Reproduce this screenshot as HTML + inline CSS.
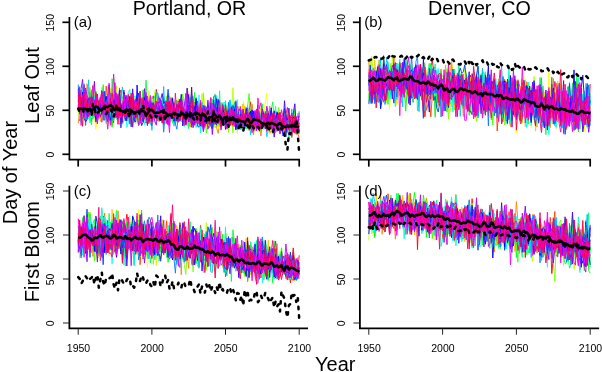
<!DOCTYPE html>
<html><head><meta charset="utf-8"><title>Phenology projections</title>
<style>
html,body{margin:0;padding:0;background:#fff}
svg{display:block}
text{font-family:"Liberation Sans",sans-serif;fill:#000}
.big{font-size:20px}
.ttl{font-size:19.65px}
.tk{font-size:10.5px}
.lab{font-size:15px}
polyline{fill:none;stroke-linejoin:round}
.ens{filter:url(#sf)}
.ens polyline{stroke-width:0.9}
polyline.mn{stroke:#000;stroke-width:2.6}
polyline.dt{stroke:#000;stroke-width:2.5;stroke-dasharray:2.4 6.2;stroke-linecap:round}
.ax path{fill:none;stroke:#000;stroke-width:1.7}
.ax.bt path{stroke:#222;stroke-width:1}
.ax.bt path.bx{stroke:#000;stroke-width:1.8}
</style></head><body>
<svg width="602" height="372" viewBox="0 0 602 372">
<defs><filter id="sf" x="-2%" y="-10%" width="104%" height="120%"><feGaussianBlur stdDeviation="0.65"/></filter></defs>
<rect width="602" height="372" fill="#fff"/>
<g class="ens">
<polyline points="78.2,99.1 79.7,120.8 81.1,111.7 82.6,106.0 84.1,98.2 85.6,95.2 87.0,112.0 88.5,111.5 90.0,104.4 91.5,111.5 92.9,111.1 94.4,98.3 95.9,92.4 97.4,106.5 98.8,110.5 100.3,103.6 101.8,122.3 103.2,109.4 104.7,116.6 106.2,86.1 107.7,102.4 109.1,108.0 110.6,110.8 112.1,125.1 113.6,102.7 115.0,93.9 116.5,114.6 118.0,103.1 119.5,102.8 120.9,120.3 122.4,100.9 123.9,95.2 125.3,107.8 126.8,110.4 128.3,102.7 129.8,120.7 131.2,109.5 132.7,93.1 134.2,119.0 135.7,101.4 137.1,113.6 138.6,124.9 140.1,111.8 141.6,117.7 143.0,108.4 144.5,119.2 146.0,101.9 147.4,116.6 148.9,108.5 150.4,115.9 151.9,110.3 153.3,101.3 154.8,110.3 156.3,115.0 157.8,120.8 159.2,102.2 160.7,103.4 162.2,115.0 163.7,99.6 165.1,119.9 166.6,119.9 168.1,118.8 169.5,110.4 171.0,111.0 172.5,118.6 174.0,103.0 175.4,107.1 176.9,112.6 178.4,105.2 179.9,116.2 181.3,115.2 182.8,110.5 184.3,113.8 185.8,108.0 187.2,123.0 188.7,102.8 190.2,120.2 191.6,116.4 193.1,124.1 194.6,102.2 196.1,104.9 197.5,106.8 199.0,109.0 200.5,125.7 202.0,121.1 203.4,114.3 204.9,122.2 206.4,107.4 207.9,106.7 209.3,117.2 210.8,113.2 212.3,122.9 213.7,122.8 215.2,122.8 216.7,113.7 218.2,115.2 219.6,113.4 221.1,109.5 222.6,126.1 224.1,121.7 225.5,117.5 227.0,126.3 228.5,121.9 230.0,111.1 231.4,110.6 232.9,110.9 234.4,119.2 235.8,120.9 237.3,111.4 238.8,122.0 240.3,117.5 241.7,110.1 243.2,122.4 244.7,123.8 246.2,120.8 247.6,116.4 249.1,111.6 250.6,120.1 252.1,117.2 253.5,129.6 255.0,126.0 256.5,120.7 257.9,109.2 259.4,128.8 260.9,128.3 262.4,127.0 263.8,123.6 265.3,127.8 266.8,121.3 268.3,110.9 269.7,124.0 271.2,114.3 272.7,121.6 274.2,121.1 275.6,125.2 277.1,128.6 278.6,118.1 280.0,129.7 281.5,115.3 283.0,120.7 284.5,133.9 285.9,119.7 287.4,114.5 288.9,128.9 290.4,118.8 291.8,133.4 293.3,124.2 294.8,133.1 296.3,123.0 297.7,133.8 299.2,137.4" stroke="#ff4000"/>
<polyline points="78.2,108.2 79.7,94.9 81.1,96.3 82.6,112.3 84.1,110.8 85.6,112.5 87.0,100.0 88.5,109.2 90.0,101.4 91.5,121.9 92.9,93.4 94.4,109.7 95.9,100.7 97.4,108.8 98.8,111.8 100.3,104.6 101.8,100.3 103.2,110.6 104.7,110.3 106.2,102.7 107.7,115.4 109.1,119.9 110.6,105.6 112.1,114.1 113.6,122.7 115.0,97.3 116.5,112.8 118.0,117.8 119.5,119.9 120.9,90.0 122.4,101.3 123.9,111.5 125.3,115.0 126.8,106.4 128.3,103.4 129.8,112.3 131.2,105.2 132.7,100.7 134.2,112.0 135.7,116.2 137.1,107.6 138.6,108.6 140.1,100.9 141.6,119.8 143.0,109.4 144.5,117.0 146.0,123.1 147.4,110.5 148.9,107.0 150.4,116.8 151.9,99.4 153.3,95.9 154.8,106.6 156.3,89.4 157.8,103.9 159.2,121.4 160.7,107.3 162.2,107.5 163.7,124.6 165.1,110.0 166.6,114.9 168.1,96.3 169.5,116.4 171.0,113.4 172.5,110.7 174.0,119.5 175.4,108.7 176.9,114.8 178.4,109.9 179.9,117.7 181.3,105.0 182.8,109.4 184.3,110.4 185.8,109.4 187.2,88.1 188.7,99.7 190.2,125.2 191.6,107.8 193.1,111.5 194.6,116.2 196.1,122.0 197.5,105.2 199.0,123.8 200.5,111.4 202.0,105.4 203.4,126.1 204.9,118.4 206.4,124.6 207.9,114.9 209.3,104.5 210.8,100.5 212.3,127.8 213.7,120.8 215.2,111.9 216.7,104.9 218.2,114.5 219.6,122.4 221.1,115.8 222.6,118.5 224.1,119.7 225.5,122.8 227.0,115.7 228.5,116.5 230.0,119.6 231.4,120.5 232.9,126.4 234.4,122.2 235.8,110.3 237.3,120.9 238.8,127.7 240.3,106.5 241.7,116.2 243.2,104.2 244.7,120.1 246.2,123.2 247.6,128.4 249.1,111.0 250.6,101.8 252.1,125.6 253.5,124.8 255.0,117.3 256.5,126.0 257.9,123.4 259.4,123.9 260.9,121.0 262.4,114.5 263.8,122.5 265.3,116.1 266.8,125.0 268.3,120.8 269.7,133.4 271.2,130.3 272.7,117.9 274.2,126.6 275.6,119.9 277.1,120.3 278.6,114.9 280.0,118.7 281.5,117.5 283.0,125.3 284.5,128.0 285.9,128.3 287.4,127.4 288.9,130.3 290.4,128.0 291.8,126.2 293.3,124.2 294.8,127.5 296.3,134.3 297.7,126.7 299.2,125.0" stroke="#ff0000"/>
<polyline points="78.2,123.3 79.7,111.5 81.1,110.5 82.6,96.1 84.1,87.1 85.6,118.0 87.0,83.9 88.5,93.1 90.0,100.4 91.5,105.1 92.9,84.8 94.4,108.1 95.9,112.3 97.4,107.6 98.8,118.6 100.3,104.4 101.8,109.9 103.2,105.9 104.7,105.6 106.2,116.6 107.7,96.4 109.1,116.3 110.6,100.7 112.1,120.4 113.6,105.8 115.0,115.1 116.5,109.1 118.0,114.0 119.5,124.5 120.9,116.8 122.4,109.0 123.9,103.8 125.3,119.8 126.8,105.2 128.3,115.9 129.8,111.6 131.2,108.7 132.7,115.8 134.2,102.5 135.7,101.5 137.1,103.8 138.6,117.1 140.1,110.2 141.6,112.4 143.0,120.7 144.5,103.2 146.0,110.6 147.4,114.8 148.9,98.7 150.4,104.8 151.9,104.1 153.3,101.1 154.8,105.6 156.3,120.6 157.8,115.0 159.2,103.5 160.7,117.7 162.2,112.4 163.7,98.5 165.1,100.1 166.6,101.6 168.1,105.3 169.5,114.6 171.0,105.4 172.5,109.0 174.0,114.8 175.4,101.9 176.9,109.7 178.4,119.0 179.9,103.2 181.3,116.0 182.8,109.3 184.3,124.4 185.8,114.9 187.2,120.9 188.7,116.4 190.2,127.3 191.6,87.1 193.1,116.4 194.6,113.5 196.1,106.2 197.5,116.6 199.0,111.6 200.5,124.4 202.0,114.6 203.4,118.9 204.9,112.3 206.4,115.2 207.9,125.1 209.3,128.0 210.8,123.1 212.3,111.2 213.7,113.9 215.2,113.3 216.7,128.2 218.2,133.4 219.6,121.6 221.1,120.1 222.6,121.8 224.1,115.6 225.5,119.4 227.0,125.4 228.5,123.8 230.0,117.9 231.4,118.6 232.9,119.8 234.4,101.7 235.8,121.1 237.3,118.9 238.8,125.3 240.3,122.0 241.7,116.2 243.2,113.3 244.7,121.4 246.2,117.7 247.6,107.5 249.1,130.7 250.6,116.6 252.1,104.0 253.5,115.3 255.0,122.0 256.5,130.6 257.9,128.4 259.4,112.2 260.9,136.0 262.4,124.1 263.8,116.3 265.3,121.8 266.8,117.5 268.3,123.8 269.7,106.0 271.2,128.3 272.7,130.0 274.2,121.9 275.6,111.2 277.1,117.7 278.6,116.9 280.0,126.9 281.5,129.9 283.0,115.0 284.5,114.0 285.9,114.4 287.4,127.2 288.9,130.4 290.4,130.6 291.8,126.7 293.3,121.9 294.8,122.6 296.3,132.3 297.7,125.1 299.2,122.9" stroke="#ff8000"/>
<polyline points="78.2,115.9 79.7,96.9 81.1,103.6 82.6,110.7 84.1,120.5 85.6,113.5 87.0,109.4 88.5,101.1 90.0,112.1 91.5,98.8 92.9,108.4 94.4,114.8 95.9,129.2 97.4,117.9 98.8,120.1 100.3,110.8 101.8,106.7 103.2,96.4 104.7,109.9 106.2,117.9 107.7,85.2 109.1,107.1 110.6,111.8 112.1,111.8 113.6,119.3 115.0,103.6 116.5,106.7 118.0,95.1 119.5,99.3 120.9,102.1 122.4,98.5 123.9,112.3 125.3,113.4 126.8,110.8 128.3,119.0 129.8,111.6 131.2,113.0 132.7,104.8 134.2,111.1 135.7,124.0 137.1,111.0 138.6,98.3 140.1,120.4 141.6,116.7 143.0,111.6 144.5,120.7 146.0,115.6 147.4,111.7 148.9,120.9 150.4,109.7 151.9,108.8 153.3,120.9 154.8,112.4 156.3,103.1 157.8,112.7 159.2,109.2 160.7,107.4 162.2,114.7 163.7,104.6 165.1,110.1 166.6,120.0 168.1,109.1 169.5,93.2 171.0,106.9 172.5,118.2 174.0,110.2 175.4,102.3 176.9,112.4 178.4,104.2 179.9,103.3 181.3,114.9 182.8,109.1 184.3,116.8 185.8,105.9 187.2,115.7 188.7,118.8 190.2,115.6 191.6,116.0 193.1,112.4 194.6,111.9 196.1,123.1 197.5,120.1 199.0,113.2 200.5,112.3 202.0,115.8 203.4,94.6 204.9,107.4 206.4,117.3 207.9,111.0 209.3,106.1 210.8,114.3 212.3,127.7 213.7,116.8 215.2,117.3 216.7,100.5 218.2,128.6 219.6,105.6 221.1,119.1 222.6,110.9 224.1,120.2 225.5,117.3 227.0,109.8 228.5,118.3 230.0,110.7 231.4,119.7 232.9,121.6 234.4,120.7 235.8,122.4 237.3,120.5 238.8,109.4 240.3,126.3 241.7,129.0 243.2,101.1 244.7,107.6 246.2,112.7 247.6,110.7 249.1,111.5 250.6,124.9 252.1,120.4 253.5,134.9 255.0,124.7 256.5,117.2 257.9,129.7 259.4,132.3 260.9,128.6 262.4,120.8 263.8,114.0 265.3,102.7 266.8,93.0 268.3,130.2 269.7,134.2 271.2,122.2 272.7,115.8 274.2,131.2 275.6,126.2 277.1,126.0 278.6,123.8 280.0,125.1 281.5,120.7 283.0,117.0 284.5,124.1 285.9,119.5 287.4,111.1 288.9,129.6 290.4,123.0 291.8,121.9 293.3,112.8 294.8,116.8 296.3,118.4 297.7,126.4 299.2,119.9" stroke="#ffff00"/>
<polyline points="78.2,92.8 79.7,106.1 81.1,120.2 82.6,96.7 84.1,102.3 85.6,101.2 87.0,96.3 88.5,114.6 90.0,92.1 91.5,105.7 92.9,96.1 94.4,85.4 95.9,112.8 97.4,109.8 98.8,106.4 100.3,121.8 101.8,113.9 103.2,113.7 104.7,93.9 106.2,113.9 107.7,94.2 109.1,109.3 110.6,121.0 112.1,88.1 113.6,116.2 115.0,103.6 116.5,85.8 118.0,113.3 119.5,108.6 120.9,99.8 122.4,109.2 123.9,118.2 125.3,117.3 126.8,112.7 128.3,101.0 129.8,112.2 131.2,104.2 132.7,95.0 134.2,98.7 135.7,97.3 137.1,99.4 138.6,121.7 140.1,99.7 141.6,100.9 143.0,112.1 144.5,118.7 146.0,122.1 147.4,119.1 148.9,104.3 150.4,119.7 151.9,117.4 153.3,116.2 154.8,106.2 156.3,114.4 157.8,113.5 159.2,96.4 160.7,114.9 162.2,105.2 163.7,119.9 165.1,110.2 166.6,112.2 168.1,111.8 169.5,116.5 171.0,120.3 172.5,115.7 174.0,116.9 175.4,104.9 176.9,106.2 178.4,122.0 179.9,108.9 181.3,117.6 182.8,98.6 184.3,117.8 185.8,124.3 187.2,106.2 188.7,111.2 190.2,123.0 191.6,127.3 193.1,117.4 194.6,123.0 196.1,118.0 197.5,110.6 199.0,103.6 200.5,112.6 202.0,104.7 203.4,106.7 204.9,119.2 206.4,126.7 207.9,109.8 209.3,112.0 210.8,97.8 212.3,105.6 213.7,111.1 215.2,103.8 216.7,123.8 218.2,116.3 219.6,119.6 221.1,104.1 222.6,113.8 224.1,122.6 225.5,107.7 227.0,123.8 228.5,112.7 230.0,121.7 231.4,117.3 232.9,113.9 234.4,117.9 235.8,124.8 237.3,108.9 238.8,116.8 240.3,120.2 241.7,114.7 243.2,123.2 244.7,106.0 246.2,118.9 247.6,118.0 249.1,118.3 250.6,125.8 252.1,127.3 253.5,119.8 255.0,119.0 256.5,111.7 257.9,112.6 259.4,127.5 260.9,107.8 262.4,116.3 263.8,115.2 265.3,120.3 266.8,128.8 268.3,114.6 269.7,126.7 271.2,119.2 272.7,130.9 274.2,118.2 275.6,127.5 277.1,116.3 278.6,111.7 280.0,116.1 281.5,128.1 283.0,128.9 284.5,128.7 285.9,120.4 287.4,122.8 288.9,124.2 290.4,123.4 291.8,121.7 293.3,121.4 294.8,103.5 296.3,126.4 297.7,124.9 299.2,134.2" stroke="#ffbf00"/>
<polyline points="78.2,108.6 79.7,98.3 81.1,101.3 82.6,111.7 84.1,100.1 85.6,97.7 87.0,115.8 88.5,100.2 90.0,87.5 91.5,107.7 92.9,101.0 94.4,117.3 95.9,102.9 97.4,112.1 98.8,100.0 100.3,108.1 101.8,116.4 103.2,96.9 104.7,109.7 106.2,115.3 107.7,107.2 109.1,115.1 110.6,104.1 112.1,108.6 113.6,111.0 115.0,101.6 116.5,117.4 118.0,98.8 119.5,122.4 120.9,92.8 122.4,106.6 123.9,110.6 125.3,113.9 126.8,103.3 128.3,110.2 129.8,110.4 131.2,99.1 132.7,112.4 134.2,111.1 135.7,105.2 137.1,99.3 138.6,109.9 140.1,101.3 141.6,109.3 143.0,102.9 144.5,96.1 146.0,116.8 147.4,111.5 148.9,110.8 150.4,104.7 151.9,96.8 153.3,110.9 154.8,108.9 156.3,100.6 157.8,119.8 159.2,116.7 160.7,114.7 162.2,111.6 163.7,109.6 165.1,115.6 166.6,96.1 168.1,117.0 169.5,113.8 171.0,102.5 172.5,105.5 174.0,112.7 175.4,109.3 176.9,105.5 178.4,113.0 179.9,107.3 181.3,119.5 182.8,112.7 184.3,124.4 185.8,114.0 187.2,121.4 188.7,103.0 190.2,117.3 191.6,111.5 193.1,120.5 194.6,116.0 196.1,116.6 197.5,113.8 199.0,107.5 200.5,125.7 202.0,109.8 203.4,92.8 204.9,120.8 206.4,115.4 207.9,125.6 209.3,116.2 210.8,124.1 212.3,111.1 213.7,119.7 215.2,127.9 216.7,124.8 218.2,126.6 219.6,119.1 221.1,110.4 222.6,115.5 224.1,124.8 225.5,120.3 227.0,112.8 228.5,132.3 230.0,113.8 231.4,115.4 232.9,132.7 234.4,109.6 235.8,128.4 237.3,120.7 238.8,110.2 240.3,128.7 241.7,130.0 243.2,126.2 244.7,126.1 246.2,118.3 247.6,123.5 249.1,123.5 250.6,123.5 252.1,122.1 253.5,125.8 255.0,118.9 256.5,121.6 257.9,127.0 259.4,108.1 260.9,128.5 262.4,116.7 263.8,126.2 265.3,119.2 266.8,118.8 268.3,116.5 269.7,112.5 271.2,127.3 272.7,118.8 274.2,120.5 275.6,127.6 277.1,130.2 278.6,106.9 280.0,112.2 281.5,124.3 283.0,118.9 284.5,111.3 285.9,123.9 287.4,126.9 288.9,125.2 290.4,119.2 291.8,125.1 293.3,123.0 294.8,120.3 296.3,133.3 297.7,129.3 299.2,117.5" stroke="#80ff00"/>
<polyline points="78.2,112.8 79.7,110.2 81.1,114.4 82.6,102.3 84.1,97.8 85.6,89.4 87.0,97.0 88.5,113.5 90.0,105.9 91.5,118.2 92.9,101.3 94.4,103.4 95.9,113.0 97.4,109.5 98.8,110.6 100.3,113.3 101.8,87.3 103.2,118.0 104.7,100.8 106.2,98.6 107.7,107.4 109.1,111.5 110.6,87.8 112.1,111.7 113.6,105.3 115.0,110.1 116.5,89.3 118.0,109.7 119.5,103.6 120.9,118.1 122.4,110.2 123.9,91.5 125.3,116.7 126.8,114.3 128.3,96.8 129.8,106.0 131.2,96.1 132.7,125.3 134.2,108.8 135.7,116.7 137.1,119.9 138.6,106.7 140.1,99.7 141.6,120.9 143.0,110.9 144.5,115.1 146.0,112.1 147.4,120.3 148.9,90.7 150.4,106.2 151.9,114.2 153.3,115.4 154.8,90.8 156.3,91.8 157.8,115.5 159.2,101.5 160.7,101.1 162.2,120.5 163.7,116.7 165.1,100.8 166.6,117.6 168.1,116.0 169.5,122.1 171.0,118.4 172.5,107.4 174.0,119.1 175.4,122.3 176.9,118.0 178.4,98.5 179.9,112.5 181.3,118.0 182.8,113.1 184.3,110.7 185.8,113.7 187.2,126.5 188.7,112.4 190.2,116.5 191.6,108.0 193.1,123.9 194.6,106.5 196.1,118.8 197.5,126.4 199.0,104.6 200.5,119.3 202.0,93.7 203.4,117.4 204.9,107.4 206.4,107.4 207.9,107.5 209.3,111.1 210.8,124.8 212.3,127.3 213.7,115.8 215.2,123.2 216.7,113.9 218.2,112.1 219.6,123.4 221.1,124.2 222.6,124.9 224.1,123.6 225.5,119.8 227.0,113.4 228.5,108.3 230.0,124.5 231.4,122.4 232.9,87.7 234.4,112.5 235.8,117.9 237.3,132.6 238.8,106.1 240.3,118.9 241.7,123.5 243.2,105.0 244.7,119.9 246.2,118.6 247.6,126.7 249.1,126.5 250.6,113.1 252.1,124.6 253.5,122.8 255.0,118.9 256.5,120.1 257.9,114.6 259.4,129.0 260.9,120.8 262.4,120.8 263.8,111.0 265.3,123.9 266.8,120.6 268.3,127.1 269.7,120.3 271.2,115.0 272.7,126.6 274.2,125.9 275.6,124.2 277.1,120.0 278.6,129.6 280.0,118.2 281.5,126.2 283.0,111.4 284.5,114.7 285.9,126.9 287.4,128.1 288.9,108.3 290.4,121.2 291.8,121.9 293.3,127.8 294.8,126.7 296.3,120.7 297.7,122.2 299.2,130.0" stroke="#bfff00"/>
<polyline points="78.2,91.8 79.7,98.5 81.1,114.8 82.6,118.7 84.1,100.2 85.6,119.2 87.0,99.8 88.5,105.4 90.0,112.8 91.5,110.7 92.9,98.0 94.4,107.5 95.9,101.8 97.4,109.1 98.8,111.6 100.3,104.0 101.8,103.2 103.2,101.1 104.7,108.7 106.2,116.9 107.7,116.2 109.1,111.6 110.6,121.7 112.1,78.7 113.6,100.4 115.0,116.9 116.5,110.4 118.0,93.7 119.5,105.9 120.9,116.5 122.4,124.2 123.9,120.8 125.3,98.9 126.8,107.1 128.3,118.8 129.8,103.7 131.2,112.8 132.7,114.9 134.2,114.0 135.7,113.8 137.1,95.5 138.6,117.2 140.1,113.7 141.6,99.0 143.0,97.6 144.5,117.9 146.0,80.1 147.4,101.7 148.9,121.5 150.4,95.6 151.9,121.7 153.3,104.4 154.8,119.8 156.3,124.0 157.8,104.9 159.2,108.9 160.7,102.4 162.2,111.2 163.7,113.7 165.1,112.8 166.6,118.4 168.1,108.2 169.5,109.7 171.0,115.2 172.5,117.4 174.0,115.7 175.4,121.1 176.9,116.1 178.4,120.5 179.9,103.2 181.3,104.5 182.8,117.5 184.3,114.6 185.8,108.0 187.2,111.0 188.7,115.0 190.2,96.8 191.6,115.4 193.1,112.7 194.6,92.5 196.1,121.2 197.5,107.8 199.0,112.3 200.5,124.1 202.0,120.1 203.4,109.5 204.9,125.3 206.4,117.8 207.9,102.9 209.3,118.4 210.8,115.0 212.3,121.2 213.7,121.1 215.2,121.2 216.7,119.8 218.2,107.7 219.6,117.5 221.1,102.4 222.6,114.0 224.1,116.3 225.5,100.8 227.0,119.4 228.5,123.4 230.0,117.9 231.4,125.2 232.9,115.4 234.4,108.9 235.8,114.8 237.3,122.0 238.8,120.8 240.3,116.4 241.7,111.3 243.2,122.5 244.7,122.8 246.2,112.5 247.6,119.3 249.1,118.5 250.6,117.6 252.1,125.3 253.5,122.3 255.0,113.8 256.5,122.7 257.9,123.0 259.4,120.0 260.9,119.5 262.4,103.9 263.8,126.6 265.3,121.8 266.8,108.4 268.3,122.9 269.7,120.6 271.2,110.9 272.7,101.9 274.2,117.6 275.6,118.1 277.1,116.9 278.6,121.7 280.0,124.7 281.5,118.6 283.0,124.8 284.5,119.5 285.9,111.6 287.4,126.7 288.9,137.7 290.4,126.2 291.8,120.5 293.3,127.0 294.8,110.1 296.3,130.3 297.7,127.8 299.2,111.0" stroke="#00ff40"/>
<polyline points="78.2,114.7 79.7,115.5 81.1,108.0 82.6,115.7 84.1,83.6 85.6,114.2 87.0,114.2 88.5,102.2 90.0,112.0 91.5,125.1 92.9,109.9 94.4,115.8 95.9,112.6 97.4,120.2 98.8,115.4 100.3,110.4 101.8,109.8 103.2,117.0 104.7,114.4 106.2,115.4 107.7,108.4 109.1,110.7 110.6,118.2 112.1,103.8 113.6,114.6 115.0,106.3 116.5,116.2 118.0,107.3 119.5,110.9 120.9,109.7 122.4,105.6 123.9,106.3 125.3,108.9 126.8,109.1 128.3,119.0 129.8,111.1 131.2,125.3 132.7,125.8 134.2,113.1 135.7,112.6 137.1,97.6 138.6,105.4 140.1,101.5 141.6,113.6 143.0,107.8 144.5,101.3 146.0,107.2 147.4,108.9 148.9,111.3 150.4,118.2 151.9,118.2 153.3,121.8 154.8,105.9 156.3,114.4 157.8,117.1 159.2,109.8 160.7,116.7 162.2,103.9 163.7,96.4 165.1,109.4 166.6,117.9 168.1,123.2 169.5,95.7 171.0,109.9 172.5,121.4 174.0,104.7 175.4,124.8 176.9,117.1 178.4,115.9 179.9,116.8 181.3,121.9 182.8,94.2 184.3,111.8 185.8,111.8 187.2,114.9 188.7,125.3 190.2,118.8 191.6,113.7 193.1,107.0 194.6,117.9 196.1,110.0 197.5,118.1 199.0,111.2 200.5,131.3 202.0,111.4 203.4,120.3 204.9,120.1 206.4,133.0 207.9,123.3 209.3,112.1 210.8,98.4 212.3,121.5 213.7,121.4 215.2,113.8 216.7,115.6 218.2,111.4 219.6,119.1 221.1,120.5 222.6,113.5 224.1,112.3 225.5,104.8 227.0,111.6 228.5,113.8 230.0,117.9 231.4,104.4 232.9,117.0 234.4,102.8 235.8,117.6 237.3,109.0 238.8,124.3 240.3,112.2 241.7,109.8 243.2,121.4 244.7,124.1 246.2,125.3 247.6,106.3 249.1,93.6 250.6,116.4 252.1,119.9 253.5,125.2 255.0,130.9 256.5,130.8 257.9,123.2 259.4,123.0 260.9,128.1 262.4,116.7 263.8,118.9 265.3,121.7 266.8,131.4 268.3,124.2 269.7,123.5 271.2,129.4 272.7,133.8 274.2,110.1 275.6,119.6 277.1,125.9 278.6,113.0 280.0,116.6 281.5,121.5 283.0,123.2 284.5,119.5 285.9,115.0 287.4,124.8 288.9,126.4 290.4,121.6 291.8,137.8 293.3,125.3 294.8,127.8 296.3,126.3 297.7,127.2 299.2,124.3" stroke="#40ff00"/>
<polyline points="78.2,109.5 79.7,110.3 81.1,90.1 82.6,103.9 84.1,89.9 85.6,114.2 87.0,108.6 88.5,111.9 90.0,92.3 91.5,111.0 92.9,109.8 94.4,112.0 95.9,91.4 97.4,102.5 98.8,114.3 100.3,112.8 101.8,102.0 103.2,84.6 104.7,112.6 106.2,100.4 107.7,119.2 109.1,112.7 110.6,92.9 112.1,127.3 113.6,110.9 115.0,100.2 116.5,110.6 118.0,115.0 119.5,115.7 120.9,123.8 122.4,118.8 123.9,109.3 125.3,113.8 126.8,110.1 128.3,101.3 129.8,96.9 131.2,121.5 132.7,112.5 134.2,112.9 135.7,112.8 137.1,116.7 138.6,125.5 140.1,105.3 141.6,103.7 143.0,89.7 144.5,104.8 146.0,96.6 147.4,106.3 148.9,114.3 150.4,107.5 151.9,119.7 153.3,110.0 154.8,113.0 156.3,119.3 157.8,101.6 159.2,102.7 160.7,108.7 162.2,105.7 163.7,98.4 165.1,114.0 166.6,122.0 168.1,119.5 169.5,107.4 171.0,111.6 172.5,123.3 174.0,102.3 175.4,112.1 176.9,100.1 178.4,104.4 179.9,117.1 181.3,113.6 182.8,119.2 184.3,120.0 185.8,116.7 187.2,110.6 188.7,103.3 190.2,120.8 191.6,109.3 193.1,115.0 194.6,116.9 196.1,106.1 197.5,118.0 199.0,104.3 200.5,118.1 202.0,121.7 203.4,109.9 204.9,125.2 206.4,123.7 207.9,117.8 209.3,116.8 210.8,118.6 212.3,128.7 213.7,125.1 215.2,113.3 216.7,113.2 218.2,123.5 219.6,115.7 221.1,116.3 222.6,110.0 224.1,122.5 225.5,106.8 227.0,120.3 228.5,104.6 230.0,111.6 231.4,124.6 232.9,120.9 234.4,117.1 235.8,111.5 237.3,127.1 238.8,122.5 240.3,115.1 241.7,116.4 243.2,125.8 244.7,125.1 246.2,117.2 247.6,126.0 249.1,119.1 250.6,114.1 252.1,117.3 253.5,134.9 255.0,112.7 256.5,113.1 257.9,111.3 259.4,115.6 260.9,130.4 262.4,111.9 263.8,119.9 265.3,115.8 266.8,123.6 268.3,124.2 269.7,124.3 271.2,111.8 272.7,121.5 274.2,124.6 275.6,119.4 277.1,120.6 278.6,124.0 280.0,123.1 281.5,117.5 283.0,119.5 284.5,124.7 285.9,123.4 287.4,124.4 288.9,120.3 290.4,120.6 291.8,121.9 293.3,129.4 294.8,120.1 296.3,119.9 297.7,130.7 299.2,123.7" stroke="#00ff00"/>
<polyline points="78.2,95.1 79.7,119.0 81.1,121.0 82.6,86.7 84.1,99.1 85.6,102.5 87.0,105.0 88.5,105.3 90.0,115.2 91.5,110.5 92.9,115.8 94.4,96.6 95.9,101.9 97.4,105.9 98.8,104.5 100.3,109.6 101.8,116.8 103.2,91.5 104.7,102.1 106.2,110.0 107.7,102.8 109.1,94.5 110.6,97.0 112.1,102.2 113.6,100.6 115.0,110.6 116.5,95.6 118.0,99.6 119.5,99.7 120.9,118.2 122.4,102.8 123.9,102.6 125.3,101.4 126.8,127.5 128.3,122.5 129.8,106.8 131.2,116.4 132.7,106.1 134.2,110.7 135.7,101.9 137.1,114.2 138.6,117.8 140.1,105.5 141.6,112.7 143.0,118.4 144.5,124.6 146.0,105.0 147.4,113.8 148.9,113.1 150.4,124.9 151.9,118.6 153.3,112.9 154.8,108.8 156.3,104.8 157.8,117.3 159.2,107.8 160.7,101.8 162.2,113.2 163.7,113.2 165.1,123.7 166.6,118.5 168.1,122.3 169.5,107.0 171.0,114.6 172.5,99.0 174.0,111.8 175.4,106.4 176.9,109.1 178.4,112.0 179.9,121.2 181.3,99.3 182.8,114.9 184.3,126.6 185.8,118.4 187.2,121.9 188.7,104.3 190.2,105.6 191.6,101.5 193.1,95.9 194.6,119.5 196.1,127.6 197.5,121.6 199.0,94.9 200.5,133.0 202.0,119.8 203.4,108.8 204.9,121.5 206.4,117.2 207.9,122.2 209.3,101.7 210.8,99.8 212.3,123.3 213.7,122.3 215.2,116.1 216.7,111.5 218.2,113.8 219.6,112.0 221.1,109.3 222.6,107.6 224.1,102.1 225.5,116.2 227.0,120.8 228.5,118.5 230.0,99.7 231.4,110.0 232.9,112.4 234.4,107.4 235.8,108.4 237.3,99.5 238.8,123.6 240.3,111.8 241.7,113.0 243.2,112.6 244.7,121.8 246.2,128.7 247.6,121.6 249.1,124.0 250.6,120.9 252.1,111.6 253.5,115.0 255.0,126.9 256.5,125.1 257.9,119.5 259.4,112.4 260.9,121.8 262.4,119.4 263.8,129.7 265.3,124.7 266.8,126.4 268.3,120.8 269.7,124.1 271.2,127.3 272.7,128.5 274.2,121.6 275.6,126.7 277.1,115.1 278.6,122.6 280.0,125.4 281.5,117.5 283.0,130.0 284.5,117.8 285.9,128.1 287.4,119.6 288.9,128.2 290.4,129.6 291.8,133.7 293.3,114.4 294.8,122.3 296.3,132.1 297.7,113.6 299.2,126.4" stroke="#00ffff"/>
<polyline points="78.2,98.1 79.7,110.4 81.1,122.5 82.6,107.0 84.1,108.1 85.6,121.0 87.0,112.4 88.5,118.8 90.0,112.1 91.5,96.5 92.9,113.4 94.4,95.6 95.9,106.5 97.4,114.2 98.8,111.9 100.3,101.5 101.8,102.4 103.2,119.5 104.7,112.1 106.2,98.2 107.7,114.4 109.1,105.3 110.6,122.9 112.1,115.8 113.6,94.4 115.0,111.2 116.5,119.5 118.0,119.2 119.5,112.2 120.9,120.5 122.4,110.4 123.9,104.3 125.3,95.0 126.8,112.6 128.3,92.5 129.8,89.4 131.2,111.7 132.7,105.3 134.2,96.0 135.7,96.4 137.1,103.5 138.6,111.4 140.1,103.0 141.6,109.0 143.0,109.5 144.5,108.8 146.0,94.5 147.4,119.6 148.9,112.2 150.4,119.1 151.9,103.8 153.3,101.7 154.8,96.2 156.3,114.6 157.8,111.8 159.2,105.4 160.7,110.9 162.2,110.0 163.7,111.0 165.1,110.4 166.6,113.8 168.1,109.2 169.5,123.0 171.0,116.2 172.5,122.3 174.0,114.3 175.4,118.6 176.9,109.1 178.4,102.8 179.9,115.0 181.3,119.4 182.8,111.5 184.3,101.8 185.8,107.8 187.2,110.9 188.7,115.3 190.2,117.9 191.6,111.8 193.1,110.9 194.6,114.0 196.1,115.9 197.5,122.0 199.0,121.1 200.5,118.3 202.0,123.3 203.4,113.5 204.9,122.0 206.4,118.4 207.9,113.7 209.3,110.0 210.8,114.9 212.3,106.6 213.7,120.8 215.2,122.0 216.7,95.4 218.2,122.9 219.6,118.8 221.1,115.5 222.6,109.0 224.1,112.5 225.5,122.8 227.0,128.5 228.5,116.7 230.0,102.8 231.4,109.8 232.9,104.5 234.4,117.5 235.8,120.8 237.3,117.1 238.8,121.5 240.3,127.4 241.7,125.0 243.2,120.8 244.7,129.2 246.2,127.5 247.6,111.4 249.1,124.5 250.6,115.0 252.1,112.9 253.5,121.3 255.0,115.3 256.5,122.7 257.9,126.3 259.4,122.6 260.9,121.7 262.4,121.5 263.8,122.0 265.3,124.7 266.8,115.0 268.3,124.0 269.7,125.2 271.2,116.6 272.7,128.2 274.2,120.8 275.6,106.3 277.1,123.5 278.6,114.0 280.0,125.5 281.5,126.8 283.0,125.4 284.5,127.3 285.9,126.5 287.4,127.1 288.9,119.6 290.4,122.6 291.8,126.5 293.3,129.0 294.8,120.5 296.3,126.9 297.7,116.6 299.2,131.3" stroke="#00ffbf"/>
<polyline points="78.2,111.0 79.7,105.8 81.1,92.0 82.6,110.9 84.1,103.9 85.6,110.4 87.0,104.3 88.5,107.2 90.0,122.8 91.5,108.0 92.9,119.0 94.4,115.0 95.9,120.7 97.4,101.1 98.8,111.4 100.3,111.9 101.8,97.0 103.2,102.3 104.7,110.8 106.2,123.8 107.7,103.0 109.1,110.8 110.6,112.0 112.1,102.4 113.6,113.9 115.0,110.2 116.5,101.1 118.0,104.2 119.5,113.9 120.9,95.9 122.4,98.9 123.9,92.0 125.3,110.3 126.8,108.0 128.3,100.2 129.8,106.1 131.2,109.0 132.7,111.2 134.2,112.6 135.7,115.1 137.1,115.2 138.6,104.8 140.1,113.1 141.6,120.6 143.0,110.8 144.5,96.2 146.0,99.0 147.4,125.0 148.9,117.4 150.4,104.8 151.9,111.3 153.3,111.5 154.8,113.1 156.3,111.9 157.8,119.2 159.2,102.0 160.7,119.6 162.2,113.8 163.7,99.3 165.1,103.4 166.6,113.3 168.1,113.4 169.5,117.4 171.0,116.8 172.5,112.7 174.0,102.1 175.4,116.7 176.9,109.1 178.4,110.4 179.9,110.8 181.3,116.2 182.8,108.2 184.3,113.2 185.8,113.9 187.2,117.9 188.7,128.7 190.2,108.9 191.6,108.8 193.1,118.5 194.6,116.6 196.1,113.2 197.5,121.7 199.0,109.9 200.5,110.0 202.0,109.0 203.4,108.6 204.9,127.9 206.4,112.2 207.9,119.3 209.3,107.7 210.8,108.3 212.3,99.1 213.7,117.8 215.2,93.9 216.7,117.9 218.2,123.7 219.6,90.7 221.1,126.3 222.6,102.8 224.1,110.2 225.5,107.9 227.0,110.3 228.5,115.5 230.0,126.1 231.4,122.3 232.9,114.7 234.4,120.4 235.8,116.5 237.3,123.3 238.8,123.9 240.3,117.5 241.7,114.3 243.2,120.1 244.7,125.4 246.2,129.1 247.6,105.3 249.1,126.7 250.6,125.5 252.1,124.9 253.5,114.6 255.0,125.1 256.5,117.6 257.9,119.6 259.4,127.6 260.9,121.0 262.4,128.3 263.8,123.3 265.3,117.3 266.8,124.0 268.3,113.7 269.7,125.2 271.2,116.6 272.7,121.1 274.2,134.3 275.6,132.3 277.1,120.6 278.6,124.8 280.0,124.3 281.5,123.1 283.0,125.5 284.5,126.9 285.9,117.2 287.4,120.7 288.9,123.1 290.4,125.5 291.8,130.2 293.3,124.4 294.8,130.9 296.3,129.1 297.7,125.5 299.2,125.8" stroke="#00ff80"/>
<polyline points="78.2,104.1 79.7,112.9 81.1,114.5 82.6,109.6 84.1,106.3 85.6,110.9 87.0,112.4 88.5,79.8 90.0,107.0 91.5,89.8 92.9,115.6 94.4,106.5 95.9,106.9 97.4,104.0 98.8,107.2 100.3,109.2 101.8,90.0 103.2,110.6 104.7,105.2 106.2,100.7 107.7,113.9 109.1,102.4 110.6,122.7 112.1,98.6 113.6,120.6 115.0,112.0 116.5,108.9 118.0,113.3 119.5,113.5 120.9,98.5 122.4,87.0 123.9,100.1 125.3,108.7 126.8,114.6 128.3,115.6 129.8,99.0 131.2,100.9 132.7,98.2 134.2,101.4 135.7,98.4 137.1,115.1 138.6,116.5 140.1,102.8 141.6,111.6 143.0,112.8 144.5,110.7 146.0,119.9 147.4,110.4 148.9,104.6 150.4,111.5 151.9,130.3 153.3,112.5 154.8,114.9 156.3,104.3 157.8,113.8 159.2,107.2 160.7,115.6 162.2,110.2 163.7,86.4 165.1,115.2 166.6,110.8 168.1,112.2 169.5,107.0 171.0,114.6 172.5,109.8 174.0,126.1 175.4,115.7 176.9,107.1 178.4,103.4 179.9,120.8 181.3,119.9 182.8,111.4 184.3,111.9 185.8,111.1 187.2,114.7 188.7,114.5 190.2,106.6 191.6,121.5 193.1,124.5 194.6,107.3 196.1,120.7 197.5,110.3 199.0,120.4 200.5,121.0 202.0,102.3 203.4,113.6 204.9,125.4 206.4,118.3 207.9,118.2 209.3,118.5 210.8,116.2 212.3,124.4 213.7,119.4 215.2,114.3 216.7,113.1 218.2,117.6 219.6,123.0 221.1,129.8 222.6,107.0 224.1,125.1 225.5,121.5 227.0,119.0 228.5,115.8 230.0,100.2 231.4,124.0 232.9,119.9 234.4,103.6 235.8,100.5 237.3,121.3 238.8,115.3 240.3,129.7 241.7,119.0 243.2,115.3 244.7,122.4 246.2,107.1 247.6,114.6 249.1,116.7 250.6,134.9 252.1,124.7 253.5,116.5 255.0,124.4 256.5,130.9 257.9,125.1 259.4,111.2 260.9,117.6 262.4,116.4 263.8,121.5 265.3,111.3 266.8,136.6 268.3,129.0 269.7,109.6 271.2,116.1 272.7,122.1 274.2,125.6 275.6,132.5 277.1,125.3 278.6,125.1 280.0,123.6 281.5,115.1 283.0,117.7 284.5,126.3 285.9,119.0 287.4,125.6 288.9,123.8 290.4,127.8 291.8,108.9 293.3,132.4 294.8,126.8 296.3,119.4 297.7,119.6 299.2,133.4" stroke="#00bfff"/>
<polyline points="78.2,84.5 79.7,101.4 81.1,109.4 82.6,103.9 84.1,99.9 85.6,125.5 87.0,109.2 88.5,108.9 90.0,102.9 91.5,97.6 92.9,101.5 94.4,111.9 95.9,102.1 97.4,114.4 98.8,101.6 100.3,110.4 101.8,110.5 103.2,108.0 104.7,120.4 106.2,111.6 107.7,117.7 109.1,100.4 110.6,97.2 112.1,119.5 113.6,106.8 115.0,107.3 116.5,113.6 118.0,116.1 119.5,87.9 120.9,112.5 122.4,116.9 123.9,111.8 125.3,107.3 126.8,95.2 128.3,107.3 129.8,118.8 131.2,113.7 132.7,93.2 134.2,122.4 135.7,111.1 137.1,99.9 138.6,108.5 140.1,112.5 141.6,117.1 143.0,109.9 144.5,97.6 146.0,109.1 147.4,102.3 148.9,109.9 150.4,100.1 151.9,110.7 153.3,103.9 154.8,107.8 156.3,92.6 157.8,93.1 159.2,101.4 160.7,99.9 162.2,111.1 163.7,132.2 165.1,115.5 166.6,111.7 168.1,119.0 169.5,112.0 171.0,107.7 172.5,97.7 174.0,111.5 175.4,124.1 176.9,129.2 178.4,115.2 179.9,102.4 181.3,104.6 182.8,113.6 184.3,118.9 185.8,119.3 187.2,115.8 188.7,114.1 190.2,110.0 191.6,95.3 193.1,98.2 194.6,114.1 196.1,111.4 197.5,106.9 199.0,107.8 200.5,120.0 202.0,126.1 203.4,109.7 204.9,113.3 206.4,111.6 207.9,113.8 209.3,110.3 210.8,106.3 212.3,121.7 213.7,96.3 215.2,95.6 216.7,111.3 218.2,118.8 219.6,115.8 221.1,126.1 222.6,117.9 224.1,123.0 225.5,119.0 227.0,120.4 228.5,102.3 230.0,123.7 231.4,116.6 232.9,121.5 234.4,106.8 235.8,111.1 237.3,127.9 238.8,125.1 240.3,117.7 241.7,121.1 243.2,116.7 244.7,119.7 246.2,126.2 247.6,122.3 249.1,117.2 250.6,121.4 252.1,120.1 253.5,118.5 255.0,122.2 256.5,111.5 257.9,121.0 259.4,118.5 260.9,124.8 262.4,119.3 263.8,116.2 265.3,116.9 266.8,117.8 268.3,117.4 269.7,119.2 271.2,124.4 272.7,118.1 274.2,116.6 275.6,117.5 277.1,121.2 278.6,122.1 280.0,133.3 281.5,125.9 283.0,125.5 284.5,117.7 285.9,116.5 287.4,123.0 288.9,130.2 290.4,122.0 291.8,118.8 293.3,120.5 294.8,128.9 296.3,130.7 297.7,130.1 299.2,130.9" stroke="#0080ff"/>
<polyline points="78.2,87.7 79.7,91.7 81.1,112.0 82.6,104.5 84.1,110.7 85.6,104.3 87.0,114.8 88.5,116.1 90.0,109.4 91.5,114.7 92.9,96.9 94.4,102.0 95.9,105.9 97.4,110.2 98.8,110.4 100.3,99.8 101.8,108.6 103.2,109.3 104.7,91.1 106.2,108.1 107.7,111.3 109.1,111.1 110.6,97.2 112.1,113.0 113.6,105.4 115.0,99.1 116.5,98.5 118.0,96.2 119.5,115.6 120.9,105.6 122.4,111.2 123.9,106.0 125.3,120.8 126.8,111.4 128.3,100.0 129.8,108.4 131.2,126.8 132.7,101.1 134.2,107.2 135.7,112.6 137.1,110.9 138.6,113.2 140.1,91.2 141.6,111.4 143.0,122.1 144.5,117.2 146.0,96.5 147.4,101.3 148.9,104.5 150.4,117.2 151.9,107.1 153.3,102.7 154.8,111.4 156.3,105.7 157.8,102.2 159.2,103.2 160.7,99.8 162.2,105.3 163.7,121.1 165.1,106.8 166.6,105.7 168.1,89.3 169.5,111.8 171.0,103.9 172.5,113.5 174.0,106.5 175.4,110.0 176.9,109.9 178.4,119.9 179.9,119.9 181.3,113.9 182.8,117.8 184.3,109.8 185.8,123.5 187.2,88.4 188.7,118.9 190.2,112.0 191.6,105.8 193.1,107.3 194.6,113.7 196.1,97.6 197.5,126.1 199.0,127.2 200.5,109.9 202.0,108.6 203.4,127.2 204.9,112.0 206.4,108.8 207.9,105.0 209.3,115.8 210.8,126.2 212.3,128.7 213.7,100.1 215.2,114.1 216.7,109.6 218.2,119.7 219.6,115.9 221.1,119.3 222.6,123.6 224.1,120.1 225.5,124.8 227.0,121.0 228.5,109.9 230.0,118.8 231.4,121.3 232.9,105.6 234.4,109.1 235.8,119.2 237.3,129.2 238.8,109.7 240.3,109.8 241.7,123.3 243.2,109.2 244.7,124.9 246.2,122.0 247.6,123.2 249.1,115.7 250.6,121.8 252.1,110.0 253.5,123.2 255.0,118.2 256.5,121.4 257.9,120.0 259.4,126.2 260.9,122.4 262.4,112.1 263.8,116.4 265.3,126.2 266.8,124.9 268.3,127.9 269.7,126.7 271.2,126.4 272.7,129.3 274.2,120.3 275.6,117.3 277.1,122.5 278.6,126.4 280.0,123.2 281.5,128.0 283.0,117.3 284.5,108.4 285.9,136.8 287.4,122.4 288.9,124.9 290.4,124.1 291.8,123.8 293.3,132.2 294.8,120.4 296.3,127.9 297.7,126.9 299.2,126.7" stroke="#0040ff"/>
<polyline points="78.2,89.2 79.7,113.9 81.1,88.7 82.6,79.4 84.1,108.7 85.6,88.1 87.0,95.7 88.5,117.0 90.0,112.4 91.5,98.3 92.9,105.3 94.4,81.3 95.9,104.1 97.4,94.0 98.8,110.2 100.3,115.9 101.8,113.3 103.2,108.7 104.7,115.0 106.2,108.9 107.7,110.3 109.1,111.0 110.6,109.1 112.1,111.6 113.6,99.4 115.0,107.9 116.5,93.8 118.0,118.9 119.5,95.2 120.9,112.5 122.4,122.5 123.9,90.0 125.3,118.4 126.8,101.7 128.3,102.4 129.8,98.7 131.2,112.8 132.7,127.1 134.2,104.1 135.7,110.9 137.1,104.0 138.6,104.8 140.1,98.4 141.6,105.7 143.0,113.1 144.5,88.6 146.0,114.9 147.4,125.6 148.9,105.4 150.4,106.8 151.9,102.5 153.3,106.1 154.8,111.6 156.3,104.4 157.8,114.7 159.2,105.9 160.7,115.6 162.2,105.7 163.7,114.0 165.1,111.6 166.6,114.8 168.1,102.5 169.5,111.7 171.0,116.3 172.5,111.9 174.0,102.8 175.4,111.0 176.9,120.4 178.4,118.6 179.9,120.5 181.3,102.1 182.8,112.4 184.3,106.6 185.8,94.3 187.2,116.6 188.7,105.1 190.2,115.5 191.6,112.1 193.1,127.7 194.6,115.9 196.1,118.0 197.5,120.3 199.0,114.0 200.5,122.6 202.0,117.7 203.4,131.7 204.9,117.8 206.4,120.8 207.9,100.1 209.3,115.4 210.8,112.2 212.3,134.5 213.7,120.0 215.2,124.4 216.7,107.1 218.2,110.1 219.6,117.1 221.1,116.9 222.6,117.6 224.1,118.9 225.5,113.6 227.0,110.9 228.5,119.9 230.0,123.2 231.4,106.6 232.9,121.8 234.4,123.5 235.8,101.7 237.3,119.0 238.8,120.8 240.3,127.3 241.7,125.7 243.2,109.9 244.7,122.2 246.2,111.9 247.6,126.4 249.1,114.6 250.6,111.2 252.1,123.3 253.5,130.2 255.0,111.3 256.5,120.4 257.9,121.7 259.4,115.1 260.9,126.9 262.4,111.5 263.8,116.1 265.3,118.1 266.8,117.9 268.3,125.8 269.7,123.6 271.2,119.5 272.7,125.5 274.2,113.4 275.6,117.3 277.1,113.5 278.6,130.6 280.0,112.8 281.5,126.3 283.0,127.7 284.5,125.8 285.9,114.5 287.4,121.3 288.9,121.9 290.4,117.7 291.8,117.6 293.3,117.3 294.8,118.9 296.3,123.4 297.7,122.2 299.2,131.7" stroke="#8000ff"/>
<polyline points="78.2,104.0 79.7,102.0 81.1,109.6 82.6,92.1 84.1,116.4 85.6,104.7 87.0,111.0 88.5,98.5 90.0,98.4 91.5,114.3 92.9,108.5 94.4,112.3 95.9,118.7 97.4,114.9 98.8,106.2 100.3,103.9 101.8,114.5 103.2,109.5 104.7,101.6 106.2,96.2 107.7,106.3 109.1,115.2 110.6,120.4 112.1,109.1 113.6,111.8 115.0,100.0 116.5,114.5 118.0,113.6 119.5,108.5 120.9,103.6 122.4,115.5 123.9,92.6 125.3,96.8 126.8,111.8 128.3,107.5 129.8,96.3 131.2,110.8 132.7,114.7 134.2,114.8 135.7,117.6 137.1,85.0 138.6,112.5 140.1,110.3 141.6,109.3 143.0,112.7 144.5,97.8 146.0,112.7 147.4,117.4 148.9,121.0 150.4,116.5 151.9,110.5 153.3,110.7 154.8,109.8 156.3,115.2 157.8,108.7 159.2,108.7 160.7,120.7 162.2,109.5 163.7,109.4 165.1,115.0 166.6,103.7 168.1,113.0 169.5,118.4 171.0,105.4 172.5,98.3 174.0,121.3 175.4,114.5 176.9,104.4 178.4,109.0 179.9,105.6 181.3,94.3 182.8,126.0 184.3,108.9 185.8,125.2 187.2,109.7 188.7,122.0 190.2,111.2 191.6,125.8 193.1,114.7 194.6,125.0 196.1,99.0 197.5,119.1 199.0,116.2 200.5,123.4 202.0,114.9 203.4,105.6 204.9,114.6 206.4,123.7 207.9,119.9 209.3,118.0 210.8,102.9 212.3,118.1 213.7,114.0 215.2,109.2 216.7,98.6 218.2,112.8 219.6,121.1 221.1,123.9 222.6,104.8 224.1,115.3 225.5,129.4 227.0,121.7 228.5,121.6 230.0,121.0 231.4,114.3 232.9,114.2 234.4,109.2 235.8,129.9 237.3,117.6 238.8,121.1 240.3,125.8 241.7,113.9 243.2,125.5 244.7,127.7 246.2,108.5 247.6,117.9 249.1,114.9 250.6,111.4 252.1,127.9 253.5,111.3 255.0,121.0 256.5,117.9 257.9,116.1 259.4,117.5 260.9,124.2 262.4,122.6 263.8,121.5 265.3,115.2 266.8,123.2 268.3,112.9 269.7,127.7 271.2,107.8 272.7,120.2 274.2,111.2 275.6,125.0 277.1,111.8 278.6,119.3 280.0,121.5 281.5,121.4 283.0,135.9 284.5,131.5 285.9,132.2 287.4,124.7 288.9,126.4 290.4,119.9 291.8,123.3 293.3,117.4 294.8,129.0 296.3,123.8 297.7,128.5 299.2,131.4" stroke="#0000ff"/>
<polyline points="78.2,105.7 79.7,109.1 81.1,107.0 82.6,95.2 84.1,118.4 85.6,121.6 87.0,119.9 88.5,111.3 90.0,108.3 91.5,104.0 92.9,106.3 94.4,108.2 95.9,122.1 97.4,114.2 98.8,105.4 100.3,105.4 101.8,113.0 103.2,112.7 104.7,105.0 106.2,115.9 107.7,121.6 109.1,112.4 110.6,111.9 112.1,101.9 113.6,101.4 115.0,111.6 116.5,113.7 118.0,113.4 119.5,90.1 120.9,127.8 122.4,104.7 123.9,111.9 125.3,109.8 126.8,121.1 128.3,108.8 129.8,116.2 131.2,105.6 132.7,88.8 134.2,119.6 135.7,122.1 137.1,100.5 138.6,93.0 140.1,111.4 141.6,125.7 143.0,122.4 144.5,103.0 146.0,95.7 147.4,112.9 148.9,121.3 150.4,101.7 151.9,121.6 153.3,117.2 154.8,116.9 156.3,117.1 157.8,108.1 159.2,119.5 160.7,99.5 162.2,93.5 163.7,103.6 165.1,101.4 166.6,116.1 168.1,125.1 169.5,112.3 171.0,112.1 172.5,111.7 174.0,116.8 175.4,110.4 176.9,121.2 178.4,107.5 179.9,99.1 181.3,113.7 182.8,114.6 184.3,109.5 185.8,110.4 187.2,110.4 188.7,94.4 190.2,117.3 191.6,87.1 193.1,123.4 194.6,106.3 196.1,121.4 197.5,106.4 199.0,117.0 200.5,126.1 202.0,123.0 203.4,122.7 204.9,105.7 206.4,120.7 207.9,118.2 209.3,123.3 210.8,117.7 212.3,117.8 213.7,113.3 215.2,122.1 216.7,125.2 218.2,99.3 219.6,111.4 221.1,112.6 222.6,124.4 224.1,121.7 225.5,116.5 227.0,122.5 228.5,127.2 230.0,118.0 231.4,121.6 232.9,117.5 234.4,113.3 235.8,122.7 237.3,126.4 238.8,124.5 240.3,114.5 241.7,120.0 243.2,114.9 244.7,122.8 246.2,115.5 247.6,123.7 249.1,124.7 250.6,121.6 252.1,109.8 253.5,123.1 255.0,121.7 256.5,115.1 257.9,125.7 259.4,131.2 260.9,119.7 262.4,108.9 263.8,115.3 265.3,128.9 266.8,120.1 268.3,115.4 269.7,117.1 271.2,110.6 272.7,117.8 274.2,137.1 275.6,120.2 277.1,127.9 278.6,128.8 280.0,132.5 281.5,130.7 283.0,126.7 284.5,100.7 285.9,117.4 287.4,121.0 288.9,108.2 290.4,127.6 291.8,129.6 293.3,113.0 294.8,103.9 296.3,128.0 297.7,121.6 299.2,115.7" stroke="#4000ff"/>
<polyline points="78.2,94.9 79.7,108.8 81.1,108.2 82.6,107.4 84.1,109.2 85.6,89.4 87.0,106.0 88.5,116.8 90.0,106.0 91.5,102.6 92.9,116.2 94.4,107.1 95.9,111.5 97.4,117.9 98.8,115.3 100.3,101.4 101.8,91.0 103.2,120.4 104.7,102.4 106.2,111.4 107.7,129.2 109.1,116.7 110.6,125.4 112.1,113.7 113.6,74.0 115.0,90.5 116.5,107.1 118.0,115.4 119.5,117.6 120.9,114.7 122.4,107.6 123.9,98.2 125.3,109.5 126.8,98.2 128.3,111.0 129.8,124.1 131.2,107.4 132.7,93.9 134.2,105.2 135.7,100.6 137.1,108.9 138.6,112.6 140.1,110.7 141.6,107.9 143.0,106.0 144.5,102.4 146.0,114.1 147.4,118.5 148.9,109.2 150.4,113.1 151.9,112.9 153.3,118.1 154.8,104.4 156.3,103.7 157.8,103.7 159.2,105.7 160.7,107.9 162.2,115.7 163.7,115.5 165.1,110.5 166.6,123.6 168.1,103.8 169.5,126.0 171.0,97.6 172.5,108.2 174.0,117.8 175.4,114.1 176.9,117.3 178.4,100.9 179.9,104.7 181.3,113.5 182.8,117.6 184.3,109.5 185.8,112.4 187.2,115.1 188.7,118.2 190.2,121.3 191.6,123.6 193.1,119.8 194.6,125.4 196.1,116.6 197.5,100.9 199.0,115.6 200.5,110.2 202.0,119.7 203.4,105.3 204.9,115.3 206.4,110.0 207.9,107.7 209.3,113.2 210.8,97.5 212.3,122.5 213.7,119.2 215.2,113.4 216.7,118.1 218.2,114.0 219.6,100.6 221.1,119.7 222.6,113.0 224.1,121.2 225.5,123.0 227.0,129.1 228.5,115.0 230.0,108.0 231.4,118.8 232.9,109.9 234.4,126.5 235.8,120.5 237.3,120.5 238.8,114.2 240.3,119.6 241.7,116.0 243.2,109.1 244.7,126.2 246.2,121.2 247.6,108.0 249.1,124.3 250.6,118.4 252.1,130.0 253.5,126.5 255.0,122.9 256.5,130.7 257.9,97.9 259.4,108.5 260.9,102.8 262.4,113.1 263.8,116.1 265.3,124.1 266.8,124.0 268.3,122.3 269.7,116.7 271.2,119.2 272.7,131.4 274.2,113.0 275.6,120.4 277.1,131.4 278.6,126.6 280.0,134.1 281.5,126.8 283.0,125.2 284.5,135.4 285.9,128.5 287.4,122.4 288.9,127.1 290.4,115.8 291.8,120.0 293.3,118.3 294.8,131.3 296.3,130.2 297.7,124.3 299.2,123.3" stroke="#ff00bf"/>
<polyline points="78.2,108.1 79.7,98.4 81.1,125.5 82.6,105.7 84.1,116.9 85.6,99.1 87.0,95.9 88.5,97.3 90.0,100.6 91.5,97.2 92.9,86.1 94.4,112.3 95.9,93.1 97.4,111.0 98.8,118.3 100.3,97.5 101.8,101.1 103.2,105.4 104.7,113.3 106.2,102.7 107.7,110.4 109.1,84.9 110.6,105.3 112.1,104.8 113.6,112.5 115.0,103.0 116.5,92.8 118.0,114.0 119.5,111.6 120.9,118.0 122.4,109.8 123.9,93.9 125.3,117.6 126.8,112.2 128.3,112.0 129.8,111.7 131.2,115.2 132.7,112.5 134.2,117.8 135.7,108.3 137.1,101.4 138.6,103.4 140.1,123.2 141.6,98.6 143.0,104.3 144.5,100.6 146.0,117.1 147.4,96.0 148.9,105.2 150.4,95.6 151.9,118.0 153.3,109.2 154.8,107.9 156.3,114.4 157.8,109.0 159.2,115.7 160.7,100.9 162.2,123.2 163.7,109.9 165.1,116.2 166.6,113.4 168.1,119.0 169.5,132.7 171.0,99.9 172.5,107.0 174.0,109.8 175.4,113.9 176.9,111.0 178.4,115.9 179.9,112.9 181.3,101.9 182.8,118.2 184.3,119.9 185.8,93.2 187.2,117.7 188.7,112.7 190.2,112.8 191.6,109.7 193.1,109.5 194.6,114.0 196.1,121.3 197.5,121.3 199.0,114.8 200.5,100.3 202.0,126.7 203.4,116.7 204.9,112.2 206.4,119.8 207.9,114.5 209.3,117.3 210.8,110.2 212.3,103.3 213.7,119.0 215.2,109.8 216.7,113.7 218.2,116.2 219.6,117.6 221.1,130.1 222.6,117.2 224.1,124.2 225.5,115.2 227.0,115.1 228.5,114.2 230.0,121.4 231.4,121.6 232.9,115.7 234.4,125.1 235.8,107.4 237.3,106.2 238.8,111.1 240.3,107.6 241.7,114.1 243.2,125.9 244.7,113.4 246.2,115.5 247.6,119.6 249.1,128.4 250.6,124.2 252.1,132.9 253.5,121.6 255.0,123.1 256.5,127.3 257.9,128.1 259.4,112.3 260.9,129.7 262.4,117.1 263.8,121.8 265.3,113.8 266.8,130.6 268.3,122.3 269.7,114.3 271.2,124.2 272.7,130.1 274.2,132.7 275.6,126.8 277.1,116.9 278.6,113.4 280.0,123.9 281.5,109.7 283.0,117.7 284.5,116.9 285.9,128.7 287.4,120.1 288.9,129.7 290.4,124.0 291.8,120.2 293.3,118.4 294.8,126.5 296.3,118.4 297.7,116.0 299.2,119.9" stroke="#ff00ff"/>
<polyline points="78.2,105.0 79.7,107.9 81.1,106.0 82.6,112.4 84.1,84.6 85.6,113.1 87.0,116.4 88.5,101.5 90.0,112.4 91.5,106.5 92.9,110.5 94.4,99.9 95.9,111.8 97.4,124.0 98.8,109.7 100.3,102.8 101.8,91.1 103.2,106.6 104.7,101.2 106.2,114.1 107.7,95.2 109.1,83.2 110.6,106.0 112.1,111.6 113.6,108.7 115.0,82.8 116.5,117.7 118.0,97.3 119.5,116.1 120.9,115.0 122.4,106.9 123.9,103.5 125.3,100.6 126.8,96.4 128.3,117.4 129.8,109.2 131.2,97.6 132.7,107.6 134.2,99.8 135.7,110.0 137.1,112.5 138.6,125.4 140.1,123.1 141.6,103.6 143.0,118.6 144.5,108.3 146.0,92.4 147.4,112.2 148.9,102.3 150.4,115.9 151.9,106.4 153.3,112.7 154.8,121.7 156.3,125.1 157.8,113.5 159.2,97.9 160.7,102.2 162.2,108.4 163.7,105.7 165.1,104.9 166.6,114.6 168.1,101.6 169.5,102.7 171.0,116.7 172.5,115.7 174.0,107.8 175.4,114.5 176.9,107.2 178.4,121.7 179.9,116.2 181.3,97.7 182.8,104.6 184.3,121.3 185.8,124.9 187.2,115.5 188.7,121.5 190.2,103.8 191.6,127.2 193.1,105.0 194.6,121.8 196.1,123.3 197.5,115.4 199.0,123.7 200.5,119.7 202.0,119.6 203.4,131.0 204.9,123.7 206.4,113.9 207.9,129.2 209.3,125.1 210.8,122.6 212.3,109.9 213.7,110.1 215.2,105.6 216.7,123.4 218.2,111.4 219.6,116.3 221.1,125.7 222.6,114.3 224.1,112.1 225.5,122.5 227.0,124.9 228.5,124.0 230.0,115.3 231.4,115.9 232.9,121.1 234.4,121.7 235.8,123.0 237.3,114.1 238.8,118.6 240.3,125.7 241.7,119.4 243.2,117.0 244.7,123.8 246.2,123.3 247.6,124.1 249.1,116.4 250.6,123.4 252.1,121.6 253.5,121.0 255.0,110.3 256.5,129.5 257.9,104.9 259.4,128.2 260.9,123.5 262.4,126.5 263.8,120.7 265.3,118.9 266.8,106.1 268.3,114.6 269.7,126.6 271.2,122.0 272.7,122.9 274.2,127.0 275.6,119.8 277.1,122.3 278.6,126.4 280.0,123.5 281.5,119.7 283.0,125.3 284.5,116.7 285.9,119.2 287.4,130.6 288.9,134.6 290.4,125.4 291.8,128.7 293.3,130.4 294.8,129.2 296.3,116.5 297.7,127.4 299.2,112.7" stroke="#bf00ff"/>
<polyline points="78.2,111.4 79.7,86.7 81.1,112.6 82.6,95.6 84.1,93.1 85.6,109.5 87.0,102.9 88.5,104.9 90.0,108.9 91.5,95.4 92.9,109.2 94.4,114.8 95.9,93.6 97.4,99.0 98.8,103.7 100.3,97.1 101.8,107.2 103.2,91.7 104.7,109.8 106.2,114.1 107.7,112.1 109.1,108.0 110.6,107.8 112.1,113.1 113.6,112.9 115.0,118.1 116.5,113.1 118.0,94.3 119.5,110.8 120.9,116.1 122.4,114.1 123.9,114.9 125.3,110.6 126.8,115.6 128.3,94.3 129.8,115.7 131.2,112.0 132.7,97.1 134.2,110.8 135.7,99.2 137.1,112.1 138.6,103.8 140.1,91.5 141.6,107.2 143.0,106.6 144.5,118.5 146.0,111.8 147.4,116.0 148.9,110.7 150.4,119.6 151.9,125.7 153.3,107.1 154.8,111.4 156.3,101.0 157.8,110.8 159.2,111.8 160.7,118.3 162.2,121.7 163.7,106.3 165.1,120.6 166.6,101.2 168.1,101.0 169.5,108.9 171.0,103.1 172.5,114.3 174.0,117.3 175.4,93.2 176.9,115.7 178.4,103.3 179.9,119.4 181.3,111.1 182.8,107.3 184.3,125.2 185.8,124.3 187.2,119.1 188.7,117.4 190.2,114.8 191.6,120.1 193.1,120.1 194.6,122.0 196.1,122.1 197.5,112.9 199.0,119.2 200.5,122.8 202.0,123.4 203.4,121.3 204.9,126.2 206.4,115.2 207.9,113.7 209.3,124.9 210.8,120.4 212.3,119.5 213.7,111.2 215.2,122.0 216.7,119.8 218.2,123.8 219.6,107.0 221.1,122.0 222.6,104.8 224.1,109.7 225.5,110.0 227.0,116.8 228.5,127.4 230.0,124.5 231.4,113.5 232.9,119.3 234.4,111.1 235.8,119.7 237.3,115.7 238.8,119.1 240.3,116.1 241.7,117.5 243.2,112.2 244.7,123.3 246.2,121.9 247.6,124.4 249.1,121.1 250.6,117.8 252.1,120.8 253.5,131.3 255.0,125.2 256.5,108.9 257.9,123.7 259.4,125.3 260.9,124.2 262.4,114.7 263.8,118.4 265.3,112.6 266.8,130.7 268.3,128.1 269.7,129.2 271.2,116.4 272.7,118.7 274.2,126.5 275.6,126.4 277.1,122.3 278.6,115.1 280.0,112.1 281.5,127.5 283.0,118.6 284.5,125.8 285.9,114.1 287.4,107.4 288.9,121.7 290.4,121.4 291.8,136.6 293.3,122.1 294.8,133.2 296.3,128.7 297.7,120.6 299.2,133.0" stroke="#ff0080"/>
<polyline points="78.2,101.9 79.7,93.2 81.1,110.7 82.6,126.3 84.1,100.5 85.6,98.4 87.0,108.7 88.5,111.8 90.0,97.4 91.5,97.3 92.9,108.9 94.4,110.1 95.9,106.9 97.4,98.6 98.8,107.5 100.3,117.3 101.8,113.4 103.2,107.5 104.7,105.3 106.2,113.2 107.7,101.9 109.1,113.7 110.6,99.8 112.1,93.0 113.6,101.4 115.0,108.6 116.5,104.0 118.0,124.4 119.5,95.8 120.9,115.9 122.4,116.9 123.9,113.1 125.3,117.1 126.8,107.3 128.3,112.9 129.8,111.5 131.2,93.2 132.7,107.9 134.2,113.0 135.7,112.9 137.1,117.4 138.6,102.9 140.1,119.5 141.6,115.0 143.0,97.5 144.5,114.5 146.0,111.5 147.4,101.0 148.9,123.7 150.4,111.2 151.9,104.5 153.3,111.9 154.8,108.2 156.3,119.3 157.8,113.2 159.2,115.7 160.7,113.7 162.2,122.6 163.7,118.1 165.1,110.2 166.6,118.4 168.1,109.9 169.5,101.3 171.0,112.5 172.5,114.1 174.0,109.7 175.4,120.6 176.9,118.3 178.4,122.0 179.9,120.6 181.3,100.8 182.8,120.3 184.3,115.6 185.8,117.8 187.2,118.5 188.7,117.7 190.2,117.4 191.6,95.6 193.1,111.1 194.6,113.2 196.1,117.4 197.5,118.4 199.0,117.9 200.5,103.0 202.0,124.2 203.4,118.0 204.9,111.8 206.4,113.2 207.9,123.3 209.3,124.0 210.8,118.2 212.3,108.8 213.7,112.4 215.2,118.6 216.7,120.4 218.2,119.8 219.6,119.6 221.1,126.6 222.6,119.6 224.1,119.5 225.5,104.7 227.0,117.8 228.5,119.3 230.0,125.6 231.4,120.2 232.9,125.3 234.4,118.6 235.8,122.2 237.3,124.6 238.8,127.5 240.3,117.8 241.7,118.6 243.2,118.3 244.7,116.3 246.2,111.3 247.6,112.7 249.1,126.7 250.6,116.5 252.1,123.9 253.5,124.4 255.0,125.5 256.5,118.4 257.9,119.5 259.4,114.9 260.9,127.0 262.4,121.5 263.8,127.5 265.3,119.6 266.8,113.4 268.3,127.8 269.7,116.0 271.2,128.3 272.7,113.6 274.2,122.5 275.6,120.4 277.1,129.2 278.6,113.5 280.0,125.1 281.5,126.7 283.0,118.3 284.5,128.4 285.9,126.4 287.4,127.0 288.9,128.8 290.4,118.5 291.8,113.1 293.3,129.9 294.8,115.8 296.3,119.2 297.7,127.9 299.2,122.5" stroke="#ff0040"/>
</g>
<polyline points="78.2,108.5 79.7,108.6 81.1,108.5 82.6,108.6 84.1,108.1 85.6,109.1 87.0,109.8 88.5,109.2 90.0,109.6 91.5,110.5 92.9,109.7 94.4,108.1 95.9,106.4 97.4,106.9 98.8,108.7 100.3,110.1 101.8,110.4 103.2,108.0 104.7,105.9 106.2,106.7 107.7,107.1 109.1,105.9 110.6,105.4 112.1,106.4 113.6,109.3 115.0,110.0 116.5,108.1 118.0,108.9 119.5,110.2 120.9,110.6 122.4,111.2 123.9,111.9 125.3,110.2 126.8,109.5 128.3,110.7 129.8,109.5 131.2,110.1 132.7,111.9 134.2,112.3 135.7,112.4 137.1,111.8 138.6,111.5 140.1,110.5 141.6,110.4 143.0,111.1 144.5,111.9 146.0,114.4 147.4,113.9 148.9,111.2 150.4,109.9 151.9,109.8 153.3,111.4 154.8,113.1 156.3,112.7 157.8,112.8 159.2,112.5 160.7,111.4 162.2,111.1 163.7,112.9 165.1,112.5 166.6,113.8 168.1,115.8 169.5,114.5 171.0,114.3 172.5,114.2 174.0,113.1 175.4,113.7 176.9,114.3 178.4,114.8 179.9,115.7 181.3,114.2 182.8,113.3 184.3,115.1 185.8,118.5 187.2,115.6 188.7,114.4 190.2,116.6 191.6,115.9 193.1,114.3 194.6,113.5 196.1,113.8 197.5,113.3 199.0,114.2 200.5,115.9 202.0,115.2 203.4,114.0 204.9,115.3 206.4,118.4 207.9,119.5 209.3,117.2 210.8,117.3 212.3,116.9 213.7,113.7 215.2,114.8 216.7,117.3 218.2,116.7 219.6,115.3 221.1,118.6 222.6,121.2 224.1,117.6 225.5,117.2 227.0,120.7 228.5,120.2 230.0,120.0 231.4,119.7 232.9,117.4 234.4,118.9 235.8,121.4 237.3,120.6 238.8,119.8 240.3,120.9 241.7,121.3 243.2,121.6 244.7,122.2 246.2,120.9 247.6,118.8 249.1,120.8 250.6,123.5 252.1,122.0 253.5,119.4 255.0,119.8 256.5,120.1 257.9,120.0 259.4,121.3 260.9,122.6 262.4,123.6 263.8,123.6 265.3,124.8 266.8,123.3 268.3,122.8 269.7,124.3 271.2,122.8 272.7,123.4 274.2,124.0 275.6,124.9 277.1,125.4 278.6,124.0 280.0,123.0 281.5,125.3 283.0,126.3 284.5,126.9 285.9,127.1 287.4,125.3 288.9,126.8 290.4,125.6 291.8,125.7 293.3,126.1 294.8,126.5 296.3,126.8 297.7,126.7 299.2,127.2" class="mn"/>
<polyline points="78.2,108.6 79.7,112.2 81.1,110.4 82.6,109.0 84.1,113.0 85.6,111.8 87.0,109.2 88.5,113.1 90.0,108.9 91.5,115.9 92.9,103.9 94.4,106.9 95.9,115.1 97.4,113.1 98.8,111.7 100.3,108.9 101.8,108.4 103.2,107.4 104.7,107.2 106.2,114.5 107.7,110.5 109.1,111.6 110.6,109.3 112.1,111.7 113.6,117.0 115.0,112.9 116.5,103.6 118.0,111.5 119.5,107.8 120.9,111.9 122.4,112.6 123.9,111.7 125.3,112.6 126.8,109.2 128.3,113.4 129.8,118.0 131.2,109.4 132.7,110.5 134.2,113.6 135.7,112.8 137.1,110.0 138.6,111.3 140.1,115.7 141.6,108.3 143.0,104.6 144.5,112.7 146.0,116.0 147.4,109.5 148.9,108.6 150.4,115.9 151.9,118.0 153.3,117.6 154.8,115.0 156.3,117.0 157.8,115.2 159.2,115.3 160.7,119.3 162.2,113.2 163.7,110.0 165.1,121.0 166.6,115.5 168.1,116.4 169.5,117.5 171.0,115.0 172.5,118.7 174.0,113.0 175.4,116.8 176.9,119.1 178.4,114.7 179.9,115.9 181.3,111.8 182.8,116.0 184.3,117.8 185.8,110.7 187.2,116.2 188.7,115.9 190.2,112.6 191.6,119.1 193.1,117.8 194.6,120.1 196.1,111.6 197.5,120.7 199.0,121.6 200.5,121.8 202.0,112.6 203.4,115.1 204.9,120.9 206.4,121.1 207.9,111.5 209.3,121.0 210.8,119.0 212.3,121.6 213.7,111.5 215.2,121.8 216.7,124.2 218.2,119.3 219.6,119.1 221.1,121.1 222.6,122.7 224.1,126.4 225.5,123.7 227.0,115.2 228.5,126.7 230.0,117.7 231.4,114.8 232.9,118.3 234.4,121.7 235.8,119.2 237.3,119.6 238.8,128.3 240.3,122.6 241.7,128.0 243.2,131.8 244.7,122.4 246.2,128.4 247.6,125.2 249.1,130.5 250.6,123.3 252.1,124.8 253.5,127.9 255.0,129.9 256.5,129.4 257.9,126.7 259.4,129.4 260.9,130.7 262.4,125.7 263.8,126.5 265.3,124.5 266.8,125.0 268.3,131.7 269.7,127.7 271.2,130.9 272.7,132.6 274.2,127.9 275.6,129.3 277.1,127.2 278.6,130.0 280.0,126.6 281.5,129.3 283.0,128.1 284.5,134.9 285.9,145.5 287.4,149.9 288.9,133.2 290.4,134.3 291.8,125.6 293.3,124.0 294.8,126.9 296.3,119.1 297.7,133.2 299.2,153.0" class="dt"/>
<g class="ax tp">
<path class="bx" d="M69.4 17.0 V159.6 H300.0"/>
<path d="M62.4 154.3 H69.4"/>
<path d="M62.4 110.3 H69.4"/>
<path d="M62.4 66.3 H69.4"/>
<path d="M62.4 22.3 H69.4"/>
<path d="M78.2 159.6 V166.6"/>
<path d="M151.9 159.6 V166.6"/>
<path d="M225.5 159.6 V166.6"/>
<path d="M299.2 159.6 V166.6"/>
</g>
<text class="tk" transform="translate(54.2 154.7) rotate(-90)" text-anchor="middle">0</text>
<text class="tk" transform="translate(54.2 110.7) rotate(-90)" text-anchor="middle">50</text>
<text class="tk" transform="translate(54.2 66.7) rotate(-90)" text-anchor="middle">100</text>
<text class="tk" transform="translate(54.2 22.7) rotate(-90)" text-anchor="middle">150</text>
<text class="lab" x="73.7" y="27.4">(a)</text>
<g class="ens">
<polyline points="368.8,69.6 370.3,74.2 371.8,76.0 373.2,75.2 374.7,81.2 376.2,102.3 377.7,70.0 379.1,77.9 380.6,89.8 382.1,86.5 383.6,71.9 385.0,88.4 386.5,94.4 388.0,75.9 389.5,71.5 390.9,70.6 392.4,71.3 393.9,76.1 395.4,81.3 396.8,103.3 398.3,80.7 399.8,86.6 401.3,63.2 402.7,85.4 404.2,76.0 405.7,71.6 407.2,93.9 408.7,94.7 410.1,67.9 411.6,68.8 413.1,101.9 414.6,80.3 416.0,68.3 417.5,91.8 419.0,81.5 420.5,81.3 421.9,87.1 423.4,89.6 424.9,116.8 426.4,98.0 427.8,88.6 429.3,82.3 430.8,67.0 432.3,60.5 433.7,71.4 435.2,83.6 436.7,99.5 438.2,88.6 439.6,75.6 441.1,88.5 442.6,84.3 444.1,76.1 445.6,98.8 447.0,96.4 448.5,72.6 450.0,82.3 451.5,78.4 452.9,85.6 454.4,101.2 455.9,75.1 457.4,94.0 458.8,84.0 460.3,83.4 461.8,84.8 463.3,104.0 464.7,85.0 466.2,106.3 467.7,87.2 469.2,95.9 470.6,75.1 472.1,98.8 473.6,93.6 475.1,94.1 476.5,116.1 478.0,95.6 479.5,93.6 481.0,103.0 482.5,95.7 483.9,91.0 485.4,90.1 486.9,88.6 488.4,83.3 489.8,82.6 491.3,99.1 492.8,92.2 494.3,96.5 495.7,102.2 497.2,102.9 498.7,110.4 500.2,95.2 501.6,86.9 503.1,103.2 504.6,104.3 506.1,109.9 507.5,115.1 509.0,112.7 510.5,97.5 512.0,120.4 513.4,81.8 514.9,91.3 516.4,100.3 517.9,108.5 519.4,90.9 520.8,105.8 522.3,79.1 523.8,104.0 525.3,97.2 526.7,112.7 528.2,94.7 529.7,97.6 531.2,97.8 532.6,83.5 534.1,118.9 535.6,125.2 537.1,126.8 538.5,113.0 540.0,109.5 541.5,110.0 543.0,100.2 544.4,92.8 545.9,114.6 547.4,91.2 548.9,113.1 550.3,122.0 551.8,98.2 553.3,96.8 554.8,99.3 556.3,118.4 557.7,90.1 559.2,103.6 560.7,116.7 562.2,109.0 563.6,107.0 565.1,110.2 566.6,124.2 568.1,86.8 569.5,114.9 571.0,105.4 572.5,111.4 574.0,107.5 575.4,125.4 576.9,82.7 578.4,90.0 579.9,112.4 581.3,95.5 582.8,111.2 584.3,100.6 585.8,113.6 587.2,125.4 588.7,118.0 590.2,118.0" stroke="#ff0000"/>
<polyline points="368.8,74.3 370.3,83.4 371.8,75.5 373.2,76.8 374.7,82.8 376.2,89.1 377.7,82.3 379.1,69.3 380.6,100.8 382.1,77.4 383.6,80.6 385.0,81.0 386.5,76.8 388.0,74.6 389.5,78.4 390.9,66.2 392.4,81.7 393.9,58.0 395.4,101.7 396.8,63.0 398.3,82.2 399.8,93.0 401.3,89.2 402.7,84.3 404.2,76.8 405.7,79.4 407.2,66.5 408.7,80.9 410.1,83.0 411.6,84.0 413.1,74.9 414.6,79.8 416.0,66.0 417.5,87.8 419.0,85.6 420.5,87.3 421.9,91.6 423.4,87.4 424.9,93.7 426.4,110.4 427.8,104.9 429.3,98.2 430.8,116.8 432.3,95.5 433.7,79.4 435.2,83.1 436.7,106.5 438.2,105.7 439.6,94.1 441.1,97.5 442.6,82.1 444.1,86.8 445.6,85.8 447.0,92.2 448.5,79.4 450.0,87.0 451.5,62.4 452.9,81.4 454.4,87.3 455.9,92.0 457.4,96.6 458.8,102.2 460.3,87.9 461.8,84.6 463.3,74.1 464.7,87.1 466.2,80.8 467.7,87.3 469.2,93.5 470.6,85.4 472.1,85.0 473.6,94.5 475.1,94.9 476.5,93.6 478.0,117.5 479.5,89.4 481.0,110.4 482.5,68.2 483.9,95.3 485.4,90.6 486.9,90.0 488.4,115.4 489.8,77.6 491.3,102.2 492.8,82.7 494.3,80.1 495.7,85.0 497.2,131.0 498.7,110.0 500.2,101.7 501.6,112.1 503.1,97.4 504.6,79.3 506.1,83.3 507.5,102.8 509.0,111.7 510.5,89.4 512.0,90.0 513.4,102.2 514.9,109.9 516.4,81.2 517.9,79.7 519.4,84.9 520.8,90.6 522.3,105.6 523.8,97.6 525.3,114.4 526.7,82.5 528.2,114.8 529.7,111.4 531.2,106.1 532.6,105.1 534.1,84.8 535.6,93.2 537.1,112.9 538.5,100.1 540.0,100.9 541.5,85.3 543.0,123.1 544.4,111.7 545.9,117.0 547.4,103.5 548.9,94.2 550.3,108.8 551.8,77.2 553.3,117.1 554.8,105.3 556.3,114.5 557.7,122.0 559.2,112.6 560.7,107.6 562.2,115.5 563.6,115.4 565.1,109.8 566.6,115.9 568.1,96.0 569.5,100.8 571.0,108.9 572.5,95.0 574.0,130.6 575.4,119.4 576.9,91.7 578.4,119.1 579.9,96.8 581.3,104.7 582.8,109.8 584.3,113.7 585.8,122.1 587.2,125.0 588.7,126.8 590.2,106.0" stroke="#ff4000"/>
<polyline points="368.8,75.1 370.3,88.5 371.8,79.6 373.2,71.3 374.7,67.3 376.2,96.2 377.7,77.2 379.1,77.4 380.6,77.8 382.1,79.6 383.6,77.8 385.0,84.8 386.5,74.5 388.0,65.8 389.5,99.7 390.9,65.6 392.4,95.2 393.9,83.4 395.4,90.0 396.8,72.3 398.3,81.5 399.8,73.2 401.3,103.2 402.7,79.0 404.2,70.8 405.7,79.2 407.2,92.2 408.7,78.9 410.1,64.4 411.6,71.0 413.1,68.7 414.6,91.9 416.0,86.3 417.5,88.5 419.0,83.8 420.5,93.9 421.9,90.9 423.4,69.6 424.9,97.9 426.4,76.5 427.8,85.4 429.3,91.0 430.8,76.9 432.3,82.5 433.7,71.4 435.2,64.3 436.7,78.5 438.2,89.9 439.6,93.2 441.1,106.3 442.6,85.6 444.1,94.1 445.6,64.9 447.0,93.9 448.5,95.2 450.0,99.4 451.5,89.2 452.9,95.2 454.4,110.1 455.9,77.2 457.4,84.0 458.8,71.9 460.3,82.2 461.8,89.4 463.3,79.8 464.7,90.5 466.2,78.3 467.7,90.4 469.2,87.9 470.6,113.0 472.1,96.3 473.6,87.8 475.1,90.3 476.5,92.9 478.0,79.8 479.5,79.7 481.0,108.3 482.5,92.4 483.9,88.2 485.4,71.8 486.9,90.7 488.4,99.8 489.8,95.8 491.3,81.4 492.8,125.1 494.3,84.7 495.7,82.9 497.2,98.3 498.7,83.7 500.2,105.8 501.6,110.5 503.1,117.2 504.6,100.0 506.1,96.2 507.5,96.7 509.0,115.5 510.5,98.4 512.0,92.8 513.4,94.5 514.9,83.4 516.4,113.2 517.9,96.3 519.4,102.8 520.8,100.2 522.3,108.2 523.8,101.4 525.3,118.3 526.7,109.5 528.2,91.1 529.7,109.8 531.2,107.1 532.6,99.2 534.1,97.4 535.6,89.1 537.1,113.5 538.5,116.4 540.0,119.2 541.5,99.9 543.0,105.1 544.4,104.5 545.9,117.8 547.4,98.0 548.9,119.4 550.3,120.3 551.8,113.2 553.3,117.0 554.8,100.9 556.3,107.0 557.7,116.1 559.2,95.4 560.7,100.3 562.2,111.8 563.6,117.1 565.1,119.8 566.6,106.7 568.1,110.8 569.5,106.7 571.0,105.9 572.5,107.3 574.0,117.3 575.4,106.9 576.9,112.2 578.4,130.6 579.9,116.5 581.3,96.2 582.8,107.5 584.3,116.5 585.8,117.4 587.2,107.9 588.7,119.2 590.2,125.8" stroke="#40ff00"/>
<polyline points="368.8,61.1 370.3,97.4 371.8,80.9 373.2,71.3 374.7,70.1 376.2,74.2 377.7,87.9 379.1,59.9 380.6,90.3 382.1,69.7 383.6,83.6 385.0,81.6 386.5,69.9 388.0,88.6 389.5,70.5 390.9,77.0 392.4,91.0 393.9,78.4 395.4,75.3 396.8,71.1 398.3,67.0 399.8,95.2 401.3,87.6 402.7,87.2 404.2,96.1 405.7,59.3 407.2,84.3 408.7,82.5 410.1,84.3 411.6,90.7 413.1,70.9 414.6,78.7 416.0,88.9 417.5,84.7 419.0,77.1 420.5,78.4 421.9,73.2 423.4,69.4 424.9,88.5 426.4,99.8 427.8,88.8 429.3,82.0 430.8,91.2 432.3,80.8 433.7,99.5 435.2,84.9 436.7,81.5 438.2,95.6 439.6,77.8 441.1,69.0 442.6,94.2 444.1,96.2 445.6,88.9 447.0,79.0 448.5,99.6 450.0,85.7 451.5,72.9 452.9,84.8 454.4,95.0 455.9,95.6 457.4,86.1 458.8,84.1 460.3,85.1 461.8,89.2 463.3,116.5 464.7,100.2 466.2,94.0 467.7,88.6 469.2,84.9 470.6,98.7 472.1,83.6 473.6,74.6 475.1,86.2 476.5,83.5 478.0,97.5 479.5,105.0 481.0,87.6 482.5,89.0 483.9,81.9 485.4,98.1 486.9,107.0 488.4,107.2 489.8,92.3 491.3,119.9 492.8,81.0 494.3,101.3 495.7,96.5 497.2,100.2 498.7,79.3 500.2,113.9 501.6,89.5 503.1,93.2 504.6,84.7 506.1,88.7 507.5,112.0 509.0,119.4 510.5,126.5 512.0,103.9 513.4,94.7 514.9,98.8 516.4,106.1 517.9,95.4 519.4,119.2 520.8,86.9 522.3,84.5 523.8,87.8 525.3,94.0 526.7,81.7 528.2,120.3 529.7,116.0 531.2,103.8 532.6,104.4 534.1,108.5 535.6,98.6 537.1,108.9 538.5,89.4 540.0,105.2 541.5,132.3 543.0,111.2 544.4,114.7 545.9,122.9 547.4,94.9 548.9,118.2 550.3,127.6 551.8,112.6 553.3,83.8 554.8,108.3 556.3,83.0 557.7,100.1 559.2,83.7 560.7,100.2 562.2,101.4 563.6,98.0 565.1,123.6 566.6,123.8 568.1,113.7 569.5,97.6 571.0,101.0 572.5,103.2 574.0,129.3 575.4,121.2 576.9,114.1 578.4,105.6 579.9,111.3 581.3,120.9 582.8,125.8 584.3,99.3 585.8,122.1 587.2,117.7 588.7,114.1 590.2,108.0" stroke="#ff8000"/>
<polyline points="368.8,97.2 370.3,78.4 371.8,86.8 373.2,77.1 374.7,59.9 376.2,77.6 377.7,93.6 379.1,101.9 380.6,78.4 382.1,83.1 383.6,96.9 385.0,86.5 386.5,79.4 388.0,93.8 389.5,81.1 390.9,74.5 392.4,88.1 393.9,66.2 395.4,90.0 396.8,93.0 398.3,68.2 399.8,84.1 401.3,87.9 402.7,90.6 404.2,74.7 405.7,87.5 407.2,85.6 408.7,102.9 410.1,97.8 411.6,85.5 413.1,98.8 414.6,87.2 416.0,70.7 417.5,80.5 419.0,71.3 420.5,94.6 421.9,76.6 423.4,88.4 424.9,75.6 426.4,97.6 427.8,82.6 429.3,74.4 430.8,82.4 432.3,81.8 433.7,88.6 435.2,115.2 436.7,96.3 438.2,95.2 439.6,76.7 441.1,85.1 442.6,99.2 444.1,77.4 445.6,83.0 447.0,107.6 448.5,74.1 450.0,83.7 451.5,58.9 452.9,77.2 454.4,108.1 455.9,76.7 457.4,86.7 458.8,94.2 460.3,86.2 461.8,82.9 463.3,94.5 464.7,101.9 466.2,83.8 467.7,86.8 469.2,105.8 470.6,77.2 472.1,94.9 473.6,71.3 475.1,75.9 476.5,94.2 478.0,83.7 479.5,105.8 481.0,91.1 482.5,117.1 483.9,107.9 485.4,94.9 486.9,87.5 488.4,85.1 489.8,82.1 491.3,83.8 492.8,101.5 494.3,97.2 495.7,104.2 497.2,96.2 498.7,119.3 500.2,107.4 501.6,81.2 503.1,95.8 504.6,106.6 506.1,90.5 507.5,95.4 509.0,99.7 510.5,104.0 512.0,112.4 513.4,100.3 514.9,98.8 516.4,100.2 517.9,83.1 519.4,100.9 520.8,97.6 522.3,86.2 523.8,91.7 525.3,126.8 526.7,103.5 528.2,115.1 529.7,112.4 531.2,91.6 532.6,83.6 534.1,98.7 535.6,131.1 537.1,110.3 538.5,110.2 540.0,111.0 541.5,84.8 543.0,99.9 544.4,97.4 545.9,105.9 547.4,95.1 548.9,109.0 550.3,121.3 551.8,107.9 553.3,115.3 554.8,124.0 556.3,128.4 557.7,114.8 559.2,111.7 560.7,83.7 562.2,115.6 563.6,116.7 565.1,110.8 566.6,98.7 568.1,122.3 569.5,113.1 571.0,92.5 572.5,87.1 574.0,118.2 575.4,126.9 576.9,113.1 578.4,114.0 579.9,96.2 581.3,99.3 582.8,112.2 584.3,120.0 585.8,108.3 587.2,120.4 588.7,121.2 590.2,114.2" stroke="#ffbf00"/>
<polyline points="368.8,82.9 370.3,59.7 371.8,64.6 373.2,99.3 374.7,78.2 376.2,76.6 377.7,65.3 379.1,61.2 380.6,79.2 382.1,86.1 383.6,75.6 385.0,74.5 386.5,102.4 388.0,76.0 389.5,83.9 390.9,63.1 392.4,72.7 393.9,76.0 395.4,70.4 396.8,80.1 398.3,76.7 399.8,74.9 401.3,101.3 402.7,70.0 404.2,68.9 405.7,71.7 407.2,68.4 408.7,94.1 410.1,77.6 411.6,82.2 413.1,83.1 414.6,95.8 416.0,92.5 417.5,82.7 419.0,95.1 420.5,86.3 421.9,96.8 423.4,77.9 424.9,62.7 426.4,79.1 427.8,84.6 429.3,101.1 430.8,93.1 432.3,79.8 433.7,83.1 435.2,88.0 436.7,108.7 438.2,99.8 439.6,82.2 441.1,98.8 442.6,78.3 444.1,85.9 445.6,99.5 447.0,68.7 448.5,119.2 450.0,93.4 451.5,106.8 452.9,92.9 454.4,83.1 455.9,75.0 457.4,84.8 458.8,92.1 460.3,87.1 461.8,105.2 463.3,91.8 464.7,82.0 466.2,87.5 467.7,83.5 469.2,96.6 470.6,84.9 472.1,93.3 473.6,103.3 475.1,111.7 476.5,121.5 478.0,103.9 479.5,99.1 481.0,91.5 482.5,103.5 483.9,108.8 485.4,90.3 486.9,89.2 488.4,88.9 489.8,90.5 491.3,102.6 492.8,90.6 494.3,90.2 495.7,85.4 497.2,99.5 498.7,109.8 500.2,85.1 501.6,86.4 503.1,99.8 504.6,125.2 506.1,108.9 507.5,87.0 509.0,107.5 510.5,106.2 512.0,87.1 513.4,98.5 514.9,99.8 516.4,109.3 517.9,97.0 519.4,98.9 520.8,93.6 522.3,123.1 523.8,87.4 525.3,79.7 526.7,96.2 528.2,107.1 529.7,88.1 531.2,87.6 532.6,111.7 534.1,104.6 535.6,101.6 537.1,114.6 538.5,106.3 540.0,93.3 541.5,78.9 543.0,125.3 544.4,97.8 545.9,121.9 547.4,113.0 548.9,98.4 550.3,117.9 551.8,102.7 553.3,112.3 554.8,98.3 556.3,121.8 557.7,80.9 559.2,117.9 560.7,115.3 562.2,120.9 563.6,91.0 565.1,104.2 566.6,108.6 568.1,88.7 569.5,120.9 571.0,118.6 572.5,106.4 574.0,118.0 575.4,113.8 576.9,114.4 578.4,114.0 579.9,107.7 581.3,121.4 582.8,96.3 584.3,112.1 585.8,118.5 587.2,117.2 588.7,108.8 590.2,114.3" stroke="#80ff00"/>
<polyline points="368.8,78.7 370.3,85.4 371.8,98.7 373.2,97.3 374.7,77.0 376.2,88.5 377.7,72.2 379.1,81.5 380.6,77.2 382.1,80.2 383.6,56.4 385.0,70.6 386.5,74.5 388.0,72.9 389.5,109.5 390.9,90.1 392.4,67.7 393.9,66.9 395.4,88.4 396.8,105.0 398.3,95.1 399.8,73.8 401.3,81.3 402.7,68.7 404.2,82.1 405.7,76.7 407.2,74.6 408.7,81.4 410.1,85.8 411.6,88.4 413.1,83.3 414.6,80.8 416.0,71.9 417.5,81.1 419.0,88.9 420.5,95.9 421.9,92.3 423.4,79.1 424.9,82.1 426.4,70.4 427.8,85.5 429.3,89.3 430.8,70.6 432.3,77.3 433.7,73.1 435.2,100.4 436.7,86.3 438.2,83.5 439.6,84.1 441.1,115.1 442.6,86.2 444.1,87.2 445.6,76.2 447.0,90.2 448.5,87.0 450.0,90.1 451.5,101.6 452.9,81.9 454.4,69.2 455.9,100.7 457.4,73.4 458.8,71.7 460.3,106.5 461.8,105.7 463.3,99.9 464.7,102.1 466.2,99.4 467.7,103.6 469.2,95.5 470.6,86.6 472.1,83.1 473.6,94.4 475.1,104.4 476.5,86.6 478.0,86.1 479.5,102.7 481.0,89.0 482.5,107.3 483.9,102.7 485.4,93.2 486.9,97.7 488.4,82.8 489.8,97.3 491.3,92.9 492.8,83.4 494.3,115.1 495.7,89.3 497.2,83.8 498.7,99.6 500.2,85.0 501.6,111.2 503.1,108.8 504.6,114.9 506.1,80.5 507.5,109.5 509.0,93.2 510.5,120.3 512.0,89.2 513.4,117.1 514.9,109.6 516.4,132.7 517.9,117.1 519.4,90.4 520.8,118.8 522.3,83.2 523.8,76.1 525.3,105.0 526.7,120.6 528.2,107.9 529.7,100.7 531.2,127.6 532.6,111.9 534.1,102.8 535.6,99.6 537.1,126.5 538.5,106.2 540.0,104.6 541.5,91.8 543.0,102.6 544.4,92.8 545.9,99.7 547.4,116.3 548.9,70.5 550.3,98.8 551.8,104.7 553.3,112.2 554.8,87.0 556.3,107.6 557.7,100.9 559.2,106.2 560.7,110.7 562.2,124.9 563.6,115.3 565.1,85.0 566.6,106.8 568.1,116.9 569.5,119.0 571.0,118.7 572.5,115.0 574.0,112.8 575.4,90.1 576.9,106.7 578.4,86.7 579.9,126.8 581.3,114.0 582.8,129.1 584.3,131.2 585.8,110.1 587.2,128.2 588.7,113.1 590.2,121.0" stroke="#ffff00"/>
<polyline points="368.8,84.1 370.3,76.5 371.8,56.2 373.2,72.6 374.7,81.4 376.2,77.2 377.7,79.5 379.1,80.1 380.6,78.9 382.1,79.3 383.6,79.3 385.0,69.7 386.5,69.8 388.0,62.4 389.5,74.2 390.9,74.5 392.4,55.8 393.9,97.1 395.4,76.3 396.8,73.6 398.3,72.1 399.8,86.4 401.3,83.3 402.7,97.2 404.2,85.4 405.7,103.4 407.2,71.5 408.7,81.8 410.1,92.8 411.6,66.4 413.1,80.4 414.6,93.3 416.0,76.4 417.5,87.5 419.0,106.3 420.5,81.2 421.9,67.1 423.4,104.4 424.9,88.4 426.4,76.1 427.8,80.5 429.3,74.7 430.8,87.1 432.3,71.1 433.7,84.5 435.2,86.0 436.7,81.1 438.2,89.1 439.6,89.7 441.1,91.8 442.6,96.7 444.1,95.7 445.6,103.7 447.0,81.4 448.5,84.2 450.0,112.2 451.5,93.5 452.9,87.7 454.4,101.0 455.9,84.3 457.4,96.2 458.8,88.9 460.3,101.3 461.8,87.7 463.3,88.3 464.7,65.7 466.2,73.6 467.7,88.9 469.2,90.3 470.6,90.4 472.1,88.6 473.6,118.7 475.1,92.5 476.5,85.4 478.0,92.2 479.5,107.8 481.0,112.1 482.5,116.1 483.9,75.8 485.4,85.9 486.9,79.5 488.4,98.5 489.8,104.2 491.3,114.9 492.8,91.5 494.3,113.7 495.7,106.2 497.2,83.2 498.7,80.0 500.2,100.2 501.6,87.4 503.1,95.9 504.6,92.4 506.1,114.5 507.5,95.2 509.0,95.9 510.5,94.5 512.0,94.9 513.4,98.2 514.9,93.5 516.4,109.7 517.9,96.4 519.4,111.8 520.8,99.8 522.3,106.8 523.8,110.3 525.3,109.0 526.7,109.1 528.2,92.9 529.7,111.4 531.2,98.7 532.6,97.1 534.1,76.4 535.6,91.9 537.1,115.0 538.5,118.0 540.0,104.1 541.5,99.3 543.0,112.9 544.4,93.5 545.9,126.7 547.4,128.3 548.9,114.8 550.3,99.0 551.8,95.2 553.3,106.5 554.8,88.1 556.3,101.4 557.7,109.9 559.2,87.4 560.7,103.9 562.2,116.7 563.6,104.6 565.1,119.5 566.6,93.9 568.1,112.1 569.5,126.4 571.0,91.7 572.5,104.6 574.0,115.3 575.4,108.4 576.9,101.0 578.4,112.0 579.9,108.0 581.3,95.6 582.8,115.5 584.3,112.2 585.8,85.0 587.2,115.2 588.7,118.4 590.2,111.6" stroke="#bfff00"/>
<polyline points="368.8,102.6 370.3,64.8 371.8,91.0 373.2,76.1 374.7,71.8 376.2,72.3 377.7,68.1 379.1,100.6 380.6,97.4 382.1,74.7 383.6,86.6 385.0,96.5 386.5,74.3 388.0,72.7 389.5,88.0 390.9,97.0 392.4,76.3 393.9,90.7 395.4,81.2 396.8,76.5 398.3,77.1 399.8,82.0 401.3,80.3 402.7,73.0 404.2,85.3 405.7,111.2 407.2,89.9 408.7,80.1 410.1,70.5 411.6,87.2 413.1,88.6 414.6,76.9 416.0,95.2 417.5,75.7 419.0,90.1 420.5,80.6 421.9,79.4 423.4,79.1 424.9,72.5 426.4,86.4 427.8,93.4 429.3,84.0 430.8,63.4 432.3,74.0 433.7,97.0 435.2,100.5 436.7,87.8 438.2,103.6 439.6,102.1 441.1,75.2 442.6,76.0 444.1,77.3 445.6,70.6 447.0,112.2 448.5,86.0 450.0,95.7 451.5,77.5 452.9,100.5 454.4,84.1 455.9,79.9 457.4,78.8 458.8,72.6 460.3,73.7 461.8,88.3 463.3,108.8 464.7,85.7 466.2,74.5 467.7,78.1 469.2,115.4 470.6,102.6 472.1,84.6 473.6,85.6 475.1,90.7 476.5,90.7 478.0,102.1 479.5,87.1 481.0,73.8 482.5,92.3 483.9,114.2 485.4,102.3 486.9,88.4 488.4,88.4 489.8,104.1 491.3,105.6 492.8,93.4 494.3,92.5 495.7,94.2 497.2,96.4 498.7,96.8 500.2,105.5 501.6,120.5 503.1,112.8 504.6,102.6 506.1,89.4 507.5,109.4 509.0,75.3 510.5,100.8 512.0,109.0 513.4,90.9 514.9,85.9 516.4,82.9 517.9,90.4 519.4,94.1 520.8,105.2 522.3,99.1 523.8,97.9 525.3,110.2 526.7,96.9 528.2,123.8 529.7,110.7 531.2,108.5 532.6,103.0 534.1,98.3 535.6,99.5 537.1,100.8 538.5,120.8 540.0,77.5 541.5,110.9 543.0,90.0 544.4,102.8 545.9,104.5 547.4,109.4 548.9,107.7 550.3,123.8 551.8,111.3 553.3,78.4 554.8,98.9 556.3,114.1 557.7,112.6 559.2,113.5 560.7,110.8 562.2,91.2 563.6,102.6 565.1,114.8 566.6,130.1 568.1,86.6 569.5,94.5 571.0,111.0 572.5,105.6 574.0,114.6 575.4,117.1 576.9,75.6 578.4,131.8 579.9,114.5 581.3,105.9 582.8,104.4 584.3,112.0 585.8,114.8 587.2,108.1 588.7,121.9 590.2,122.1" stroke="#00ff00"/>
<polyline points="368.8,99.3 370.3,95.9 371.8,72.4 373.2,86.5 374.7,82.6 376.2,86.8 377.7,86.7 379.1,94.8 380.6,79.2 382.1,80.6 383.6,91.9 385.0,79.2 386.5,69.5 388.0,104.4 389.5,70.4 390.9,87.1 392.4,84.3 393.9,76.4 395.4,71.4 396.8,77.2 398.3,73.5 399.8,95.8 401.3,95.3 402.7,92.4 404.2,83.8 405.7,92.4 407.2,93.8 408.7,72.9 410.1,82.5 411.6,97.3 413.1,68.7 414.6,69.0 416.0,70.1 417.5,110.9 419.0,98.1 420.5,96.6 421.9,81.0 423.4,77.5 424.9,78.3 426.4,91.9 427.8,73.2 429.3,63.4 430.8,83.3 432.3,73.5 433.7,83.8 435.2,117.3 436.7,93.5 438.2,90.4 439.6,80.4 441.1,77.9 442.6,94.0 444.1,99.7 445.6,98.5 447.0,89.4 448.5,91.6 450.0,87.1 451.5,77.9 452.9,102.4 454.4,69.0 455.9,93.7 457.4,75.8 458.8,89.0 460.3,83.5 461.8,98.8 463.3,80.8 464.7,91.0 466.2,108.3 467.7,94.6 469.2,102.1 470.6,84.7 472.1,98.7 473.6,82.9 475.1,84.2 476.5,86.0 478.0,99.6 479.5,80.8 481.0,94.6 482.5,95.7 483.9,82.3 485.4,99.9 486.9,81.0 488.4,85.5 489.8,87.9 491.3,96.4 492.8,102.6 494.3,91.0 495.7,110.5 497.2,93.2 498.7,108.1 500.2,83.8 501.6,96.1 503.1,86.1 504.6,110.5 506.1,98.4 507.5,106.6 509.0,101.1 510.5,113.6 512.0,88.6 513.4,110.1 514.9,94.8 516.4,94.0 517.9,84.5 519.4,93.7 520.8,121.5 522.3,111.1 523.8,116.6 525.3,117.4 526.7,115.0 528.2,94.1 529.7,95.1 531.2,99.8 532.6,116.3 534.1,110.1 535.6,96.8 537.1,106.4 538.5,117.8 540.0,103.8 541.5,105.0 543.0,86.0 544.4,109.4 545.9,134.7 547.4,102.4 548.9,92.4 550.3,123.9 551.8,95.5 553.3,92.1 554.8,105.2 556.3,113.7 557.7,107.7 559.2,111.6 560.7,104.8 562.2,91.7 563.6,106.1 565.1,114.0 566.6,99.3 568.1,112.7 569.5,124.4 571.0,106.1 572.5,82.9 574.0,114.3 575.4,107.7 576.9,123.5 578.4,112.4 579.9,114.5 581.3,108.3 582.8,111.6 584.3,113.8 585.8,100.0 587.2,118.0 588.7,121.3 590.2,96.0" stroke="#00ff40"/>
<polyline points="368.8,94.0 370.3,96.7 371.8,77.3 373.2,72.1 374.7,82.9 376.2,96.6 377.7,101.4 379.1,86.6 380.6,85.9 382.1,80.2 383.6,81.3 385.0,74.9 386.5,90.5 388.0,61.7 389.5,93.0 390.9,83.8 392.4,81.8 393.9,89.5 395.4,106.8 396.8,68.9 398.3,80.0 399.8,68.3 401.3,102.2 402.7,79.0 404.2,82.6 405.7,68.0 407.2,78.4 408.7,82.6 410.1,90.4 411.6,76.6 413.1,85.5 414.6,78.4 416.0,77.6 417.5,81.4 419.0,82.7 420.5,86.6 421.9,83.6 423.4,100.1 424.9,110.6 426.4,86.5 427.8,77.2 429.3,89.9 430.8,94.5 432.3,84.4 433.7,98.3 435.2,98.3 436.7,91.4 438.2,85.3 439.6,87.0 441.1,73.9 442.6,91.2 444.1,105.7 445.6,100.5 447.0,96.1 448.5,91.0 450.0,103.7 451.5,83.2 452.9,83.6 454.4,99.2 455.9,77.3 457.4,91.4 458.8,101.6 460.3,96.8 461.8,99.1 463.3,79.9 464.7,98.5 466.2,78.1 467.7,87.0 469.2,92.0 470.6,86.3 472.1,94.6 473.6,97.4 475.1,108.1 476.5,82.4 478.0,66.1 479.5,105.6 481.0,93.1 482.5,73.8 483.9,72.5 485.4,76.2 486.9,96.3 488.4,79.4 489.8,93.9 491.3,107.5 492.8,91.7 494.3,92.3 495.7,79.2 497.2,103.1 498.7,107.3 500.2,92.8 501.6,95.2 503.1,78.2 504.6,93.5 506.1,104.0 507.5,97.8 509.0,65.3 510.5,122.5 512.0,99.5 513.4,79.6 514.9,97.9 516.4,111.1 517.9,107.5 519.4,91.3 520.8,112.7 522.3,98.3 523.8,101.1 525.3,94.1 526.7,92.5 528.2,92.5 529.7,99.7 531.2,94.1 532.6,104.3 534.1,114.0 535.6,105.4 537.1,97.3 538.5,92.7 540.0,82.9 541.5,109.2 543.0,116.6 544.4,116.8 545.9,103.5 547.4,127.7 548.9,121.6 550.3,104.1 551.8,103.7 553.3,123.3 554.8,99.7 556.3,107.3 557.7,98.3 559.2,94.2 560.7,110.3 562.2,108.8 563.6,102.6 565.1,119.5 566.6,102.1 568.1,124.2 569.5,94.4 571.0,102.5 572.5,116.7 574.0,110.8 575.4,116.0 576.9,105.9 578.4,93.0 579.9,113.8 581.3,107.8 582.8,93.9 584.3,113.1 585.8,98.3 587.2,118.8 588.7,115.0 590.2,100.7" stroke="#00ffbf"/>
<polyline points="368.8,77.5 370.3,99.8 371.8,77.9 373.2,71.1 374.7,90.0 376.2,74.8 377.7,69.6 379.1,94.1 380.6,107.3 382.1,88.0 383.6,77.1 385.0,93.0 386.5,79.7 388.0,77.3 389.5,72.6 390.9,68.3 392.4,75.3 393.9,89.7 395.4,82.7 396.8,99.4 398.3,72.4 399.8,59.2 401.3,96.0 402.7,73.9 404.2,72.1 405.7,69.0 407.2,59.8 408.7,84.6 410.1,70.2 411.6,72.7 413.1,102.7 414.6,79.3 416.0,84.3 417.5,65.2 419.0,84.6 420.5,77.3 421.9,67.8 423.4,72.5 424.9,98.5 426.4,83.4 427.8,79.8 429.3,78.5 430.8,87.1 432.3,74.6 433.7,93.7 435.2,90.2 436.7,70.5 438.2,88.9 439.6,103.0 441.1,71.7 442.6,102.3 444.1,95.2 445.6,84.3 447.0,78.9 448.5,79.4 450.0,77.3 451.5,79.7 452.9,81.9 454.4,87.6 455.9,92.1 457.4,95.5 458.8,65.1 460.3,79.8 461.8,86.5 463.3,77.1 464.7,84.1 466.2,83.7 467.7,87.7 469.2,84.2 470.6,88.8 472.1,106.9 473.6,88.5 475.1,84.8 476.5,91.3 478.0,94.9 479.5,90.0 481.0,93.1 482.5,106.7 483.9,93.9 485.4,102.7 486.9,109.4 488.4,89.7 489.8,91.5 491.3,85.2 492.8,98.5 494.3,90.3 495.7,94.2 497.2,89.5 498.7,106.2 500.2,86.2 501.6,105.5 503.1,121.8 504.6,98.3 506.1,116.2 507.5,87.1 509.0,113.7 510.5,97.9 512.0,119.5 513.4,103.7 514.9,83.2 516.4,104.2 517.9,86.4 519.4,102.5 520.8,114.5 522.3,104.6 523.8,111.2 525.3,94.6 526.7,95.7 528.2,82.0 529.7,112.1 531.2,104.6 532.6,110.3 534.1,112.9 535.6,107.9 537.1,97.5 538.5,96.5 540.0,91.7 541.5,109.0 543.0,107.4 544.4,110.7 545.9,107.3 547.4,106.5 548.9,106.4 550.3,112.8 551.8,105.2 553.3,93.1 554.8,120.4 556.3,103.0 557.7,114.8 559.2,110.3 560.7,110.9 562.2,111.6 563.6,88.4 565.1,110.7 566.6,112.2 568.1,120.1 569.5,87.0 571.0,103.8 572.5,110.2 574.0,118.4 575.4,114.1 576.9,87.2 578.4,119.0 579.9,120.2 581.3,91.3 582.8,120.6 584.3,101.9 585.8,83.4 587.2,122.8 588.7,121.1 590.2,93.7" stroke="#00ff80"/>
<polyline points="368.8,80.0 370.3,103.5 371.8,90.7 373.2,68.0 374.7,74.9 376.2,81.5 377.7,101.8 379.1,102.7 380.6,57.2 382.1,85.4 383.6,95.7 385.0,85.5 386.5,57.8 388.0,64.9 389.5,72.8 390.9,85.6 392.4,70.5 393.9,65.2 395.4,79.6 396.8,84.4 398.3,77.3 399.8,74.3 401.3,86.0 402.7,106.8 404.2,62.4 405.7,72.6 407.2,89.4 408.7,77.0 410.1,71.8 411.6,69.9 413.1,85.1 414.6,86.7 416.0,84.4 417.5,76.9 419.0,111.7 420.5,64.8 421.9,86.1 423.4,91.8 424.9,92.3 426.4,92.8 427.8,81.8 429.3,87.4 430.8,84.4 432.3,93.9 433.7,74.9 435.2,92.6 436.7,81.4 438.2,98.5 439.6,79.5 441.1,80.2 442.6,80.2 444.1,96.6 445.6,87.3 447.0,83.8 448.5,73.9 450.0,89.6 451.5,83.4 452.9,88.4 454.4,100.6 455.9,106.7 457.4,105.7 458.8,80.6 460.3,116.4 461.8,93.8 463.3,106.8 464.7,90.9 466.2,95.1 467.7,79.5 469.2,88.6 470.6,102.9 472.1,84.0 473.6,98.0 475.1,85.6 476.5,99.5 478.0,117.7 479.5,86.1 481.0,97.7 482.5,68.5 483.9,92.1 485.4,111.9 486.9,100.2 488.4,77.9 489.8,97.1 491.3,102.8 492.8,98.4 494.3,95.3 495.7,103.0 497.2,110.4 498.7,115.0 500.2,86.2 501.6,66.3 503.1,92.5 504.6,82.2 506.1,90.3 507.5,95.2 509.0,116.5 510.5,98.6 512.0,96.5 513.4,101.9 514.9,104.8 516.4,99.4 517.9,100.7 519.4,104.5 520.8,107.2 522.3,102.7 523.8,98.4 525.3,98.4 526.7,97.9 528.2,89.8 529.7,96.2 531.2,88.7 532.6,87.7 534.1,112.9 535.6,104.1 537.1,104.3 538.5,102.7 540.0,113.4 541.5,77.7 543.0,126.2 544.4,112.5 545.9,99.0 547.4,124.2 548.9,110.6 550.3,105.8 551.8,115.1 553.3,99.9 554.8,125.7 556.3,120.2 557.7,84.8 559.2,107.1 560.7,106.2 562.2,128.2 563.6,115.5 565.1,102.6 566.6,120.9 568.1,118.3 569.5,97.5 571.0,121.0 572.5,110.8 574.0,114.3 575.4,122.6 576.9,111.4 578.4,108.0 579.9,129.1 581.3,97.2 582.8,120.2 584.3,119.3 585.8,110.5 587.2,102.6 588.7,98.4 590.2,125.5" stroke="#00bfff"/>
<polyline points="368.8,81.7 370.3,73.7 371.8,102.9 373.2,89.0 374.7,101.2 376.2,71.3 377.7,78.9 379.1,69.2 380.6,108.8 382.1,99.4 383.6,89.7 385.0,78.5 386.5,77.9 388.0,76.1 389.5,75.0 390.9,94.7 392.4,90.4 393.9,89.9 395.4,68.1 396.8,69.6 398.3,73.6 399.8,81.9 401.3,76.5 402.7,77.1 404.2,58.5 405.7,72.4 407.2,89.2 408.7,85.2 410.1,105.1 411.6,69.8 413.1,94.1 414.6,79.4 416.0,98.3 417.5,77.5 419.0,78.1 420.5,83.0 421.9,90.9 423.4,59.4 424.9,76.7 426.4,80.2 427.8,85.2 429.3,83.3 430.8,77.0 432.3,83.2 433.7,76.6 435.2,90.3 436.7,80.1 438.2,85.2 439.6,81.2 441.1,85.7 442.6,91.4 444.1,96.4 445.6,86.3 447.0,85.6 448.5,103.8 450.0,82.0 451.5,91.4 452.9,79.8 454.4,83.9 455.9,97.5 457.4,99.5 458.8,84.1 460.3,91.9 461.8,90.5 463.3,91.9 464.7,80.1 466.2,88.8 467.7,97.6 469.2,99.1 470.6,97.9 472.1,86.7 473.6,112.0 475.1,98.6 476.5,99.0 478.0,86.8 479.5,103.6 481.0,95.6 482.5,96.6 483.9,93.3 485.4,108.0 486.9,82.4 488.4,66.0 489.8,104.1 491.3,85.0 492.8,93.6 494.3,85.9 495.7,97.9 497.2,86.9 498.7,83.7 500.2,83.1 501.6,112.2 503.1,94.1 504.6,81.0 506.1,82.3 507.5,101.7 509.0,107.0 510.5,75.6 512.0,105.0 513.4,97.5 514.9,91.3 516.4,100.7 517.9,110.5 519.4,93.8 520.8,102.1 522.3,103.1 523.8,94.1 525.3,96.0 526.7,86.0 528.2,89.7 529.7,111.7 531.2,90.1 532.6,106.9 534.1,80.7 535.6,117.5 537.1,105.4 538.5,120.8 540.0,89.1 541.5,102.9 543.0,107.0 544.4,115.9 545.9,116.8 547.4,119.3 548.9,118.7 550.3,108.0 551.8,111.3 553.3,88.1 554.8,119.4 556.3,114.6 557.7,113.4 559.2,98.9 560.7,110.1 562.2,116.7 563.6,100.4 565.1,101.9 566.6,126.3 568.1,94.0 569.5,104.5 571.0,110.3 572.5,105.6 574.0,69.9 575.4,104.5 576.9,113.9 578.4,115.3 579.9,118.7 581.3,87.4 582.8,75.2 584.3,98.1 585.8,104.0 587.2,87.0 588.7,118.6 590.2,111.0" stroke="#0000ff"/>
<polyline points="368.8,73.2 370.3,84.0 371.8,96.8 373.2,89.2 374.7,81.4 376.2,83.4 377.7,73.3 379.1,65.5 380.6,75.7 382.1,75.3 383.6,73.4 385.0,82.6 386.5,78.2 388.0,70.9 389.5,72.3 390.9,99.4 392.4,82.3 393.9,81.3 395.4,76.0 396.8,63.5 398.3,64.0 399.8,88.1 401.3,63.3 402.7,83.9 404.2,69.0 405.7,74.8 407.2,78.3 408.7,88.2 410.1,69.7 411.6,72.7 413.1,98.8 414.6,66.8 416.0,81.8 417.5,75.1 419.0,90.7 420.5,81.9 421.9,82.9 423.4,118.8 424.9,67.6 426.4,77.0 427.8,84.8 429.3,64.8 430.8,68.7 432.3,70.9 433.7,98.0 435.2,63.9 436.7,80.2 438.2,68.4 439.6,95.9 441.1,86.5 442.6,95.9 444.1,92.8 445.6,97.4 447.0,98.2 448.5,77.6 450.0,89.1 451.5,90.9 452.9,112.1 454.4,86.9 455.9,103.2 457.4,78.7 458.8,93.6 460.3,84.5 461.8,93.7 463.3,100.7 464.7,106.1 466.2,80.7 467.7,89.9 469.2,105.3 470.6,89.2 472.1,80.6 473.6,90.8 475.1,83.7 476.5,97.5 478.0,116.9 479.5,109.7 481.0,97.4 482.5,91.3 483.9,84.0 485.4,72.7 486.9,94.4 488.4,93.8 489.8,85.8 491.3,92.9 492.8,99.7 494.3,94.8 495.7,78.4 497.2,97.5 498.7,117.8 500.2,79.5 501.6,99.0 503.1,83.2 504.6,105.2 506.1,123.9 507.5,106.4 509.0,117.4 510.5,97.3 512.0,97.6 513.4,105.1 514.9,80.2 516.4,114.4 517.9,117.3 519.4,99.5 520.8,92.9 522.3,100.5 523.8,111.5 525.3,91.3 526.7,127.6 528.2,118.2 529.7,107.3 531.2,125.5 532.6,104.7 534.1,109.8 535.6,107.3 537.1,104.3 538.5,98.9 540.0,103.9 541.5,105.2 543.0,127.1 544.4,109.9 545.9,117.2 547.4,114.9 548.9,134.6 550.3,119.7 551.8,112.3 553.3,91.5 554.8,121.2 556.3,126.7 557.7,108.8 559.2,85.4 560.7,99.3 562.2,113.0 563.6,105.4 565.1,117.5 566.6,107.2 568.1,113.4 569.5,82.1 571.0,118.8 572.5,104.3 574.0,105.8 575.4,112.8 576.9,109.3 578.4,77.9 579.9,123.9 581.3,109.3 582.8,98.7 584.3,120.9 585.8,123.1 587.2,127.2 588.7,84.7 590.2,105.8" stroke="#00ffff"/>
<polyline points="368.8,85.6 370.3,65.1 371.8,96.4 373.2,82.9 374.7,77.0 376.2,91.3 377.7,73.0 379.1,85.0 380.6,68.3 382.1,98.4 383.6,55.6 385.0,69.9 386.5,64.6 388.0,74.0 389.5,90.3 390.9,86.7 392.4,93.0 393.9,103.2 395.4,74.2 396.8,87.0 398.3,78.2 399.8,66.2 401.3,95.7 402.7,73.1 404.2,94.6 405.7,85.3 407.2,89.5 408.7,79.7 410.1,94.0 411.6,77.7 413.1,92.4 414.6,81.4 416.0,81.5 417.5,82.3 419.0,68.9 420.5,80.4 421.9,88.4 423.4,91.4 424.9,72.9 426.4,94.4 427.8,91.5 429.3,82.8 430.8,80.5 432.3,82.5 433.7,100.5 435.2,96.4 436.7,107.4 438.2,112.0 439.6,103.9 441.1,82.6 442.6,91.1 444.1,111.1 445.6,89.7 447.0,89.5 448.5,69.9 450.0,81.0 451.5,82.8 452.9,69.2 454.4,81.1 455.9,100.7 457.4,103.4 458.8,72.9 460.3,68.1 461.8,73.4 463.3,71.9 464.7,64.9 466.2,76.1 467.7,94.3 469.2,92.1 470.6,92.9 472.1,95.4 473.6,99.1 475.1,95.4 476.5,74.9 478.0,66.2 479.5,84.0 481.0,106.1 482.5,103.0 483.9,98.4 485.4,91.4 486.9,88.8 488.4,91.0 489.8,74.5 491.3,86.7 492.8,81.5 494.3,89.6 495.7,85.0 497.2,101.2 498.7,98.5 500.2,80.7 501.6,115.4 503.1,110.5 504.6,82.0 506.1,88.6 507.5,105.8 509.0,109.5 510.5,81.1 512.0,101.6 513.4,81.9 514.9,92.3 516.4,94.4 517.9,99.1 519.4,107.2 520.8,110.1 522.3,108.4 523.8,80.1 525.3,88.4 526.7,85.2 528.2,107.7 529.7,105.7 531.2,122.8 532.6,106.7 534.1,113.3 535.6,125.9 537.1,107.9 538.5,123.2 540.0,104.4 541.5,91.9 543.0,108.0 544.4,109.6 545.9,103.8 547.4,106.9 548.9,90.9 550.3,115.8 551.8,100.5 553.3,109.6 554.8,123.1 556.3,106.8 557.7,98.9 559.2,89.3 560.7,122.9 562.2,115.8 563.6,108.7 565.1,134.4 566.6,114.1 568.1,104.6 569.5,83.5 571.0,105.4 572.5,122.3 574.0,103.5 575.4,98.4 576.9,128.5 578.4,106.7 579.9,84.8 581.3,105.6 582.8,112.5 584.3,120.1 585.8,119.2 587.2,83.5 588.7,113.6 590.2,100.5" stroke="#0040ff"/>
<polyline points="368.8,79.3 370.3,100.2 371.8,102.4 373.2,71.6 374.7,103.7 376.2,82.4 377.7,76.2 379.1,70.7 380.6,98.8 382.1,81.2 383.6,68.3 385.0,104.5 386.5,92.6 388.0,82.5 389.5,84.0 390.9,85.3 392.4,71.4 393.9,81.1 395.4,84.6 396.8,97.2 398.3,73.8 399.8,71.6 401.3,88.4 402.7,64.4 404.2,83.3 405.7,78.1 407.2,80.9 408.7,78.1 410.1,80.3 411.6,55.5 413.1,82.3 414.6,77.9 416.0,61.4 417.5,56.2 419.0,93.2 420.5,74.4 421.9,81.5 423.4,80.7 424.9,85.1 426.4,85.1 427.8,80.7 429.3,86.9 430.8,77.6 432.3,68.6 433.7,90.4 435.2,93.4 436.7,86.4 438.2,75.1 439.6,81.3 441.1,117.0 442.6,96.3 444.1,103.2 445.6,85.3 447.0,84.1 448.5,91.9 450.0,97.7 451.5,99.4 452.9,69.8 454.4,92.9 455.9,94.4 457.4,87.3 458.8,94.8 460.3,80.8 461.8,98.8 463.3,106.1 464.7,84.8 466.2,90.9 467.7,94.8 469.2,106.7 470.6,102.9 472.1,89.4 473.6,94.2 475.1,83.5 476.5,99.8 478.0,115.8 479.5,92.5 481.0,90.6 482.5,89.5 483.9,92.7 485.4,114.3 486.9,89.0 488.4,126.0 489.8,84.4 491.3,94.9 492.8,88.7 494.3,115.9 495.7,95.4 497.2,118.1 498.7,86.1 500.2,97.1 501.6,113.7 503.1,76.5 504.6,102.0 506.1,121.1 507.5,120.2 509.0,80.8 510.5,100.3 512.0,102.9 513.4,96.0 514.9,102.8 516.4,88.7 517.9,115.2 519.4,98.3 520.8,91.7 522.3,116.3 523.8,99.8 525.3,86.4 526.7,118.0 528.2,90.6 529.7,97.5 531.2,101.7 532.6,99.2 534.1,99.9 535.6,91.5 537.1,93.8 538.5,118.2 540.0,108.3 541.5,122.8 543.0,99.0 544.4,99.3 545.9,111.7 547.4,107.4 548.9,95.9 550.3,99.2 551.8,103.9 553.3,94.1 554.8,124.0 556.3,113.6 557.7,86.8 559.2,113.6 560.7,126.5 562.2,110.2 563.6,111.7 565.1,105.1 566.6,119.1 568.1,103.9 569.5,118.9 571.0,102.0 572.5,104.9 574.0,129.7 575.4,120.5 576.9,103.0 578.4,108.3 579.9,114.7 581.3,116.7 582.8,110.6 584.3,91.0 585.8,101.2 587.2,97.8 588.7,85.1 590.2,120.3" stroke="#0080ff"/>
<polyline points="368.8,104.2 370.3,91.2 371.8,103.7 373.2,98.3 374.7,96.8 376.2,80.8 377.7,86.8 379.1,77.8 380.6,97.1 382.1,83.9 383.6,85.4 385.0,78.4 386.5,85.6 388.0,76.0 389.5,87.8 390.9,73.0 392.4,65.2 393.9,70.6 395.4,78.5 396.8,78.7 398.3,73.6 399.8,84.5 401.3,90.2 402.7,84.7 404.2,84.5 405.7,84.6 407.2,64.9 408.7,57.2 410.1,78.1 411.6,97.6 413.1,78.8 414.6,82.3 416.0,97.3 417.5,77.0 419.0,83.9 420.5,94.7 421.9,92.2 423.4,72.7 424.9,93.1 426.4,83.8 427.8,89.5 429.3,95.0 430.8,90.1 432.3,75.2 433.7,67.0 435.2,90.5 436.7,87.3 438.2,87.4 439.6,87.1 441.1,81.6 442.6,79.4 444.1,87.9 445.6,111.1 447.0,72.4 448.5,82.4 450.0,90.8 451.5,86.2 452.9,86.9 454.4,85.5 455.9,116.8 457.4,74.7 458.8,95.0 460.3,79.4 461.8,85.3 463.3,98.4 464.7,89.4 466.2,80.7 467.7,81.8 469.2,86.3 470.6,97.6 472.1,85.3 473.6,77.4 475.1,86.0 476.5,114.7 478.0,88.2 479.5,94.3 481.0,78.9 482.5,101.9 483.9,110.0 485.4,97.5 486.9,77.4 488.4,84.9 489.8,89.4 491.3,69.8 492.8,106.1 494.3,107.3 495.7,113.1 497.2,95.6 498.7,105.6 500.2,114.2 501.6,90.0 503.1,98.5 504.6,82.8 506.1,84.7 507.5,108.3 509.0,96.2 510.5,104.4 512.0,115.2 513.4,69.6 514.9,95.0 516.4,102.8 517.9,83.6 519.4,104.1 520.8,100.2 522.3,87.1 523.8,104.7 525.3,95.8 526.7,98.7 528.2,116.5 529.7,93.9 531.2,100.3 532.6,100.6 534.1,91.3 535.6,117.1 537.1,114.5 538.5,115.3 540.0,111.2 541.5,100.1 543.0,97.5 544.4,107.2 545.9,106.8 547.4,93.3 548.9,124.1 550.3,118.5 551.8,84.4 553.3,118.5 554.8,111.7 556.3,108.8 557.7,89.7 559.2,96.6 560.7,114.3 562.2,122.3 563.6,97.5 565.1,112.8 566.6,122.3 568.1,96.1 569.5,121.8 571.0,119.4 572.5,99.7 574.0,122.0 575.4,86.1 576.9,90.0 578.4,129.5 579.9,113.6 581.3,98.8 582.8,103.2 584.3,100.6 585.8,124.9 587.2,89.5 588.7,117.6 590.2,116.9" stroke="#bf00ff"/>
<polyline points="368.8,76.7 370.3,71.2 371.8,86.9 373.2,77.0 374.7,78.3 376.2,82.0 377.7,66.7 379.1,80.0 380.6,70.9 382.1,83.5 383.6,63.6 385.0,80.0 386.5,86.5 388.0,81.6 389.5,77.9 390.9,73.0 392.4,86.7 393.9,63.5 395.4,77.7 396.8,69.6 398.3,89.0 399.8,75.0 401.3,84.0 402.7,69.0 404.2,84.0 405.7,85.5 407.2,78.6 408.7,79.3 410.1,80.4 411.6,79.6 413.1,72.7 414.6,70.4 416.0,64.7 417.5,78.8 419.0,88.4 420.5,64.0 421.9,81.9 423.4,72.8 424.9,81.1 426.4,81.0 427.8,97.8 429.3,112.1 430.8,86.6 432.3,84.9 433.7,90.7 435.2,84.5 436.7,84.8 438.2,88.4 439.6,81.9 441.1,88.0 442.6,99.1 444.1,84.0 445.6,85.7 447.0,96.3 448.5,107.6 450.0,86.6 451.5,84.0 452.9,75.6 454.4,94.2 455.9,80.7 457.4,78.4 458.8,95.9 460.3,76.6 461.8,75.1 463.3,94.3 464.7,80.4 466.2,96.1 467.7,85.6 469.2,71.7 470.6,98.5 472.1,73.7 473.6,80.5 475.1,81.2 476.5,75.6 478.0,94.3 479.5,103.1 481.0,75.4 482.5,105.1 483.9,110.6 485.4,74.9 486.9,96.5 488.4,109.6 489.8,93.0 491.3,90.1 492.8,94.1 494.3,79.4 495.7,95.5 497.2,94.2 498.7,88.4 500.2,106.7 501.6,93.5 503.1,100.1 504.6,84.6 506.1,89.0 507.5,123.6 509.0,87.6 510.5,95.5 512.0,98.2 513.4,115.1 514.9,79.3 516.4,107.3 517.9,96.1 519.4,109.3 520.8,91.8 522.3,108.3 523.8,104.2 525.3,89.8 526.7,102.9 528.2,105.0 529.7,85.9 531.2,121.4 532.6,91.8 534.1,82.9 535.6,105.2 537.1,89.8 538.5,115.0 540.0,104.3 541.5,100.9 543.0,118.7 544.4,128.0 545.9,90.1 547.4,130.1 548.9,99.1 550.3,108.8 551.8,108.5 553.3,89.8 554.8,107.4 556.3,105.8 557.7,96.5 559.2,104.1 560.7,121.8 562.2,102.9 563.6,80.6 565.1,118.2 566.6,107.0 568.1,119.9 569.5,126.2 571.0,96.3 572.5,111.3 574.0,109.0 575.4,108.8 576.9,101.9 578.4,97.6 579.9,105.3 581.3,109.2 582.8,131.9 584.3,122.3 585.8,114.9 587.2,117.3 588.7,126.4 590.2,111.2" stroke="#4000ff"/>
<polyline points="368.8,90.6 370.3,70.5 371.8,81.6 373.2,86.8 374.7,70.4 376.2,86.4 377.7,79.4 379.1,101.7 380.6,90.0 382.1,68.7 383.6,75.8 385.0,80.2 386.5,92.1 388.0,78.5 389.5,78.2 390.9,76.8 392.4,80.3 393.9,85.1 395.4,69.3 396.8,82.3 398.3,77.9 399.8,115.7 401.3,77.3 402.7,79.2 404.2,83.0 405.7,66.6 407.2,81.2 408.7,70.0 410.1,75.2 411.6,74.0 413.1,87.3 414.6,74.1 416.0,68.1 417.5,74.1 419.0,64.7 420.5,90.7 421.9,100.3 423.4,78.3 424.9,74.8 426.4,85.8 427.8,79.8 429.3,92.1 430.8,85.6 432.3,81.3 433.7,84.6 435.2,70.0 436.7,77.8 438.2,90.1 439.6,98.8 441.1,73.2 442.6,116.1 444.1,96.0 445.6,84.9 447.0,103.4 448.5,89.0 450.0,72.1 451.5,77.5 452.9,92.1 454.4,84.3 455.9,84.2 457.4,73.2 458.8,95.7 460.3,99.9 461.8,88.2 463.3,87.5 464.7,120.3 466.2,120.4 467.7,104.9 469.2,111.0 470.6,100.9 472.1,88.3 473.6,118.8 475.1,101.6 476.5,100.3 478.0,111.3 479.5,83.8 481.0,93.6 482.5,118.1 483.9,89.7 485.4,98.8 486.9,84.1 488.4,98.6 489.8,85.5 491.3,79.1 492.8,111.4 494.3,97.7 495.7,99.3 497.2,103.4 498.7,95.4 500.2,90.1 501.6,97.0 503.1,94.5 504.6,101.0 506.1,95.6 507.5,95.9 509.0,96.5 510.5,92.3 512.0,88.7 513.4,83.2 514.9,96.4 516.4,107.6 517.9,113.1 519.4,101.9 520.8,100.2 522.3,66.9 523.8,104.2 525.3,122.9 526.7,104.3 528.2,115.4 529.7,107.9 531.2,112.7 532.6,103.3 534.1,89.0 535.6,92.4 537.1,103.6 538.5,85.4 540.0,100.6 541.5,99.4 543.0,115.4 544.4,117.7 545.9,112.3 547.4,113.0 548.9,115.2 550.3,115.1 551.8,117.7 553.3,99.6 554.8,120.5 556.3,117.4 557.7,103.8 559.2,83.2 560.7,94.4 562.2,119.6 563.6,104.0 565.1,106.7 566.6,90.6 568.1,126.1 569.5,105.0 571.0,118.8 572.5,131.6 574.0,90.9 575.4,100.0 576.9,107.1 578.4,120.8 579.9,96.7 581.3,106.2 582.8,113.4 584.3,115.0 585.8,116.7 587.2,100.2 588.7,96.3 590.2,120.2" stroke="#ff00ff"/>
<polyline points="368.8,76.9 370.3,77.2 371.8,101.9 373.2,85.0 374.7,94.3 376.2,89.6 377.7,95.1 379.1,86.5 380.6,69.0 382.1,77.9 383.6,92.1 385.0,100.4 386.5,89.4 388.0,90.2 389.5,83.4 390.9,71.4 392.4,99.0 393.9,77.8 395.4,68.6 396.8,75.9 398.3,77.3 399.8,91.1 401.3,86.1 402.7,62.2 404.2,86.1 405.7,75.4 407.2,83.0 408.7,103.5 410.1,79.8 411.6,79.0 413.1,87.5 414.6,67.5 416.0,73.5 417.5,99.7 419.0,84.7 420.5,96.0 421.9,84.9 423.4,117.7 424.9,80.9 426.4,81.5 427.8,96.3 429.3,68.3 430.8,79.1 432.3,84.2 433.7,82.9 435.2,87.6 436.7,92.7 438.2,90.7 439.6,80.3 441.1,98.4 442.6,100.0 444.1,75.5 445.6,95.4 447.0,85.4 448.5,100.2 450.0,89.0 451.5,96.4 452.9,96.6 454.4,89.5 455.9,85.7 457.4,92.0 458.8,74.9 460.3,86.5 461.8,95.2 463.3,88.7 464.7,86.5 466.2,81.9 467.7,98.4 469.2,111.3 470.6,111.1 472.1,114.7 473.6,80.6 475.1,115.5 476.5,78.5 478.0,91.5 479.5,85.6 481.0,113.7 482.5,99.3 483.9,83.1 485.4,104.2 486.9,78.3 488.4,89.3 489.8,95.9 491.3,81.3 492.8,97.5 494.3,93.2 495.7,91.7 497.2,112.7 498.7,93.3 500.2,85.4 501.6,86.7 503.1,80.8 504.6,94.2 506.1,109.1 507.5,79.0 509.0,119.6 510.5,92.4 512.0,127.2 513.4,102.7 514.9,75.7 516.4,119.5 517.9,80.8 519.4,104.9 520.8,110.1 522.3,103.9 523.8,104.5 525.3,96.2 526.7,94.5 528.2,96.0 529.7,99.6 531.2,105.8 532.6,82.2 534.1,90.3 535.6,105.4 537.1,101.4 538.5,99.6 540.0,84.4 541.5,103.0 543.0,103.4 544.4,98.1 545.9,101.4 547.4,114.8 548.9,119.0 550.3,96.8 551.8,102.3 553.3,104.7 554.8,110.1 556.3,115.5 557.7,111.0 559.2,117.2 560.7,117.4 562.2,112.6 563.6,101.7 565.1,115.8 566.6,101.4 568.1,98.0 569.5,109.0 571.0,115.4 572.5,102.4 574.0,102.1 575.4,81.4 576.9,111.2 578.4,98.2 579.9,94.4 581.3,87.9 582.8,126.4 584.3,106.1 585.8,114.1 587.2,116.9 588.7,132.3 590.2,120.0" stroke="#8000ff"/>
<polyline points="368.8,83.3 370.3,79.5 371.8,102.0 373.2,77.1 374.7,85.8 376.2,108.0 377.7,87.6 379.1,84.0 380.6,76.5 382.1,88.5 383.6,81.2 385.0,100.9 386.5,99.5 388.0,84.0 389.5,75.2 390.9,90.2 392.4,80.0 393.9,90.9 395.4,62.5 396.8,86.2 398.3,82.7 399.8,62.6 401.3,68.8 402.7,80.6 404.2,72.9 405.7,82.1 407.2,69.1 408.7,96.0 410.1,95.1 411.6,85.2 413.1,89.7 414.6,99.0 416.0,86.0 417.5,81.4 419.0,74.8 420.5,64.0 421.9,88.2 423.4,111.8 424.9,82.3 426.4,102.2 427.8,94.4 429.3,96.5 430.8,99.0 432.3,83.4 433.7,75.0 435.2,76.9 436.7,84.8 438.2,74.8 439.6,73.3 441.1,77.0 442.6,100.4 444.1,83.5 445.6,104.2 447.0,78.4 448.5,105.7 450.0,84.2 451.5,81.8 452.9,79.2 454.4,73.3 455.9,100.1 457.4,116.6 458.8,91.0 460.3,79.4 461.8,98.1 463.3,86.0 464.7,82.4 466.2,78.0 467.7,111.6 469.2,87.9 470.6,81.7 472.1,97.6 473.6,66.3 475.1,79.4 476.5,92.7 478.0,77.1 479.5,92.3 481.0,87.7 482.5,100.6 483.9,94.4 485.4,110.5 486.9,111.7 488.4,94.7 489.8,106.1 491.3,103.3 492.8,85.3 494.3,72.9 495.7,91.3 497.2,91.6 498.7,104.2 500.2,82.0 501.6,124.0 503.1,118.1 504.6,106.6 506.1,82.3 507.5,97.6 509.0,95.1 510.5,99.7 512.0,96.7 513.4,110.8 514.9,91.1 516.4,130.1 517.9,108.5 519.4,96.5 520.8,121.2 522.3,83.1 523.8,81.3 525.3,97.5 526.7,111.2 528.2,88.4 529.7,91.9 531.2,97.2 532.6,91.5 534.1,96.2 535.6,89.4 537.1,102.8 538.5,115.1 540.0,107.8 541.5,120.4 543.0,121.8 544.4,96.9 545.9,97.8 547.4,107.6 548.9,91.2 550.3,112.6 551.8,97.5 553.3,124.2 554.8,92.4 556.3,120.5 557.7,94.3 559.2,102.2 560.7,69.6 562.2,102.1 563.6,100.0 565.1,122.8 566.6,119.5 568.1,114.3 569.5,113.5 571.0,116.6 572.5,109.7 574.0,106.9 575.4,129.5 576.9,93.8 578.4,84.2 579.9,97.4 581.3,121.1 582.8,111.6 584.3,101.5 585.8,119.7 587.2,115.5 588.7,123.6 590.2,84.1" stroke="#ff0040"/>
<polyline points="368.8,79.5 370.3,73.7 371.8,69.9 373.2,83.2 374.7,86.0 376.2,92.4 377.7,72.8 379.1,64.7 380.6,82.6 382.1,74.6 383.6,69.6 385.0,87.8 386.5,73.6 388.0,71.5 389.5,77.1 390.9,79.3 392.4,88.8 393.9,78.5 395.4,80.7 396.8,73.5 398.3,72.0 399.8,79.7 401.3,70.3 402.7,93.4 404.2,85.5 405.7,83.6 407.2,77.5 408.7,91.7 410.1,71.4 411.6,78.9 413.1,76.1 414.6,95.5 416.0,85.7 417.5,78.5 419.0,77.8 420.5,74.3 421.9,80.7 423.4,85.9 424.9,67.0 426.4,78.7 427.8,83.9 429.3,89.4 430.8,80.4 432.3,90.5 433.7,79.9 435.2,79.5 436.7,81.5 438.2,102.5 439.6,86.4 441.1,84.4 442.6,86.3 444.1,83.7 445.6,85.6 447.0,94.3 448.5,61.7 450.0,97.0 451.5,99.9 452.9,80.4 454.4,79.1 455.9,76.8 457.4,79.6 458.8,108.9 460.3,101.7 461.8,73.9 463.3,79.4 464.7,94.5 466.2,85.8 467.7,100.5 469.2,97.8 470.6,89.1 472.1,82.3 473.6,78.6 475.1,117.2 476.5,83.9 478.0,82.1 479.5,91.7 481.0,82.5 482.5,87.8 483.9,89.2 485.4,115.3 486.9,85.3 488.4,104.5 489.8,111.1 491.3,104.5 492.8,88.7 494.3,92.4 495.7,94.6 497.2,94.6 498.7,85.1 500.2,69.7 501.6,88.8 503.1,102.4 504.6,97.7 506.1,89.2 507.5,107.4 509.0,102.6 510.5,97.7 512.0,77.7 513.4,93.8 514.9,116.8 516.4,111.0 517.9,86.0 519.4,118.9 520.8,123.9 522.3,118.1 523.8,100.0 525.3,96.8 526.7,117.6 528.2,106.9 529.7,98.9 531.2,98.6 532.6,114.6 534.1,95.5 535.6,103.4 537.1,85.7 538.5,105.6 540.0,98.6 541.5,87.4 543.0,103.4 544.4,106.0 545.9,110.3 547.4,99.5 548.9,126.1 550.3,116.9 551.8,105.0 553.3,98.6 554.8,81.4 556.3,89.3 557.7,104.9 559.2,114.9 560.7,125.3 562.2,92.2 563.6,133.6 565.1,84.2 566.6,118.3 568.1,97.3 569.5,99.4 571.0,95.7 572.5,104.4 574.0,111.8 575.4,110.2 576.9,126.8 578.4,121.6 579.9,118.9 581.3,106.7 582.8,103.2 584.3,124.5 585.8,96.8 587.2,105.6 588.7,114.9 590.2,114.3" stroke="#ff0080"/>
<polyline points="368.8,71.7 370.3,91.5 371.8,87.7 373.2,71.6 374.7,74.1 376.2,77.8 377.7,83.1 379.1,77.5 380.6,89.5 382.1,96.0 383.6,102.2 385.0,74.4 386.5,66.8 388.0,84.4 389.5,70.2 390.9,78.2 392.4,89.0 393.9,69.9 395.4,83.0 396.8,83.7 398.3,78.7 399.8,83.6 401.3,97.2 402.7,88.9 404.2,97.4 405.7,77.1 407.2,73.0 408.7,65.5 410.1,75.9 411.6,98.4 413.1,96.6 414.6,91.0 416.0,68.0 417.5,89.8 419.0,80.3 420.5,89.5 421.9,78.9 423.4,87.5 424.9,76.2 426.4,83.9 427.8,75.5 429.3,93.7 430.8,78.2 432.3,82.0 433.7,79.9 435.2,88.1 436.7,78.4 438.2,81.4 439.6,86.6 441.1,77.1 442.6,93.4 444.1,69.7 445.6,106.5 447.0,85.6 448.5,79.1 450.0,89.9 451.5,81.6 452.9,92.8 454.4,80.0 455.9,79.0 457.4,105.2 458.8,110.0 460.3,89.0 461.8,104.5 463.3,87.8 464.7,84.2 466.2,109.5 467.7,88.6 469.2,95.4 470.6,86.6 472.1,102.7 473.6,88.1 475.1,94.2 476.5,115.7 478.0,102.9 479.5,81.5 481.0,90.3 482.5,88.2 483.9,87.5 485.4,96.8 486.9,110.5 488.4,89.0 489.8,107.5 491.3,117.7 492.8,93.7 494.3,85.5 495.7,96.5 497.2,108.1 498.7,121.5 500.2,92.4 501.6,84.2 503.1,105.8 504.6,94.6 506.1,115.0 507.5,109.7 509.0,93.9 510.5,96.7 512.0,109.6 513.4,111.2 514.9,99.6 516.4,100.0 517.9,105.1 519.4,101.8 520.8,89.0 522.3,107.5 523.8,86.5 525.3,99.2 526.7,96.4 528.2,120.3 529.7,112.4 531.2,105.9 532.6,114.9 534.1,92.8 535.6,92.9 537.1,92.6 538.5,109.1 540.0,121.0 541.5,132.7 543.0,99.1 544.4,114.1 545.9,126.3 547.4,112.4 548.9,87.5 550.3,109.7 551.8,111.8 553.3,98.4 554.8,107.3 556.3,112.9 557.7,106.0 559.2,123.8 560.7,132.1 562.2,120.0 563.6,89.4 565.1,97.3 566.6,128.3 568.1,99.1 569.5,126.2 571.0,110.0 572.5,102.6 574.0,119.4 575.4,107.7 576.9,126.3 578.4,89.7 579.9,82.5 581.3,101.1 582.8,122.4 584.3,116.7 585.8,118.3 587.2,114.1 588.7,107.2 590.2,116.3" stroke="#ff00bf"/>
</g>
<polyline points="368.8,81.3 370.3,80.3 371.8,79.3 373.2,77.7 374.7,78.9 376.2,81.0 377.7,80.6 379.1,78.9 380.6,79.1 382.1,79.5 383.6,79.7 385.0,80.7 386.5,79.0 388.0,77.3 389.5,77.8 390.9,77.8 392.4,79.1 393.9,80.3 395.4,78.1 396.8,77.4 398.3,80.7 399.8,81.1 401.3,79.7 402.7,79.6 404.2,78.5 405.7,78.9 407.2,79.7 408.7,79.3 410.1,76.6 411.6,76.8 413.1,79.6 414.6,81.0 416.0,81.1 417.5,81.2 419.0,82.2 420.5,83.5 421.9,82.9 423.4,82.0 424.9,83.4 426.4,84.2 427.8,81.7 429.3,82.7 430.8,84.9 432.3,83.9 433.7,85.6 435.2,85.0 436.7,86.7 438.2,88.5 439.6,85.9 441.1,84.5 442.6,86.3 444.1,90.3 445.6,89.3 447.0,88.4 448.5,91.7 450.0,91.9 451.5,89.6 452.9,88.9 454.4,89.3 455.9,91.5 457.4,92.0 458.8,90.4 460.3,88.6 461.8,88.6 463.3,90.1 464.7,89.6 466.2,90.1 467.7,91.1 469.2,91.3 470.6,91.5 472.1,93.1 473.6,92.4 475.1,91.4 476.5,92.3 478.0,94.3 479.5,93.9 481.0,93.3 482.5,96.0 483.9,93.3 485.4,92.4 486.9,94.3 488.4,94.1 489.8,94.3 491.3,94.0 492.8,94.6 494.3,96.4 495.7,96.3 497.2,95.1 498.7,96.3 500.2,95.0 501.6,95.9 503.1,98.9 504.6,98.2 506.1,97.4 507.5,98.1 509.0,99.1 510.5,99.4 512.0,99.6 513.4,99.3 514.9,100.4 516.4,99.1 517.9,98.9 519.4,100.8 520.8,102.5 522.3,101.9 523.8,99.3 525.3,99.7 526.7,100.8 528.2,101.5 529.7,101.8 531.2,103.2 532.6,102.1 534.1,102.4 535.6,106.1 537.1,106.5 538.5,106.8 540.0,106.0 541.5,103.7 543.0,106.0 544.4,109.4 545.9,106.7 547.4,105.7 548.9,108.3 550.3,106.9 551.8,106.0 553.3,108.2 554.8,109.1 556.3,108.4 557.7,109.5 559.2,110.0 560.7,108.6 562.2,108.9 563.6,109.6 565.1,109.4 566.6,110.7 568.1,110.8 569.5,111.5 571.0,111.6 572.5,110.6 574.0,112.3 575.4,112.6 576.9,113.7 578.4,114.0 579.9,112.2 581.3,111.1 582.8,111.2 584.3,112.9 585.8,112.7 587.2,112.4 588.7,112.9 590.2,113.8" class="mn"/>
<polyline points="368.8,60.5 370.3,59.8 371.8,59.3 373.2,60.7 374.7,57.3 376.2,56.9 377.7,58.9 379.1,59.0 380.6,59.7 382.1,58.6 383.6,57.4 385.0,55.6 386.5,55.9 388.0,58.0 389.5,55.9 390.9,58.4 392.4,56.1 393.9,56.7 395.4,56.3 396.8,56.7 398.3,57.6 399.8,57.0 401.3,55.7 402.7,56.9 404.2,55.3 405.7,58.4 407.2,56.3 408.7,54.4 410.1,56.1 411.6,57.9 413.1,56.4 414.6,54.7 416.0,56.2 417.5,56.2 419.0,54.6 420.5,57.9 421.9,58.2 423.4,57.1 424.9,59.2 426.4,58.0 427.8,59.5 429.3,56.7 430.8,61.4 432.3,58.7 433.7,60.5 435.2,59.0 436.7,58.2 438.2,61.5 439.6,61.1 441.1,59.9 442.6,59.3 444.1,63.1 445.6,61.1 447.0,60.7 448.5,62.6 450.0,64.1 451.5,59.9 452.9,59.4 454.4,61.8 455.9,62.0 457.4,62.4 458.8,64.2 460.3,64.6 461.8,62.1 463.3,60.5 464.7,61.1 466.2,64.1 467.7,60.5 469.2,63.1 470.6,59.3 472.1,63.6 473.6,64.1 475.1,61.6 476.5,65.2 478.0,63.1 479.5,62.9 481.0,62.1 482.5,60.3 483.9,64.0 485.4,62.6 486.9,62.1 488.4,65.4 489.8,64.6 491.3,62.7 492.8,64.8 494.3,64.3 495.7,62.8 497.2,66.9 498.7,67.4 500.2,62.4 501.6,65.2 503.1,64.3 504.6,64.3 506.1,65.0 507.5,65.5 509.0,68.5 510.5,66.5 512.0,69.9 513.4,68.7 514.9,63.5 516.4,69.0 517.9,65.9 519.4,67.3 520.8,68.4 522.3,67.4 523.8,66.1 525.3,70.1 526.7,67.4 528.2,68.9 529.7,69.5 531.2,68.9 532.6,67.0 534.1,68.3 535.6,67.3 537.1,69.2 538.5,68.0 540.0,68.4 541.5,71.3 543.0,71.1 544.4,70.9 545.9,70.5 547.4,68.1 548.9,70.8 550.3,70.7 551.8,69.4 553.3,73.0 554.8,71.1 556.3,73.6 557.7,71.8 559.2,73.6 560.7,76.5 562.2,74.2 563.6,73.5 565.1,72.8 566.6,77.1 568.1,77.3 569.5,73.7 571.0,74.2 572.5,77.1 574.0,73.9 575.4,72.5 576.9,74.7 578.4,76.2 579.9,74.5 581.3,79.2 582.8,76.6 584.3,75.3 585.8,75.7 587.2,77.1 588.7,78.8 590.2,76.6" class="dt"/>
<g class="ax tp">
<path class="bx" d="M359.9 17.0 V159.6 H591.0"/>
<path d="M352.9 154.3 H359.9"/>
<path d="M352.9 110.3 H359.9"/>
<path d="M352.9 66.3 H359.9"/>
<path d="M352.9 22.3 H359.9"/>
<path d="M368.8 159.6 V166.6"/>
<path d="M442.6 159.6 V166.6"/>
<path d="M516.4 159.6 V166.6"/>
<path d="M590.2 159.6 V166.6"/>
</g>
<text class="tk" transform="translate(344.7 154.7) rotate(-90)" text-anchor="middle">0</text>
<text class="tk" transform="translate(344.7 110.7) rotate(-90)" text-anchor="middle">50</text>
<text class="tk" transform="translate(344.7 66.7) rotate(-90)" text-anchor="middle">100</text>
<text class="tk" transform="translate(344.7 22.7) rotate(-90)" text-anchor="middle">150</text>
<text class="lab" x="364.2" y="27.4">(b)</text>
<g class="ens">
<polyline points="78.2,240.4 79.7,233.6 81.1,255.9 82.6,236.3 84.1,236.2 85.6,239.2 87.0,245.6 88.5,227.2 90.0,222.8 91.5,229.9 92.9,242.0 94.4,247.6 95.9,232.9 97.4,239.4 98.8,248.0 100.3,234.6 101.8,252.2 103.2,215.9 104.7,218.5 106.2,232.3 107.7,220.4 109.1,230.8 110.6,238.1 112.1,222.2 113.6,249.5 115.0,251.0 116.5,240.8 118.0,245.1 119.5,240.4 120.9,237.1 122.4,255.0 123.9,242.8 125.3,228.1 126.8,214.2 128.3,222.9 129.8,242.1 131.2,226.2 132.7,243.3 134.2,258.6 135.7,229.4 137.1,240.7 138.6,237.0 140.1,237.9 141.6,253.4 143.0,234.9 144.5,226.4 146.0,236.7 147.4,244.6 148.9,255.8 150.4,242.5 151.9,245.4 153.3,237.3 154.8,244.0 156.3,246.0 157.8,236.7 159.2,254.0 160.7,258.9 162.2,248.7 163.7,253.1 165.1,239.6 166.6,231.1 168.1,237.9 169.5,248.0 171.0,247.8 172.5,239.2 174.0,239.4 175.4,237.1 176.9,253.8 178.4,238.6 179.9,222.6 181.3,229.6 182.8,235.9 184.3,246.9 185.8,249.3 187.2,243.8 188.7,254.5 190.2,256.7 191.6,242.2 193.1,265.3 194.6,246.6 196.1,232.7 197.5,257.4 199.0,250.0 200.5,256.1 202.0,229.9 203.4,250.2 204.9,241.4 206.4,257.6 207.9,250.3 209.3,260.9 210.8,256.4 212.3,261.8 213.7,263.2 215.2,246.7 216.7,246.2 218.2,240.1 219.6,252.2 221.1,251.9 222.6,249.9 224.1,269.2 225.5,247.7 227.0,262.5 228.5,256.4 230.0,242.9 231.4,266.4 232.9,237.2 234.4,262.1 235.8,266.3 237.3,244.5 238.8,264.2 240.3,255.7 241.7,272.8 243.2,254.3 244.7,271.3 246.2,269.9 247.6,237.4 249.1,273.0 250.6,260.0 252.1,249.2 253.5,261.2 255.0,262.3 256.5,284.3 257.9,266.4 259.4,247.9 260.9,277.9 262.4,271.0 263.8,250.4 265.3,253.6 266.8,270.1 268.3,265.7 269.7,269.1 271.2,262.7 272.7,265.3 274.2,259.2 275.6,266.3 277.1,264.5 278.6,255.9 280.0,263.0 281.5,275.6 283.0,273.5 284.5,271.0 285.9,254.9 287.4,273.4 288.9,269.3 290.4,282.9 291.8,273.5 293.3,260.3 294.8,260.0 296.3,262.1 297.7,273.4 299.2,255.3" stroke="#ff0000"/>
<polyline points="78.2,245.0 79.7,227.8 81.1,233.9 82.6,236.8 84.1,233.7 85.6,236.0 87.0,217.6 88.5,243.7 90.0,243.3 91.5,228.0 92.9,250.4 94.4,234.2 95.9,234.8 97.4,232.3 98.8,222.3 100.3,242.7 101.8,244.3 103.2,239.0 104.7,224.4 106.2,235.4 107.7,240.0 109.1,244.8 110.6,234.7 112.1,234.8 113.6,232.5 115.0,228.9 116.5,254.7 118.0,229.8 119.5,219.4 120.9,232.1 122.4,244.8 123.9,225.4 125.3,258.5 126.8,228.5 128.3,223.9 129.8,242.9 131.2,241.2 132.7,231.3 134.2,249.0 135.7,229.9 137.1,248.1 138.6,224.8 140.1,264.7 141.6,239.6 143.0,237.5 144.5,230.1 146.0,230.6 147.4,236.6 148.9,250.3 150.4,232.1 151.9,247.9 153.3,235.8 154.8,254.3 156.3,243.9 157.8,232.3 159.2,225.1 160.7,242.0 162.2,250.2 163.7,243.2 165.1,238.2 166.6,220.7 168.1,244.2 169.5,259.2 171.0,249.3 172.5,250.7 174.0,256.8 175.4,225.0 176.9,244.2 178.4,231.2 179.9,230.0 181.3,250.1 182.8,242.7 184.3,240.1 185.8,231.1 187.2,251.3 188.7,243.3 190.2,244.6 191.6,241.2 193.1,262.1 194.6,240.9 196.1,235.4 197.5,252.0 199.0,246.5 200.5,225.4 202.0,236.5 203.4,267.9 204.9,239.1 206.4,231.9 207.9,244.8 209.3,244.0 210.8,251.3 212.3,248.2 213.7,255.1 215.2,240.4 216.7,236.3 218.2,235.6 219.6,240.2 221.1,252.6 222.6,248.8 224.1,255.5 225.5,250.9 227.0,254.3 228.5,239.6 230.0,265.4 231.4,250.6 232.9,263.6 234.4,259.0 235.8,254.7 237.3,247.1 238.8,247.0 240.3,257.2 241.7,249.8 243.2,256.9 244.7,268.3 246.2,246.5 247.6,281.5 249.1,265.9 250.6,247.3 252.1,246.8 253.5,271.8 255.0,259.0 256.5,275.7 257.9,239.2 259.4,267.3 260.9,271.2 262.4,269.3 263.8,261.6 265.3,273.7 266.8,251.6 268.3,258.1 269.7,271.9 271.2,248.9 272.7,269.6 274.2,272.0 275.6,272.5 277.1,256.9 278.6,262.8 280.0,268.8 281.5,268.2 283.0,271.3 284.5,256.3 285.9,264.3 287.4,274.0 288.9,264.6 290.4,262.8 291.8,264.3 293.3,266.5 294.8,265.2 296.3,275.2 297.7,274.2 299.2,273.0" stroke="#ff4000"/>
<polyline points="78.2,241.7 79.7,239.5 81.1,237.4 82.6,229.6 84.1,241.1 85.6,244.5 87.0,242.7 88.5,227.7 90.0,233.5 91.5,222.1 92.9,256.4 94.4,228.7 95.9,235.1 97.4,227.6 98.8,255.8 100.3,229.5 101.8,246.9 103.2,228.6 104.7,213.0 106.2,234.8 107.7,249.9 109.1,231.7 110.6,246.8 112.1,236.3 113.6,236.8 115.0,238.1 116.5,238.9 118.0,210.8 119.5,231.6 120.9,248.7 122.4,221.1 123.9,244.5 125.3,230.2 126.8,231.6 128.3,236.9 129.8,232.4 131.2,245.3 132.7,240.1 134.2,236.2 135.7,237.7 137.1,222.3 138.6,229.2 140.1,237.0 141.6,242.9 143.0,243.1 144.5,238.6 146.0,228.9 147.4,236.4 148.9,247.1 150.4,239.2 151.9,241.4 153.3,237.4 154.8,243.5 156.3,256.2 157.8,230.5 159.2,220.0 160.7,244.8 162.2,236.0 163.7,251.4 165.1,231.5 166.6,237.0 168.1,242.2 169.5,253.7 171.0,248.0 172.5,250.6 174.0,245.1 175.4,224.1 176.9,227.1 178.4,252.7 179.9,233.4 181.3,274.8 182.8,230.5 184.3,239.6 185.8,256.8 187.2,257.8 188.7,268.4 190.2,236.0 191.6,238.1 193.1,258.3 194.6,238.2 196.1,263.7 197.5,240.3 199.0,247.3 200.5,261.2 202.0,246.1 203.4,254.9 204.9,270.1 206.4,242.6 207.9,255.0 209.3,266.1 210.8,248.6 212.3,242.9 213.7,260.4 215.2,251.4 216.7,235.5 218.2,248.9 219.6,254.2 221.1,261.3 222.6,240.4 224.1,251.4 225.5,250.3 227.0,255.3 228.5,256.7 230.0,259.4 231.4,266.2 232.9,254.0 234.4,251.7 235.8,249.2 237.3,256.7 238.8,257.3 240.3,251.3 241.7,265.5 243.2,271.7 244.7,263.3 246.2,266.1 247.6,259.6 249.1,261.6 250.6,267.5 252.1,265.1 253.5,265.3 255.0,267.9 256.5,248.2 257.9,257.2 259.4,251.6 260.9,250.0 262.4,248.1 263.8,268.1 265.3,257.2 266.8,251.5 268.3,246.3 269.7,268.0 271.2,264.2 272.7,260.3 274.2,260.5 275.6,261.0 277.1,267.7 278.6,268.5 280.0,275.8 281.5,265.0 283.0,264.6 284.5,261.0 285.9,278.9 287.4,252.7 288.9,279.9 290.4,274.8 291.8,273.1 293.3,270.8 294.8,259.6 296.3,272.5 297.7,257.5 299.2,274.7" stroke="#ff8000"/>
<polyline points="78.2,238.7 79.7,241.3 81.1,237.8 82.6,221.5 84.1,240.9 85.6,241.7 87.0,253.5 88.5,239.5 90.0,211.8 91.5,224.7 92.9,230.4 94.4,249.8 95.9,244.7 97.4,243.1 98.8,236.9 100.3,242.8 101.8,208.7 103.2,220.3 104.7,240.4 106.2,232.3 107.7,227.7 109.1,234.1 110.6,244.0 112.1,209.3 113.6,230.8 115.0,225.6 116.5,236.7 118.0,217.3 119.5,242.8 120.9,219.5 122.4,234.4 123.9,240.7 125.3,251.3 126.8,233.1 128.3,232.8 129.8,244.3 131.2,224.6 132.7,245.9 134.2,234.5 135.7,236.1 137.1,249.5 138.6,235.7 140.1,244.6 141.6,239.2 143.0,255.2 144.5,235.4 146.0,254.5 147.4,251.6 148.9,236.3 150.4,248.1 151.9,235.6 153.3,243.3 154.8,240.1 156.3,240.5 157.8,231.4 159.2,229.5 160.7,251.4 162.2,219.4 163.7,244.5 165.1,243.7 166.6,257.1 168.1,236.2 169.5,225.1 171.0,236.7 172.5,229.6 174.0,246.1 175.4,241.3 176.9,261.5 178.4,235.4 179.9,249.4 181.3,235.6 182.8,243.8 184.3,254.0 185.8,234.2 187.2,262.8 188.7,255.3 190.2,251.1 191.6,248.2 193.1,233.7 194.6,261.0 196.1,247.5 197.5,254.8 199.0,244.8 200.5,247.7 202.0,242.9 203.4,239.7 204.9,237.9 206.4,247.3 207.9,247.6 209.3,246.6 210.8,236.9 212.3,251.3 213.7,246.8 215.2,222.7 216.7,257.3 218.2,267.5 219.6,248.9 221.1,231.1 222.6,268.0 224.1,247.2 225.5,247.2 227.0,263.7 228.5,262.2 230.0,265.9 231.4,264.0 232.9,252.9 234.4,259.0 235.8,247.7 237.3,256.6 238.8,244.1 240.3,262.1 241.7,257.0 243.2,249.8 244.7,257.7 246.2,238.2 247.6,260.1 249.1,248.1 250.6,274.9 252.1,266.6 253.5,264.0 255.0,252.6 256.5,263.9 257.9,248.2 259.4,268.8 260.9,267.9 262.4,252.3 263.8,267.2 265.3,276.8 266.8,268.6 268.3,240.0 269.7,270.2 271.2,271.4 272.7,259.2 274.2,271.9 275.6,248.0 277.1,273.9 278.6,262.3 280.0,270.1 281.5,271.9 283.0,272.9 284.5,256.1 285.9,267.2 287.4,276.7 288.9,261.9 290.4,275.7 291.8,268.5 293.3,280.1 294.8,258.1 296.3,265.6 297.7,273.7 299.2,273.7" stroke="#ffbf00"/>
<polyline points="78.2,252.4 79.7,238.3 81.1,230.3 82.6,242.7 84.1,223.6 85.6,223.2 87.0,249.0 88.5,233.0 90.0,242.0 91.5,249.1 92.9,233.8 94.4,243.0 95.9,259.4 97.4,230.3 98.8,236.4 100.3,241.5 101.8,237.4 103.2,230.6 104.7,237.5 106.2,242.6 107.7,234.4 109.1,256.1 110.6,226.8 112.1,242.0 113.6,231.5 115.0,243.6 116.5,241.3 118.0,232.9 119.5,233.9 120.9,222.9 122.4,235.1 123.9,253.2 125.3,220.9 126.8,239.7 128.3,224.4 129.8,224.0 131.2,242.9 132.7,242.6 134.2,252.7 135.7,235.6 137.1,255.3 138.6,209.4 140.1,231.5 141.6,232.9 143.0,240.7 144.5,239.1 146.0,244.0 147.4,267.2 148.9,244.1 150.4,244.8 151.9,231.6 153.3,252.6 154.8,238.7 156.3,234.7 157.8,236.3 159.2,251.4 160.7,246.9 162.2,253.3 163.7,247.9 165.1,240.8 166.6,248.8 168.1,243.8 169.5,244.1 171.0,236.5 172.5,238.7 174.0,238.6 175.4,236.0 176.9,248.0 178.4,235.3 179.9,244.0 181.3,233.5 182.8,241.9 184.3,232.6 185.8,244.6 187.2,259.8 188.7,251.9 190.2,244.8 191.6,246.3 193.1,243.5 194.6,251.8 196.1,252.3 197.5,264.3 199.0,239.4 200.5,238.9 202.0,240.1 203.4,267.6 204.9,256.4 206.4,256.0 207.9,251.5 209.3,261.7 210.8,232.1 212.3,243.3 213.7,253.6 215.2,256.7 216.7,256.5 218.2,243.4 219.6,251.0 221.1,251.0 222.6,245.1 224.1,263.5 225.5,275.2 227.0,233.2 228.5,260.9 230.0,250.1 231.4,269.3 232.9,251.8 234.4,240.5 235.8,254.8 237.3,270.7 238.8,265.1 240.3,274.7 241.7,262.9 243.2,251.9 244.7,255.2 246.2,265.7 247.6,260.3 249.1,262.9 250.6,273.7 252.1,270.1 253.5,260.2 255.0,244.6 256.5,264.3 257.9,263.4 259.4,273.5 260.9,258.3 262.4,276.3 263.8,261.8 265.3,260.2 266.8,265.9 268.3,270.6 269.7,271.3 271.2,252.6 272.7,258.0 274.2,264.4 275.6,258.1 277.1,270.0 278.6,267.6 280.0,272.0 281.5,272.2 283.0,270.2 284.5,259.0 285.9,272.6 287.4,271.6 288.9,269.6 290.4,258.7 291.8,274.5 293.3,247.6 294.8,271.1 296.3,272.2 297.7,269.8 299.2,273.3" stroke="#ffff00"/>
<polyline points="78.2,236.8 79.7,258.3 81.1,234.0 82.6,238.3 84.1,247.6 85.6,248.1 87.0,243.9 88.5,220.6 90.0,250.8 91.5,239.2 92.9,241.9 94.4,219.5 95.9,230.6 97.4,236.8 98.8,244.9 100.3,225.9 101.8,226.2 103.2,225.5 104.7,240.9 106.2,245.3 107.7,247.5 109.1,238.7 110.6,250.9 112.1,226.9 113.6,214.1 115.0,240.3 116.5,252.0 118.0,233.1 119.5,242.4 120.9,238.3 122.4,236.3 123.9,219.4 125.3,230.8 126.8,250.8 128.3,246.9 129.8,215.6 131.2,242.2 132.7,244.0 134.2,248.0 135.7,248.2 137.1,236.7 138.6,223.8 140.1,252.4 141.6,221.2 143.0,236.9 144.5,225.0 146.0,246.1 147.4,248.6 148.9,238.2 150.4,242.0 151.9,242.4 153.3,243.7 154.8,236.6 156.3,265.5 157.8,245.0 159.2,232.2 160.7,243.7 162.2,247.0 163.7,236.3 165.1,245.6 166.6,245.5 168.1,238.1 169.5,234.1 171.0,236.7 172.5,249.6 174.0,260.0 175.4,233.1 176.9,252.8 178.4,258.9 179.9,255.7 181.3,258.1 182.8,251.1 184.3,258.7 185.8,244.3 187.2,236.4 188.7,244.2 190.2,256.0 191.6,252.9 193.1,254.8 194.6,248.6 196.1,261.0 197.5,244.4 199.0,254.9 200.5,252.8 202.0,253.1 203.4,233.2 204.9,245.0 206.4,222.7 207.9,255.7 209.3,244.7 210.8,271.1 212.3,251.0 213.7,246.7 215.2,264.9 216.7,263.2 218.2,258.2 219.6,260.6 221.1,235.7 222.6,254.7 224.1,266.3 225.5,249.8 227.0,249.8 228.5,250.4 230.0,249.7 231.4,263.8 232.9,255.8 234.4,251.9 235.8,252.4 237.3,263.9 238.8,250.9 240.3,260.4 241.7,262.7 243.2,266.5 244.7,269.2 246.2,269.9 247.6,273.9 249.1,264.3 250.6,275.1 252.1,264.9 253.5,245.9 255.0,244.5 256.5,264.2 257.9,269.5 259.4,271.4 260.9,270.8 262.4,249.3 263.8,274.0 265.3,262.6 266.8,256.1 268.3,248.4 269.7,251.6 271.2,251.6 272.7,270.9 274.2,258.5 275.6,266.3 277.1,263.1 278.6,272.5 280.0,251.8 281.5,274.3 283.0,267.2 284.5,274.6 285.9,271.4 287.4,261.7 288.9,273.5 290.4,270.6 291.8,268.3 293.3,277.9 294.8,281.8 296.3,268.6 297.7,272.2 299.2,271.5" stroke="#bfff00"/>
<polyline points="78.2,243.2 79.7,222.7 81.1,234.9 82.6,254.4 84.1,246.2 85.6,223.6 87.0,223.1 88.5,237.2 90.0,232.4 91.5,232.2 92.9,244.1 94.4,227.7 95.9,239.1 97.4,257.1 98.8,257.5 100.3,250.1 101.8,241.4 103.2,236.3 104.7,239.5 106.2,228.4 107.7,243.8 109.1,225.9 110.6,224.8 112.1,247.7 113.6,245.9 115.0,223.6 116.5,210.0 118.0,242.3 119.5,239.0 120.9,251.2 122.4,237.4 123.9,232.3 125.3,225.3 126.8,220.9 128.3,242.1 129.8,235.5 131.2,248.3 132.7,242.5 134.2,228.0 135.7,243.1 137.1,246.1 138.6,234.5 140.1,256.7 141.6,234.1 143.0,244.5 144.5,228.9 146.0,249.6 147.4,255.8 148.9,248.4 150.4,242.6 151.9,229.5 153.3,264.4 154.8,233.4 156.3,223.1 157.8,253.6 159.2,254.0 160.7,246.0 162.2,230.8 163.7,240.7 165.1,239.3 166.6,240.4 168.1,239.4 169.5,244.2 171.0,233.6 172.5,255.2 174.0,239.1 175.4,231.9 176.9,252.3 178.4,247.9 179.9,245.5 181.3,262.9 182.8,253.5 184.3,264.4 185.8,274.4 187.2,255.1 188.7,241.5 190.2,257.7 191.6,249.2 193.1,272.0 194.6,250.8 196.1,248.2 197.5,266.5 199.0,237.8 200.5,254.1 202.0,262.5 203.4,250.1 204.9,259.5 206.4,270.4 207.9,238.2 209.3,251.5 210.8,260.4 212.3,253.0 213.7,264.0 215.2,242.8 216.7,231.6 218.2,259.2 219.6,233.9 221.1,255.0 222.6,240.6 224.1,249.0 225.5,247.7 227.0,259.2 228.5,252.8 230.0,258.8 231.4,258.5 232.9,260.2 234.4,258.4 235.8,264.2 237.3,249.1 238.8,265.7 240.3,272.6 241.7,260.3 243.2,264.8 244.7,276.6 246.2,245.3 247.6,275.5 249.1,255.7 250.6,245.6 252.1,262.0 253.5,261.5 255.0,271.1 256.5,265.4 257.9,277.4 259.4,265.7 260.9,252.2 262.4,263.9 263.8,254.7 265.3,267.0 266.8,272.5 268.3,267.3 269.7,268.2 271.2,257.8 272.7,269.1 274.2,278.5 275.6,256.5 277.1,266.8 278.6,270.3 280.0,264.6 281.5,277.5 283.0,263.4 284.5,267.6 285.9,274.5 287.4,278.9 288.9,258.0 290.4,270.3 291.8,273.5 293.3,274.3 294.8,267.7 296.3,275.3 297.7,264.5 299.2,276.1" stroke="#80ff00"/>
<polyline points="78.2,237.8 79.7,233.3 81.1,249.4 82.6,234.2 84.1,236.0 85.6,243.2 87.0,238.6 88.5,212.2 90.0,221.1 91.5,247.9 92.9,243.0 94.4,261.0 95.9,236.9 97.4,240.6 98.8,251.6 100.3,227.8 101.8,224.7 103.2,243.5 104.7,247.1 106.2,238.4 107.7,229.7 109.1,242.7 110.6,222.1 112.1,241.4 113.6,216.9 115.0,242.9 116.5,240.4 118.0,235.8 119.5,228.1 120.9,225.8 122.4,236.8 123.9,221.8 125.3,238.3 126.8,235.4 128.3,247.4 129.8,222.1 131.2,238.7 132.7,235.7 134.2,229.2 135.7,233.8 137.1,223.5 138.6,220.0 140.1,228.1 141.6,242.5 143.0,229.0 144.5,236.8 146.0,245.7 147.4,239.7 148.9,247.4 150.4,243.7 151.9,248.2 153.3,248.2 154.8,231.4 156.3,224.2 157.8,246.2 159.2,247.8 160.7,251.8 162.2,224.2 163.7,249.6 165.1,237.7 166.6,241.9 168.1,248.7 169.5,234.4 171.0,228.9 172.5,247.3 174.0,242.0 175.4,236.6 176.9,253.5 178.4,262.3 179.9,247.3 181.3,246.5 182.8,247.1 184.3,250.3 185.8,242.4 187.2,251.0 188.7,236.6 190.2,239.8 191.6,239.8 193.1,240.1 194.6,249.7 196.1,228.2 197.5,233.0 199.0,267.1 200.5,241.1 202.0,244.5 203.4,254.8 204.9,242.7 206.4,232.8 207.9,250.9 209.3,250.0 210.8,243.0 212.3,227.1 213.7,257.6 215.2,261.0 216.7,254.4 218.2,260.0 219.6,247.7 221.1,243.2 222.6,260.1 224.1,243.2 225.5,256.1 227.0,275.9 228.5,237.2 230.0,245.8 231.4,252.8 232.9,261.7 234.4,264.3 235.8,245.5 237.3,259.1 238.8,261.4 240.3,264.5 241.7,265.9 243.2,256.5 244.7,264.4 246.2,262.6 247.6,259.0 249.1,246.0 250.6,245.0 252.1,273.6 253.5,256.1 255.0,251.9 256.5,268.2 257.9,274.2 259.4,268.4 260.9,272.0 262.4,269.2 263.8,280.1 265.3,271.9 266.8,269.3 268.3,280.7 269.7,259.3 271.2,267.0 272.7,259.9 274.2,270.9 275.6,264.3 277.1,263.0 278.6,277.9 280.0,271.2 281.5,274.2 283.0,274.5 284.5,266.2 285.9,269.0 287.4,272.0 288.9,273.5 290.4,264.8 291.8,255.5 293.3,266.6 294.8,259.9 296.3,275.4 297.7,273.5 299.2,265.4" stroke="#40ff00"/>
<polyline points="78.2,236.5 79.7,244.8 81.1,226.3 82.6,226.6 84.1,223.8 85.6,226.8 87.0,215.0 88.5,246.6 90.0,240.6 91.5,224.1 92.9,228.4 94.4,235.8 95.9,226.0 97.4,230.1 98.8,252.5 100.3,234.2 101.8,242.4 103.2,239.9 104.7,221.1 106.2,240.9 107.7,229.9 109.1,238.0 110.6,241.9 112.1,239.0 113.6,254.3 115.0,239.7 116.5,240.9 118.0,237.9 119.5,248.4 120.9,235.0 122.4,248.6 123.9,237.6 125.3,235.8 126.8,221.7 128.3,232.8 129.8,234.2 131.2,243.3 132.7,215.6 134.2,242.4 135.7,251.0 137.1,226.3 138.6,223.6 140.1,243.0 141.6,210.0 143.0,256.4 144.5,238.7 146.0,238.1 147.4,229.4 148.9,253.1 150.4,234.8 151.9,227.7 153.3,244.0 154.8,229.4 156.3,242.1 157.8,226.5 159.2,252.4 160.7,239.0 162.2,230.0 163.7,245.1 165.1,245.9 166.6,233.7 168.1,262.3 169.5,242.2 171.0,239.2 172.5,223.1 174.0,247.2 175.4,249.3 176.9,237.8 178.4,238.0 179.9,227.2 181.3,254.3 182.8,227.0 184.3,259.5 185.8,244.0 187.2,261.0 188.7,242.4 190.2,240.8 191.6,245.8 193.1,253.8 194.6,253.5 196.1,240.8 197.5,252.0 199.0,249.7 200.5,249.8 202.0,237.7 203.4,253.8 204.9,252.0 206.4,243.1 207.9,245.5 209.3,237.2 210.8,228.5 212.3,244.1 213.7,243.0 215.2,245.8 216.7,258.0 218.2,244.6 219.6,243.3 221.1,254.7 222.6,234.1 224.1,272.6 225.5,257.8 227.0,260.1 228.5,264.7 230.0,261.6 231.4,254.0 232.9,247.5 234.4,250.4 235.8,265.1 237.3,260.5 238.8,256.7 240.3,245.3 241.7,265.5 243.2,250.4 244.7,274.2 246.2,263.9 247.6,281.3 249.1,267.0 250.6,243.1 252.1,267.8 253.5,270.8 255.0,255.2 256.5,242.7 257.9,274.1 259.4,268.6 260.9,242.9 262.4,259.4 263.8,257.6 265.3,247.3 266.8,273.4 268.3,255.9 269.7,246.6 271.2,268.7 272.7,270.8 274.2,267.0 275.6,251.6 277.1,269.1 278.6,278.6 280.0,260.8 281.5,247.8 283.0,260.8 284.5,271.0 285.9,270.3 287.4,257.8 288.9,272.6 290.4,269.5 291.8,269.4 293.3,269.3 294.8,275.9 296.3,270.6 297.7,274.2 299.2,275.6" stroke="#00ff00"/>
<polyline points="78.2,251.6 79.7,232.7 81.1,232.6 82.6,218.9 84.1,231.8 85.6,224.4 87.0,241.5 88.5,225.6 90.0,229.8 91.5,252.7 92.9,223.9 94.4,219.0 95.9,242.8 97.4,238.0 98.8,223.5 100.3,254.5 101.8,236.6 103.2,248.7 104.7,241.9 106.2,235.1 107.7,226.5 109.1,248.3 110.6,238.9 112.1,252.0 113.6,236.7 115.0,223.2 116.5,242.8 118.0,238.2 119.5,229.7 120.9,221.1 122.4,224.2 123.9,232.3 125.3,266.1 126.8,242.7 128.3,230.1 129.8,241.7 131.2,239.2 132.7,235.7 134.2,220.9 135.7,225.2 137.1,237.4 138.6,250.6 140.1,250.6 141.6,229.3 143.0,226.2 144.5,247.0 146.0,242.9 147.4,258.6 148.9,252.6 150.4,238.6 151.9,240.7 153.3,226.0 154.8,242.4 156.3,256.2 157.8,245.9 159.2,251.2 160.7,245.6 162.2,237.3 163.7,248.0 165.1,238.7 166.6,257.4 168.1,233.9 169.5,253.8 171.0,235.8 172.5,241.3 174.0,258.0 175.4,257.5 176.9,250.2 178.4,252.3 179.9,255.5 181.3,252.4 182.8,259.3 184.3,258.5 185.8,252.6 187.2,239.3 188.7,250.9 190.2,234.7 191.6,246.6 193.1,256.5 194.6,245.8 196.1,263.1 197.5,261.4 199.0,265.4 200.5,236.2 202.0,239.7 203.4,252.3 204.9,242.6 206.4,260.0 207.9,251.7 209.3,239.9 210.8,235.3 212.3,242.1 213.7,256.4 215.2,263.5 216.7,264.9 218.2,268.7 219.6,237.1 221.1,247.2 222.6,243.4 224.1,257.4 225.5,233.3 227.0,242.2 228.5,266.7 230.0,252.3 231.4,249.7 232.9,262.1 234.4,263.3 235.8,271.3 237.3,261.2 238.8,262.1 240.3,266.9 241.7,259.3 243.2,273.3 244.7,243.4 246.2,272.2 247.6,262.7 249.1,265.6 250.6,241.8 252.1,253.2 253.5,250.4 255.0,268.9 256.5,240.5 257.9,275.1 259.4,277.3 260.9,258.5 262.4,254.9 263.8,271.7 265.3,239.9 266.8,247.9 268.3,269.6 269.7,270.9 271.2,261.3 272.7,267.6 274.2,270.1 275.6,250.2 277.1,270.5 278.6,265.3 280.0,264.9 281.5,264.7 283.0,269.1 284.5,275.1 285.9,269.8 287.4,272.3 288.9,269.8 290.4,264.4 291.8,266.6 293.3,256.0 294.8,258.5 296.3,260.4 297.7,266.1 299.2,274.3" stroke="#00ff80"/>
<polyline points="78.2,233.2 79.7,249.3 81.1,237.9 82.6,217.4 84.1,218.7 85.6,241.1 87.0,245.9 88.5,237.4 90.0,213.9 91.5,239.3 92.9,229.6 94.4,243.1 95.9,236.4 97.4,246.7 98.8,232.4 100.3,216.2 101.8,228.5 103.2,234.4 104.7,229.0 106.2,236.8 107.7,245.8 109.1,213.4 110.6,236.9 112.1,221.4 113.6,252.1 115.0,227.2 116.5,238.9 118.0,234.7 119.5,240.9 120.9,238.6 122.4,221.5 123.9,239.2 125.3,237.7 126.8,237.8 128.3,237.4 129.8,248.3 131.2,251.6 132.7,240.7 134.2,224.1 135.7,239.8 137.1,240.6 138.6,232.2 140.1,243.4 141.6,229.5 143.0,236.3 144.5,237.9 146.0,236.7 147.4,243.9 148.9,231.1 150.4,263.1 151.9,253.6 153.3,234.8 154.8,259.7 156.3,239.7 157.8,240.1 159.2,261.0 160.7,247.6 162.2,225.4 163.7,234.1 165.1,234.6 166.6,246.3 168.1,237.3 169.5,247.7 171.0,245.9 172.5,227.0 174.0,226.2 175.4,236.0 176.9,250.3 178.4,251.9 179.9,250.1 181.3,245.6 182.8,235.7 184.3,233.4 185.8,236.7 187.2,246.7 188.7,233.4 190.2,221.8 191.6,263.3 193.1,236.2 194.6,246.0 196.1,241.3 197.5,247.4 199.0,243.7 200.5,253.8 202.0,251.2 203.4,248.8 204.9,233.8 206.4,251.7 207.9,246.1 209.3,252.1 210.8,259.6 212.3,248.9 213.7,252.6 215.2,271.3 216.7,254.0 218.2,253.5 219.6,258.2 221.1,255.2 222.6,259.5 224.1,240.1 225.5,253.3 227.0,259.3 228.5,258.6 230.0,251.8 231.4,281.5 232.9,229.8 234.4,240.7 235.8,259.9 237.3,257.5 238.8,261.2 240.3,257.8 241.7,265.2 243.2,241.1 244.7,263.2 246.2,249.5 247.6,252.2 249.1,263.1 250.6,264.1 252.1,267.7 253.5,262.8 255.0,266.1 256.5,264.7 257.9,260.6 259.4,251.0 260.9,264.6 262.4,259.4 263.8,275.8 265.3,257.5 266.8,249.5 268.3,280.2 269.7,263.9 271.2,266.2 272.7,282.9 274.2,240.8 275.6,269.2 277.1,243.7 278.6,262.2 280.0,254.3 281.5,268.9 283.0,261.8 284.5,265.9 285.9,273.7 287.4,273.8 288.9,278.0 290.4,277.1 291.8,266.8 293.3,276.0 294.8,261.0 296.3,276.6 297.7,266.2 299.2,278.2" stroke="#00ff40"/>
<polyline points="78.2,232.9 79.7,252.1 81.1,227.0 82.6,237.6 84.1,239.6 85.6,252.7 87.0,242.6 88.5,225.0 90.0,236.6 91.5,238.3 92.9,242.8 94.4,237.2 95.9,249.1 97.4,234.8 98.8,226.4 100.3,252.8 101.8,221.6 103.2,232.1 104.7,237.8 106.2,254.7 107.7,240.4 109.1,236.8 110.6,237.5 112.1,257.4 113.6,218.8 115.0,220.6 116.5,228.6 118.0,227.9 119.5,230.6 120.9,229.9 122.4,244.4 123.9,228.9 125.3,252.8 126.8,228.6 128.3,228.2 129.8,250.1 131.2,224.0 132.7,230.6 134.2,264.9 135.7,240.4 137.1,252.8 138.6,253.5 140.1,254.9 141.6,247.7 143.0,244.9 144.5,227.9 146.0,246.4 147.4,252.6 148.9,259.0 150.4,252.5 151.9,235.5 153.3,237.0 154.8,233.2 156.3,225.5 157.8,243.3 159.2,245.9 160.7,242.7 162.2,240.7 163.7,249.4 165.1,250.3 166.6,239.2 168.1,237.2 169.5,241.3 171.0,240.2 172.5,245.3 174.0,241.2 175.4,253.4 176.9,264.5 178.4,235.5 179.9,245.7 181.3,235.7 182.8,224.7 184.3,245.4 185.8,243.8 187.2,260.2 188.7,251.5 190.2,244.3 191.6,264.7 193.1,264.9 194.6,235.4 196.1,251.4 197.5,246.2 199.0,268.3 200.5,252.3 202.0,244.3 203.4,255.9 204.9,251.3 206.4,259.5 207.9,253.3 209.3,237.5 210.8,271.8 212.3,272.5 213.7,249.2 215.2,234.9 216.7,247.2 218.2,253.1 219.6,266.4 221.1,255.7 222.6,261.8 224.1,271.7 225.5,263.7 227.0,265.7 228.5,268.3 230.0,258.5 231.4,261.7 232.9,261.0 234.4,255.7 235.8,250.1 237.3,244.5 238.8,252.6 240.3,270.7 241.7,246.2 243.2,259.5 244.7,260.4 246.2,254.9 247.6,267.0 249.1,259.3 250.6,271.7 252.1,259.1 253.5,247.7 255.0,264.8 256.5,270.9 257.9,256.2 259.4,256.0 260.9,265.3 262.4,268.9 263.8,261.1 265.3,260.7 266.8,266.8 268.3,251.7 269.7,259.1 271.2,255.4 272.7,272.9 274.2,274.1 275.6,264.2 277.1,269.1 278.6,260.5 280.0,274.2 281.5,254.2 283.0,270.1 284.5,271.9 285.9,258.5 287.4,272.9 288.9,261.0 290.4,271.1 291.8,271.7 293.3,268.4 294.8,266.6 296.3,279.5 297.7,266.2 299.2,269.4" stroke="#00bfff"/>
<polyline points="78.2,243.7 79.7,224.4 81.1,247.3 82.6,239.1 84.1,229.5 85.6,234.6 87.0,222.7 88.5,245.8 90.0,217.2 91.5,250.5 92.9,241.9 94.4,241.9 95.9,243.3 97.4,247.1 98.8,239.6 100.3,232.7 101.8,257.3 103.2,257.8 104.7,227.8 106.2,236.6 107.7,243.9 109.1,223.3 110.6,224.9 112.1,219.4 113.6,243.4 115.0,240.5 116.5,211.3 118.0,230.9 119.5,234.3 120.9,230.1 122.4,244.1 123.9,264.9 125.3,240.6 126.8,239.7 128.3,226.3 129.8,224.0 131.2,225.0 132.7,246.2 134.2,265.8 135.7,235.1 137.1,232.0 138.6,249.5 140.1,232.5 141.6,236.1 143.0,245.2 144.5,239.4 146.0,238.4 147.4,252.9 148.9,249.7 150.4,255.9 151.9,246.1 153.3,232.5 154.8,243.6 156.3,256.2 157.8,242.4 159.2,240.4 160.7,232.5 162.2,233.2 163.7,244.1 165.1,236.9 166.6,248.0 168.1,225.2 169.5,258.0 171.0,243.3 172.5,251.1 174.0,247.4 175.4,229.7 176.9,244.8 178.4,237.1 179.9,238.5 181.3,253.4 182.8,239.5 184.3,254.2 185.8,242.2 187.2,240.8 188.7,245.7 190.2,252.6 191.6,257.3 193.1,242.0 194.6,248.3 196.1,238.3 197.5,231.5 199.0,256.2 200.5,228.2 202.0,253.5 203.4,237.6 204.9,250.3 206.4,242.0 207.9,258.7 209.3,246.2 210.8,227.5 212.3,263.1 213.7,250.6 215.2,254.8 216.7,254.3 218.2,245.1 219.6,250.8 221.1,248.0 222.6,257.7 224.1,255.7 225.5,226.8 227.0,268.4 228.5,267.1 230.0,252.9 231.4,257.0 232.9,268.0 234.4,259.8 235.8,261.2 237.3,251.8 238.8,255.0 240.3,249.8 241.7,262.8 243.2,262.7 244.7,264.1 246.2,251.2 247.6,261.1 249.1,270.0 250.6,262.1 252.1,263.9 253.5,262.9 255.0,256.9 256.5,269.2 257.9,267.9 259.4,264.8 260.9,264.6 262.4,260.8 263.8,268.8 265.3,266.7 266.8,275.0 268.3,260.5 269.7,268.9 271.2,262.3 272.7,264.5 274.2,278.9 275.6,256.8 277.1,269.1 278.6,267.0 280.0,274.6 281.5,260.9 283.0,269.7 284.5,265.1 285.9,264.6 287.4,269.6 288.9,275.0 290.4,273.1 291.8,265.2 293.3,271.4 294.8,274.2 296.3,270.2 297.7,272.0 299.2,270.0" stroke="#00ffbf"/>
<polyline points="78.2,245.8 79.7,231.3 81.1,258.0 82.6,244.0 84.1,229.5 85.6,225.6 87.0,223.3 88.5,239.0 90.0,242.9 91.5,223.9 92.9,242.2 94.4,235.6 95.9,225.6 97.4,229.5 98.8,242.1 100.3,237.7 101.8,227.0 103.2,219.5 104.7,234.6 106.2,240.5 107.7,243.7 109.1,246.2 110.6,244.9 112.1,253.0 113.6,243.9 115.0,235.5 116.5,222.4 118.0,246.9 119.5,220.1 120.9,236.3 122.4,236.2 123.9,236.9 125.3,229.7 126.8,229.2 128.3,237.9 129.8,232.6 131.2,247.7 132.7,247.6 134.2,240.9 135.7,234.6 137.1,225.5 138.6,260.1 140.1,252.4 141.6,228.0 143.0,229.2 144.5,220.8 146.0,234.8 147.4,231.5 148.9,217.1 150.4,219.5 151.9,235.8 153.3,256.1 154.8,243.2 156.3,238.3 157.8,215.0 159.2,248.0 160.7,247.5 162.2,250.0 163.7,247.9 165.1,237.3 166.6,239.0 168.1,236.6 169.5,237.3 171.0,246.9 172.5,254.2 174.0,259.0 175.4,273.2 176.9,250.1 178.4,262.0 179.9,267.5 181.3,240.1 182.8,254.3 184.3,262.2 185.8,245.5 187.2,236.4 188.7,232.9 190.2,243.2 191.6,244.0 193.1,256.5 194.6,243.6 196.1,242.2 197.5,240.4 199.0,235.7 200.5,253.6 202.0,252.2 203.4,256.6 204.9,248.6 206.4,231.6 207.9,266.8 209.3,259.9 210.8,240.3 212.3,250.6 213.7,245.4 215.2,246.4 216.7,248.3 218.2,254.5 219.6,251.4 221.1,258.6 222.6,243.3 224.1,249.7 225.5,276.8 227.0,271.0 228.5,252.5 230.0,245.1 231.4,266.6 232.9,246.7 234.4,266.3 235.8,260.2 237.3,259.0 238.8,261.5 240.3,260.2 241.7,252.1 243.2,268.7 244.7,254.8 246.2,265.0 247.6,264.6 249.1,268.7 250.6,269.2 252.1,265.6 253.5,259.6 255.0,244.7 256.5,274.6 257.9,264.7 259.4,269.0 260.9,251.2 262.4,236.9 263.8,249.8 265.3,262.1 266.8,279.4 268.3,261.2 269.7,262.3 271.2,267.2 272.7,266.8 274.2,268.0 275.6,248.9 277.1,279.2 278.6,269.3 280.0,266.4 281.5,265.4 283.0,267.5 284.5,270.2 285.9,257.9 287.4,259.4 288.9,276.1 290.4,272.6 291.8,268.7 293.3,252.0 294.8,274.2 296.3,280.5 297.7,272.3 299.2,262.0" stroke="#0080ff"/>
<polyline points="78.2,226.0 79.7,234.7 81.1,227.0 82.6,248.0 84.1,215.6 85.6,231.7 87.0,209.2 88.5,230.9 90.0,257.4 91.5,224.0 92.9,235.8 94.4,244.2 95.9,245.8 97.4,241.2 98.8,236.5 100.3,237.2 101.8,238.9 103.2,264.7 104.7,223.4 106.2,232.0 107.7,242.1 109.1,232.7 110.6,249.2 112.1,240.4 113.6,229.2 115.0,236.2 116.5,221.5 118.0,235.5 119.5,227.6 120.9,219.7 122.4,260.3 123.9,246.3 125.3,225.4 126.8,253.7 128.3,230.0 129.8,235.3 131.2,244.0 132.7,238.2 134.2,238.3 135.7,221.9 137.1,244.2 138.6,247.3 140.1,244.9 141.6,235.7 143.0,241.0 144.5,251.4 146.0,241.3 147.4,251.6 148.9,238.3 150.4,246.5 151.9,249.7 153.3,234.7 154.8,245.2 156.3,241.0 157.8,254.7 159.2,254.2 160.7,261.2 162.2,245.1 163.7,238.1 165.1,233.1 166.6,236.9 168.1,233.1 169.5,245.4 171.0,258.3 172.5,254.1 174.0,230.7 175.4,230.4 176.9,251.6 178.4,239.4 179.9,225.0 181.3,251.1 182.8,251.7 184.3,249.4 185.8,246.9 187.2,241.9 188.7,253.4 190.2,239.0 191.6,240.4 193.1,226.8 194.6,265.0 196.1,231.1 197.5,244.7 199.0,247.9 200.5,252.4 202.0,243.7 203.4,258.7 204.9,260.5 206.4,254.3 207.9,226.8 209.3,232.1 210.8,224.6 212.3,249.3 213.7,243.7 215.2,262.3 216.7,263.9 218.2,249.7 219.6,244.9 221.1,259.4 222.6,253.8 224.1,266.1 225.5,268.6 227.0,269.3 228.5,236.6 230.0,264.7 231.4,251.7 232.9,265.9 234.4,262.4 235.8,262.1 237.3,248.0 238.8,249.0 240.3,261.3 241.7,269.5 243.2,253.9 244.7,261.0 246.2,249.8 247.6,255.2 249.1,277.9 250.6,261.5 252.1,267.8 253.5,265.0 255.0,265.8 256.5,269.6 257.9,248.8 259.4,270.3 260.9,273.7 262.4,241.1 263.8,269.0 265.3,272.9 266.8,278.9 268.3,260.8 269.7,271.5 271.2,255.8 272.7,264.6 274.2,272.3 275.6,260.2 277.1,273.5 278.6,275.0 280.0,267.9 281.5,269.4 283.0,255.9 284.5,259.4 285.9,262.0 287.4,273.0 288.9,271.3 290.4,252.0 291.8,270.9 293.3,276.6 294.8,279.0 296.3,276.0 297.7,269.6 299.2,268.2" stroke="#0040ff"/>
<polyline points="78.2,240.9 79.7,226.1 81.1,245.9 82.6,255.1 84.1,223.8 85.6,252.2 87.0,243.5 88.5,223.4 90.0,220.7 91.5,242.4 92.9,239.8 94.4,229.6 95.9,222.8 97.4,245.8 98.8,219.2 100.3,227.6 101.8,207.7 103.2,225.3 104.7,216.7 106.2,220.3 107.7,238.9 109.1,220.4 110.6,235.2 112.1,263.8 113.6,234.0 115.0,240.0 116.5,234.6 118.0,233.1 119.5,246.3 120.9,237.8 122.4,247.3 123.9,231.9 125.3,240.1 126.8,232.6 128.3,237.9 129.8,243.1 131.2,230.1 132.7,226.2 134.2,237.3 135.7,230.3 137.1,216.1 138.6,233.9 140.1,226.1 141.6,241.0 143.0,222.1 144.5,230.6 146.0,227.1 147.4,242.9 148.9,230.0 150.4,242.8 151.9,240.3 153.3,238.8 154.8,239.5 156.3,233.4 157.8,254.2 159.2,234.2 160.7,235.5 162.2,250.4 163.7,228.8 165.1,247.7 166.6,245.5 168.1,242.7 169.5,248.2 171.0,235.8 172.5,248.9 174.0,250.5 175.4,227.9 176.9,237.9 178.4,243.4 179.9,242.1 181.3,251.5 182.8,246.8 184.3,252.4 185.8,245.0 187.2,257.9 188.7,250.5 190.2,236.0 191.6,246.7 193.1,260.4 194.6,250.6 196.1,250.1 197.5,250.1 199.0,236.4 200.5,246.5 202.0,250.0 203.4,272.6 204.9,237.4 206.4,254.4 207.9,240.7 209.3,242.2 210.8,237.7 212.3,248.5 213.7,252.6 215.2,251.2 216.7,236.6 218.2,254.8 219.6,263.0 221.1,246.2 222.6,262.4 224.1,264.0 225.5,260.4 227.0,253.1 228.5,257.9 230.0,263.5 231.4,236.9 232.9,251.9 234.4,265.3 235.8,267.9 237.3,261.1 238.8,262.9 240.3,268.5 241.7,267.3 243.2,262.4 244.7,245.4 246.2,260.3 247.6,248.6 249.1,246.9 250.6,254.7 252.1,252.6 253.5,252.2 255.0,242.4 256.5,263.5 257.9,282.1 259.4,275.0 260.9,252.9 262.4,282.6 263.8,258.9 265.3,270.2 266.8,273.1 268.3,261.0 269.7,251.9 271.2,258.9 272.7,263.2 274.2,275.1 275.6,269.1 277.1,256.2 278.6,270.8 280.0,261.4 281.5,273.6 283.0,271.4 284.5,257.3 285.9,267.8 287.4,279.2 288.9,273.5 290.4,279.2 291.8,264.7 293.3,273.6 294.8,278.0 296.3,262.4 297.7,273.1 299.2,279.2" stroke="#00ffff"/>
<polyline points="78.2,247.5 79.7,235.2 81.1,227.7 82.6,231.4 84.1,237.0 85.6,248.4 87.0,220.4 88.5,236.7 90.0,244.6 91.5,242.9 92.9,240.5 94.4,240.1 95.9,252.1 97.4,253.3 98.8,227.1 100.3,235.7 101.8,234.4 103.2,251.7 104.7,251.1 106.2,240.2 107.7,230.3 109.1,238.8 110.6,236.1 112.1,250.1 113.6,238.9 115.0,231.3 116.5,246.1 118.0,232.4 119.5,228.5 120.9,230.9 122.4,247.7 123.9,241.5 125.3,237.6 126.8,266.0 128.3,245.1 129.8,235.1 131.2,226.2 132.7,251.0 134.2,242.5 135.7,236.7 137.1,222.5 138.6,248.0 140.1,214.6 141.6,243.2 143.0,242.1 144.5,244.4 146.0,250.4 147.4,237.0 148.9,241.7 150.4,253.3 151.9,226.9 153.3,251.1 154.8,243.9 156.3,239.1 157.8,232.1 159.2,240.4 160.7,215.8 162.2,252.8 163.7,243.2 165.1,253.0 166.6,235.9 168.1,257.3 169.5,232.9 171.0,239.8 172.5,241.8 174.0,246.7 175.4,239.6 176.9,229.0 178.4,248.9 179.9,251.7 181.3,254.1 182.8,222.7 184.3,228.7 185.8,242.1 187.2,248.0 188.7,255.7 190.2,243.5 191.6,253.7 193.1,226.1 194.6,264.8 196.1,251.9 197.5,260.7 199.0,239.4 200.5,240.7 202.0,271.0 203.4,253.4 204.9,238.7 206.4,241.9 207.9,252.5 209.3,252.3 210.8,251.6 212.3,252.7 213.7,263.9 215.2,250.4 216.7,237.6 218.2,262.4 219.6,257.0 221.1,258.3 222.6,255.8 224.1,257.2 225.5,255.3 227.0,269.9 228.5,259.4 230.0,238.4 231.4,251.0 232.9,257.4 234.4,268.2 235.8,264.2 237.3,256.4 238.8,277.8 240.3,254.7 241.7,266.6 243.2,270.2 244.7,242.0 246.2,261.9 247.6,270.6 249.1,271.2 250.6,264.3 252.1,272.7 253.5,261.3 255.0,244.2 256.5,264.1 257.9,267.1 259.4,274.1 260.9,270.2 262.4,266.8 263.8,265.2 265.3,240.4 266.8,266.3 268.3,269.2 269.7,264.9 271.2,255.5 272.7,262.4 274.2,277.1 275.6,254.2 277.1,260.2 278.6,273.0 280.0,270.6 281.5,272.1 283.0,264.0 284.5,262.4 285.9,267.6 287.4,265.1 288.9,273.7 290.4,270.3 291.8,262.3 293.3,272.9 294.8,279.9 296.3,271.7 297.7,274.3 299.2,270.4" stroke="#4000ff"/>
<polyline points="78.2,241.7 79.7,232.2 81.1,238.2 82.6,223.8 84.1,225.8 85.6,253.5 87.0,235.2 88.5,236.3 90.0,229.7 91.5,239.6 92.9,230.4 94.4,251.6 95.9,216.2 97.4,223.9 98.8,242.8 100.3,224.5 101.8,240.0 103.2,224.2 104.7,252.9 106.2,234.5 107.7,252.3 109.1,228.6 110.6,231.0 112.1,223.4 113.6,237.5 115.0,240.3 116.5,257.3 118.0,241.6 119.5,238.2 120.9,254.1 122.4,235.3 123.9,225.8 125.3,232.9 126.8,232.7 128.3,242.4 129.8,238.5 131.2,233.9 132.7,216.3 134.2,220.6 135.7,248.7 137.1,251.4 138.6,238.0 140.1,248.9 141.6,244.5 143.0,224.2 144.5,240.4 146.0,225.9 147.4,244.1 148.9,223.9 150.4,230.0 151.9,236.4 153.3,242.6 154.8,254.9 156.3,238.9 157.8,229.8 159.2,242.0 160.7,240.2 162.2,240.3 163.7,238.5 165.1,240.5 166.6,244.8 168.1,244.0 169.5,242.1 171.0,245.6 172.5,259.9 174.0,223.0 175.4,255.5 176.9,247.1 178.4,236.1 179.9,258.9 181.3,251.3 182.8,240.3 184.3,242.6 185.8,250.0 187.2,259.7 188.7,253.1 190.2,258.3 191.6,245.5 193.1,233.8 194.6,228.3 196.1,232.3 197.5,244.8 199.0,249.9 200.5,243.8 202.0,247.2 203.4,237.1 204.9,249.2 206.4,242.8 207.9,256.1 209.3,243.4 210.8,259.2 212.3,239.6 213.7,233.4 215.2,242.6 216.7,254.0 218.2,236.1 219.6,258.2 221.1,239.1 222.6,247.8 224.1,242.4 225.5,255.0 227.0,264.1 228.5,249.3 230.0,262.9 231.4,259.3 232.9,257.0 234.4,254.0 235.8,265.8 237.3,269.0 238.8,263.3 240.3,262.2 241.7,256.4 243.2,261.2 244.7,269.3 246.2,276.4 247.6,241.2 249.1,259.0 250.6,256.5 252.1,258.6 253.5,255.7 255.0,269.5 256.5,262.5 257.9,253.6 259.4,269.7 260.9,274.1 262.4,251.3 263.8,250.0 265.3,256.8 266.8,267.8 268.3,253.0 269.7,277.5 271.2,257.1 272.7,260.7 274.2,266.9 275.6,278.1 277.1,271.4 278.6,256.4 280.0,266.8 281.5,272.0 283.0,272.1 284.5,267.8 285.9,260.4 287.4,258.4 288.9,256.8 290.4,260.7 291.8,261.0 293.3,255.3 294.8,265.7 296.3,260.0 297.7,260.1 299.2,268.8" stroke="#0000ff"/>
<polyline points="78.2,252.6 79.7,246.7 81.1,241.9 82.6,223.7 84.1,235.4 85.6,240.9 87.0,261.7 88.5,235.0 90.0,251.4 91.5,233.0 92.9,243.5 94.4,241.6 95.9,243.9 97.4,262.0 98.8,230.1 100.3,254.4 101.8,256.4 103.2,230.5 104.7,234.6 106.2,246.4 107.7,240.6 109.1,234.0 110.6,238.9 112.1,245.8 113.6,225.8 115.0,242.2 116.5,256.2 118.0,223.3 119.5,239.0 120.9,220.7 122.4,233.2 123.9,247.1 125.3,247.1 126.8,258.8 128.3,243.3 129.8,237.2 131.2,236.2 132.7,226.5 134.2,249.6 135.7,252.7 137.1,242.5 138.6,234.1 140.1,238.9 141.6,237.8 143.0,242.6 144.5,263.1 146.0,248.4 147.4,236.8 148.9,250.6 150.4,242.0 151.9,222.0 153.3,253.5 154.8,241.5 156.3,242.8 157.8,255.8 159.2,249.4 160.7,223.5 162.2,243.4 163.7,249.9 165.1,241.8 166.6,244.3 168.1,257.4 169.5,255.5 171.0,236.2 172.5,247.0 174.0,244.6 175.4,239.9 176.9,250.4 178.4,243.4 179.9,252.5 181.3,253.5 182.8,238.6 184.3,248.2 185.8,234.1 187.2,245.8 188.7,246.0 190.2,250.4 191.6,229.5 193.1,253.0 194.6,251.1 196.1,240.2 197.5,247.9 199.0,242.1 200.5,246.1 202.0,243.6 203.4,251.4 204.9,250.2 206.4,261.5 207.9,257.6 209.3,254.0 210.8,234.0 212.3,256.9 213.7,255.1 215.2,256.2 216.7,254.2 218.2,253.2 219.6,243.2 221.1,251.2 222.6,243.5 224.1,262.3 225.5,258.6 227.0,238.0 228.5,263.5 230.0,273.8 231.4,255.7 232.9,255.1 234.4,264.0 235.8,238.3 237.3,258.5 238.8,264.5 240.3,247.4 241.7,260.9 243.2,266.1 244.7,253.5 246.2,262.2 247.6,253.3 249.1,276.9 250.6,252.7 252.1,256.3 253.5,250.0 255.0,264.3 256.5,269.1 257.9,262.1 259.4,264.0 260.9,253.4 262.4,258.6 263.8,257.3 265.3,268.9 266.8,271.4 268.3,256.0 269.7,246.8 271.2,269.4 272.7,248.3 274.2,270.5 275.6,268.8 277.1,259.3 278.6,263.7 280.0,268.8 281.5,270.0 283.0,261.3 284.5,272.3 285.9,276.5 287.4,265.0 288.9,277.9 290.4,275.0 291.8,272.4 293.3,271.3 294.8,275.8 296.3,273.0 297.7,261.3 299.2,274.3" stroke="#8000ff"/>
<polyline points="78.2,219.8 79.7,237.7 81.1,245.5 82.6,223.7 84.1,216.4 85.6,250.6 87.0,216.8 88.5,243.2 90.0,250.9 91.5,227.7 92.9,230.4 94.4,236.4 95.9,235.8 97.4,232.5 98.8,245.3 100.3,235.0 101.8,226.7 103.2,223.4 104.7,234.8 106.2,236.2 107.7,253.0 109.1,243.6 110.6,237.5 112.1,247.7 113.6,226.2 115.0,242.8 116.5,255.0 118.0,244.1 119.5,229.1 120.9,222.3 122.4,224.2 123.9,218.6 125.3,237.3 126.8,249.1 128.3,242.7 129.8,248.2 131.2,232.3 132.7,233.0 134.2,235.9 135.7,244.5 137.1,230.2 138.6,225.6 140.1,234.4 141.6,245.1 143.0,255.1 144.5,238.5 146.0,224.2 147.4,244.9 148.9,252.2 150.4,255.1 151.9,238.5 153.3,236.6 154.8,245.7 156.3,253.0 157.8,222.4 159.2,246.6 160.7,240.2 162.2,238.5 163.7,237.1 165.1,245.9 166.6,245.4 168.1,245.3 169.5,229.7 171.0,215.6 172.5,244.9 174.0,221.0 175.4,253.9 176.9,234.2 178.4,266.3 179.9,251.5 181.3,254.5 182.8,255.8 184.3,242.4 185.8,230.0 187.2,247.0 188.7,247.3 190.2,232.5 191.6,239.1 193.1,248.5 194.6,258.4 196.1,236.3 197.5,247.1 199.0,233.0 200.5,251.8 202.0,245.1 203.4,248.0 204.9,251.4 206.4,238.3 207.9,256.0 209.3,231.0 210.8,237.1 212.3,256.6 213.7,250.7 215.2,220.2 216.7,258.6 218.2,231.9 219.6,255.2 221.1,248.5 222.6,257.0 224.1,253.2 225.5,259.4 227.0,245.1 228.5,251.1 230.0,251.4 231.4,260.4 232.9,253.8 234.4,243.0 235.8,256.1 237.3,256.4 238.8,263.9 240.3,266.3 241.7,240.1 243.2,256.3 244.7,261.5 246.2,259.3 247.6,264.9 249.1,266.9 250.6,265.2 252.1,254.5 253.5,251.2 255.0,276.0 256.5,282.4 257.9,283.2 259.4,241.2 260.9,255.5 262.4,254.5 263.8,269.9 265.3,266.3 266.8,259.6 268.3,263.3 269.7,263.8 271.2,251.5 272.7,261.2 274.2,256.4 275.6,260.5 277.1,270.4 278.6,265.8 280.0,259.1 281.5,259.6 283.0,271.7 284.5,272.3 285.9,269.4 287.4,271.8 288.9,271.0 290.4,263.1 291.8,275.0 293.3,267.6 294.8,267.6 296.3,258.4 297.7,270.1 299.2,270.6" stroke="#ff00ff"/>
<polyline points="78.2,218.6 79.7,224.2 81.1,245.9 82.6,245.4 84.1,240.8 85.6,247.5 87.0,236.6 88.5,248.7 90.0,251.0 91.5,236.5 92.9,245.8 94.4,226.6 95.9,232.9 97.4,235.2 98.8,207.3 100.3,260.6 101.8,253.8 103.2,231.7 104.7,232.3 106.2,252.9 107.7,236.3 109.1,253.4 110.6,252.9 112.1,256.9 113.6,213.6 115.0,252.2 116.5,235.2 118.0,225.2 119.5,221.5 120.9,241.8 122.4,232.1 123.9,222.6 125.3,232.4 126.8,244.4 128.3,248.7 129.8,247.2 131.2,245.2 132.7,241.6 134.2,232.6 135.7,254.4 137.1,238.9 138.6,234.4 140.1,231.7 141.6,213.4 143.0,259.1 144.5,237.6 146.0,235.5 147.4,219.6 148.9,232.5 150.4,237.0 151.9,258.5 153.3,230.4 154.8,241.9 156.3,242.3 157.8,246.0 159.2,247.6 160.7,237.0 162.2,243.7 163.7,254.9 165.1,244.2 166.6,249.4 168.1,246.8 169.5,253.7 171.0,231.5 172.5,204.8 174.0,236.9 175.4,260.1 176.9,252.4 178.4,247.9 179.9,252.7 181.3,235.2 182.8,257.8 184.3,230.0 185.8,234.5 187.2,245.4 188.7,218.7 190.2,257.1 191.6,246.9 193.1,264.8 194.6,252.1 196.1,232.5 197.5,243.8 199.0,244.3 200.5,262.2 202.0,234.5 203.4,261.8 204.9,272.6 206.4,252.9 207.9,246.2 209.3,239.5 210.8,244.7 212.3,263.0 213.7,254.5 215.2,262.5 216.7,262.6 218.2,255.6 219.6,254.7 221.1,252.0 222.6,251.2 224.1,266.1 225.5,256.4 227.0,261.8 228.5,246.8 230.0,261.1 231.4,253.8 232.9,258.3 234.4,251.4 235.8,258.3 237.3,258.6 238.8,253.1 240.3,258.9 241.7,263.8 243.2,250.3 244.7,254.3 246.2,251.6 247.6,268.1 249.1,263.2 250.6,255.5 252.1,263.6 253.5,260.1 255.0,273.1 256.5,277.9 257.9,265.8 259.4,265.5 260.9,257.3 262.4,272.9 263.8,266.4 265.3,257.8 266.8,267.9 268.3,261.1 269.7,270.3 271.2,252.3 272.7,240.5 274.2,257.3 275.6,274.1 277.1,275.8 278.6,261.2 280.0,271.7 281.5,279.5 283.0,272.4 284.5,270.2 285.9,275.1 287.4,280.1 288.9,254.4 290.4,260.7 291.8,279.4 293.3,280.4 294.8,272.1 296.3,273.8 297.7,270.6 299.2,263.5" stroke="#ff0080"/>
<polyline points="78.2,251.6 79.7,227.2 81.1,254.2 82.6,240.0 84.1,229.6 85.6,251.4 87.0,246.9 88.5,232.4 90.0,242.7 91.5,231.9 92.9,230.9 94.4,245.6 95.9,238.1 97.4,242.3 98.8,227.9 100.3,222.8 101.8,252.4 103.2,235.1 104.7,236.7 106.2,227.4 107.7,225.0 109.1,250.2 110.6,234.7 112.1,234.4 113.6,235.9 115.0,228.7 116.5,220.0 118.0,236.8 119.5,236.9 120.9,236.7 122.4,239.9 123.9,223.9 125.3,228.7 126.8,241.5 128.3,242.8 129.8,235.7 131.2,265.7 132.7,229.2 134.2,243.2 135.7,226.8 137.1,241.5 138.6,237.1 140.1,255.9 141.6,234.0 143.0,231.4 144.5,247.7 146.0,237.1 147.4,248.4 148.9,239.2 150.4,242.7 151.9,236.7 153.3,235.1 154.8,229.5 156.3,222.4 157.8,250.2 159.2,239.8 160.7,227.4 162.2,231.2 163.7,238.6 165.1,229.2 166.6,248.6 168.1,248.3 169.5,229.7 171.0,235.9 172.5,258.0 174.0,253.3 175.4,245.2 176.9,241.3 178.4,255.4 179.9,245.9 181.3,243.9 182.8,251.5 184.3,233.5 185.8,226.7 187.2,259.3 188.7,255.0 190.2,244.9 191.6,251.4 193.1,232.2 194.6,238.0 196.1,253.3 197.5,234.3 199.0,232.5 200.5,254.1 202.0,250.0 203.4,251.3 204.9,236.9 206.4,257.8 207.9,250.4 209.3,243.5 210.8,249.0 212.3,262.5 213.7,263.5 215.2,243.6 216.7,246.9 218.2,248.7 219.6,226.9 221.1,252.9 222.6,250.4 224.1,257.0 225.5,242.1 227.0,261.0 228.5,257.8 230.0,239.7 231.4,254.3 232.9,262.5 234.4,244.1 235.8,259.1 237.3,271.1 238.8,263.4 240.3,247.6 241.7,255.3 243.2,261.8 244.7,256.5 246.2,264.5 247.6,267.0 249.1,268.5 250.6,248.7 252.1,256.6 253.5,267.3 255.0,261.7 256.5,270.6 257.9,236.8 259.4,264.4 260.9,250.3 262.4,267.3 263.8,253.4 265.3,274.1 266.8,256.4 268.3,267.0 269.7,266.7 271.2,270.0 272.7,257.7 274.2,264.5 275.6,276.8 277.1,256.7 278.6,277.3 280.0,275.5 281.5,251.4 283.0,264.3 284.5,262.1 285.9,244.0 287.4,259.6 288.9,270.3 290.4,277.7 291.8,264.2 293.3,262.4 294.8,263.6 296.3,269.7 297.7,278.4 299.2,268.4" stroke="#bf00ff"/>
<polyline points="78.2,240.4 79.7,225.3 81.1,246.4 82.6,232.9 84.1,257.3 85.6,222.1 87.0,236.3 88.5,239.4 90.0,230.0 91.5,229.4 92.9,233.3 94.4,235.9 95.9,228.7 97.4,235.6 98.8,228.2 100.3,226.5 101.8,247.9 103.2,247.6 104.7,226.5 106.2,247.1 107.7,241.5 109.1,233.2 110.6,230.2 112.1,242.4 113.6,245.0 115.0,217.5 116.5,227.0 118.0,241.2 119.5,246.4 120.9,232.5 122.4,237.6 123.9,220.5 125.3,225.1 126.8,231.9 128.3,217.0 129.8,247.2 131.2,242.3 132.7,234.3 134.2,225.3 135.7,233.4 137.1,213.2 138.6,251.7 140.1,240.8 141.6,241.3 143.0,243.7 144.5,254.4 146.0,233.2 147.4,250.0 148.9,234.0 150.4,220.7 151.9,217.3 153.3,225.6 154.8,234.5 156.3,238.2 157.8,246.7 159.2,238.5 160.7,233.8 162.2,237.5 163.7,220.2 165.1,248.1 166.6,239.6 168.1,243.3 169.5,250.9 171.0,247.6 172.5,247.6 174.0,237.5 175.4,232.2 176.9,252.8 178.4,254.9 179.9,234.1 181.3,237.2 182.8,255.0 184.3,230.9 185.8,237.5 187.2,238.2 188.7,244.0 190.2,246.1 191.6,252.9 193.1,251.5 194.6,257.1 196.1,238.5 197.5,250.7 199.0,245.2 200.5,251.9 202.0,243.6 203.4,248.3 204.9,252.7 206.4,237.6 207.9,245.8 209.3,253.3 210.8,258.5 212.3,250.9 213.7,239.4 215.2,244.3 216.7,244.5 218.2,268.4 219.6,244.2 221.1,265.4 222.6,262.9 224.1,245.0 225.5,246.4 227.0,243.7 228.5,259.8 230.0,261.9 231.4,256.4 232.9,244.1 234.4,261.0 235.8,255.1 237.3,235.8 238.8,256.7 240.3,259.7 241.7,265.5 243.2,250.3 244.7,270.9 246.2,266.7 247.6,269.0 249.1,265.5 250.6,263.3 252.1,280.8 253.5,257.2 255.0,256.0 256.5,256.4 257.9,267.3 259.4,279.3 260.9,238.6 262.4,271.5 263.8,254.0 265.3,265.8 266.8,273.5 268.3,261.7 269.7,254.4 271.2,266.1 272.7,256.3 274.2,262.0 275.6,273.8 277.1,267.7 278.6,262.8 280.0,270.7 281.5,261.6 283.0,272.7 284.5,273.2 285.9,266.0 287.4,253.5 288.9,266.2 290.4,263.6 291.8,269.8 293.3,261.8 294.8,277.2 296.3,271.9 297.7,279.3 299.2,273.5" stroke="#ff00bf"/>
<polyline points="78.2,243.4 79.7,219.9 81.1,245.3 82.6,229.0 84.1,228.7 85.6,228.7 87.0,249.7 88.5,244.8 90.0,232.5 91.5,231.5 92.9,245.7 94.4,235.7 95.9,250.3 97.4,233.6 98.8,218.1 100.3,219.0 101.8,233.2 103.2,242.5 104.7,229.5 106.2,237.5 107.7,252.7 109.1,244.1 110.6,247.4 112.1,229.6 113.6,239.0 115.0,237.5 116.5,230.7 118.0,249.1 119.5,236.8 120.9,232.5 122.4,263.4 123.9,235.4 125.3,240.4 126.8,254.3 128.3,236.7 129.8,229.6 131.2,249.2 132.7,251.0 134.2,240.5 135.7,223.0 137.1,225.4 138.6,233.4 140.1,240.0 141.6,223.2 143.0,244.9 144.5,248.5 146.0,230.7 147.4,237.3 148.9,245.0 150.4,237.2 151.9,242.4 153.3,247.3 154.8,244.5 156.3,230.5 157.8,250.2 159.2,241.2 160.7,244.2 162.2,226.8 163.7,253.4 165.1,240.1 166.6,234.9 168.1,238.6 169.5,234.6 171.0,213.3 172.5,244.6 174.0,238.1 175.4,260.3 176.9,229.1 178.4,256.9 179.9,234.5 181.3,243.8 182.8,229.4 184.3,221.7 185.8,261.2 187.2,231.5 188.7,235.2 190.2,247.3 191.6,252.8 193.1,244.7 194.6,239.8 196.1,255.2 197.5,245.4 199.0,250.3 200.5,248.8 202.0,247.1 203.4,248.7 204.9,255.8 206.4,252.2 207.9,266.5 209.3,238.9 210.8,252.5 212.3,257.1 213.7,258.8 215.2,278.0 216.7,252.4 218.2,256.6 219.6,259.5 221.1,259.2 222.6,238.9 224.1,263.4 225.5,253.7 227.0,269.5 228.5,260.1 230.0,245.6 231.4,261.7 232.9,266.5 234.4,261.1 235.8,256.5 237.3,263.2 238.8,270.1 240.3,278.8 241.7,263.0 243.2,265.5 244.7,262.3 246.2,256.4 247.6,261.8 249.1,245.4 250.6,259.9 252.1,252.0 253.5,268.8 255.0,272.7 256.5,265.7 257.9,273.3 259.4,270.4 260.9,263.7 262.4,265.6 263.8,269.4 265.3,244.9 266.8,276.5 268.3,261.0 269.7,252.6 271.2,269.6 272.7,256.1 274.2,252.7 275.6,241.0 277.1,256.4 278.6,280.1 280.0,276.3 281.5,261.5 283.0,262.7 284.5,272.7 285.9,265.5 287.4,263.8 288.9,271.5 290.4,263.4 291.8,260.5 293.3,247.9 294.8,268.6 296.3,271.1 297.7,267.3 299.2,273.5" stroke="#ff0040"/>
</g>
<polyline points="78.2,237.3 79.7,237.8 81.1,237.1 82.6,235.0 84.1,234.8 85.6,234.4 87.0,236.1 88.5,237.7 90.0,238.0 91.5,240.4 92.9,240.3 94.4,237.9 95.9,237.8 97.4,237.9 98.8,236.6 100.3,235.2 101.8,236.9 103.2,237.7 104.7,236.3 106.2,236.0 107.7,236.0 109.1,237.7 110.6,238.5 112.1,237.4 113.6,234.9 115.0,235.6 116.5,238.4 118.0,237.9 119.5,237.1 120.9,237.0 122.4,238.2 123.9,238.4 125.3,236.3 126.8,238.7 128.3,238.7 129.8,238.1 131.2,240.4 132.7,238.8 134.2,237.3 135.7,237.3 137.1,238.5 138.6,238.9 140.1,237.9 141.6,239.5 143.0,241.9 144.5,240.2 146.0,239.3 147.4,239.0 148.9,239.1 150.4,239.7 151.9,239.8 153.3,240.6 154.8,239.0 156.3,239.0 157.8,241.2 159.2,241.9 160.7,239.9 162.2,241.0 163.7,242.8 165.1,241.6 166.6,241.9 168.1,240.1 169.5,241.2 171.0,244.4 172.5,244.2 174.0,245.4 175.4,248.2 176.9,249.7 178.4,249.5 179.9,246.4 181.3,246.1 182.8,247.5 184.3,248.7 185.8,248.5 187.2,246.5 188.7,248.6 190.2,248.6 191.6,248.7 193.1,248.1 194.6,245.7 196.1,247.8 197.5,247.6 199.0,247.7 200.5,249.3 202.0,249.0 203.4,249.8 204.9,251.8 206.4,252.4 207.9,251.1 209.3,252.6 210.8,253.0 212.3,251.3 213.7,252.6 215.2,255.3 216.7,253.8 218.2,253.1 219.6,255.1 221.1,255.3 222.6,254.8 224.1,255.2 225.5,255.7 227.0,254.0 228.5,255.7 230.0,257.1 231.4,256.3 232.9,259.8 234.4,261.8 235.8,259.5 237.3,259.5 238.8,261.5 240.3,260.2 241.7,259.2 243.2,260.4 244.7,262.8 246.2,263.2 247.6,262.6 249.1,263.6 250.6,263.7 252.1,263.1 253.5,263.2 255.0,264.2 256.5,263.9 257.9,261.7 259.4,261.5 260.9,264.7 262.4,265.5 263.8,263.6 265.3,263.8 266.8,263.7 268.3,264.6 269.7,264.1 271.2,262.2 272.7,263.9 274.2,266.7 275.6,266.1 277.1,265.3 278.6,267.5 280.0,266.4 281.5,265.2 283.0,269.2 284.5,270.8 285.9,266.8 287.4,266.3 288.9,269.5 290.4,268.1 291.8,267.6 293.3,268.3 294.8,269.2 296.3,270.6 297.7,270.7 299.2,271.9" class="mn"/>
<polyline points="78.2,277.1 79.7,278.9 81.1,283.8 82.6,281.4 84.1,276.3 85.6,276.3 87.0,278.3 88.5,275.9 90.0,278.8 91.5,277.8 92.9,275.6 94.4,284.3 95.9,278.1 97.4,274.6 98.8,287.7 100.3,280.0 101.8,272.7 103.2,282.1 104.7,285.8 106.2,277.4 107.7,277.2 109.1,278.3 110.6,277.8 112.1,273.2 113.6,284.3 115.0,288.6 116.5,282.7 118.0,290.3 119.5,278.3 120.9,278.2 122.4,281.1 123.9,284.2 125.3,283.8 126.8,279.8 128.3,277.8 129.8,279.1 131.2,287.2 132.7,285.6 134.2,287.7 135.7,283.2 137.1,273.1 138.6,280.9 140.1,280.9 141.6,275.2 143.0,277.5 144.5,283.4 146.0,283.4 147.4,280.6 148.9,279.7 150.4,285.1 151.9,286.6 153.3,281.8 154.8,287.5 156.3,275.5 157.8,277.1 159.2,278.9 160.7,286.6 162.2,283.1 163.7,277.3 165.1,275.1 166.6,283.2 168.1,280.1 169.5,288.6 171.0,289.3 172.5,281.1 174.0,288.3 175.4,287.8 176.9,287.2 178.4,282.8 179.9,287.7 181.3,287.7 182.8,281.6 184.3,283.0 185.8,287.2 187.2,285.8 188.7,285.5 190.2,279.1 191.6,286.9 193.1,287.7 194.6,292.0 196.1,290.6 197.5,286.6 199.0,284.3 200.5,293.7 202.0,286.6 203.4,287.3 204.9,292.6 206.4,284.6 207.9,288.8 209.3,285.2 210.8,291.5 212.3,286.4 213.7,288.2 215.2,293.0 216.7,287.0 218.2,291.6 219.6,281.8 221.1,291.3 222.6,289.0 224.1,292.9 225.5,291.8 227.0,292.7 228.5,287.2 230.0,288.3 231.4,292.9 232.9,289.2 234.4,293.4 235.8,300.3 237.3,293.0 238.8,293.7 240.3,299.8 241.7,295.6 243.2,305.7 244.7,289.7 246.2,296.2 247.6,292.0 249.1,301.0 250.6,299.7 252.1,300.5 253.5,300.5 255.0,291.7 256.5,291.0 257.9,302.2 259.4,300.1 260.9,295.4 262.4,299.2 263.8,298.7 265.3,292.7 266.8,295.6 268.3,298.9 269.7,303.0 271.2,299.8 272.7,297.3 274.2,307.6 275.6,301.3 277.1,306.4 278.6,304.3 280.0,311.4 281.5,291.1 283.0,295.4 284.5,298.7 285.9,310.7 287.4,317.7 288.9,305.4 290.4,303.8 291.8,292.5 293.3,296.0 294.8,294.8 296.3,301.9 297.7,296.6 299.2,318.6" class="dt"/>
<g class="ax bt">
<path class="bx" d="M69.4 185.7 V328.3 H308.0"/>
<path d="M63.0 323.0 H69.4"/>
<path d="M63.0 279.0 H69.4"/>
<path d="M63.0 235.0 H69.4"/>
<path d="M63.0 191.0 H69.4"/>
<path d="M78.2 328.3 V334.7"/>
<path d="M151.9 328.3 V334.7"/>
<path d="M225.5 328.3 V334.7"/>
<path d="M299.2 328.3 V334.7"/>
</g>
<text class="tk" transform="translate(54.2 323.4) rotate(-90)" text-anchor="middle">0</text>
<text class="tk" transform="translate(54.2 279.4) rotate(-90)" text-anchor="middle">50</text>
<text class="tk" transform="translate(54.2 235.4) rotate(-90)" text-anchor="middle">100</text>
<text class="tk" transform="translate(54.2 191.4) rotate(-90)" text-anchor="middle">150</text>
<text class="lab" x="73.7" y="196.1">(c)</text>
<g class="ens">
<polyline points="368.8,208.8 370.3,214.7 371.8,218.6 373.2,217.7 374.7,205.4 376.2,219.4 377.7,210.9 379.1,208.3 380.6,217.7 382.1,221.5 383.6,208.1 385.0,213.4 386.5,220.8 388.0,223.4 389.5,208.8 390.9,203.9 392.4,204.5 393.9,228.5 395.4,211.0 396.8,221.7 398.3,211.7 399.8,195.2 401.3,205.9 402.7,203.2 404.2,204.5 405.7,205.0 407.2,213.1 408.7,223.9 410.1,222.1 411.6,234.6 413.1,212.2 414.6,218.1 416.0,203.5 417.5,249.6 419.0,211.0 420.5,209.6 421.9,223.5 423.4,209.3 424.9,223.4 426.4,213.5 427.8,227.5 429.3,204.9 430.8,208.4 432.3,202.1 433.7,226.9 435.2,213.0 436.7,216.6 438.2,220.9 439.6,215.8 441.1,219.5 442.6,229.8 444.1,219.5 445.6,215.7 447.0,222.7 448.5,218.6 450.0,207.9 451.5,215.2 452.9,215.4 454.4,228.1 455.9,207.6 457.4,223.7 458.8,234.4 460.3,236.1 461.8,223.7 463.3,218.5 464.7,215.8 466.2,231.1 467.7,225.8 469.2,214.4 470.6,230.1 472.1,198.7 473.6,226.1 475.1,225.8 476.5,206.7 478.0,229.8 479.5,216.5 481.0,208.8 482.5,230.4 483.9,218.6 485.4,223.1 486.9,238.2 488.4,241.2 489.8,222.7 491.3,203.5 492.8,218.5 494.3,245.1 495.7,228.5 497.2,235.0 498.7,222.1 500.2,225.8 501.6,220.4 503.1,237.5 504.6,218.8 506.1,231.6 507.5,231.3 509.0,227.8 510.5,237.4 512.0,229.0 513.4,245.5 514.9,221.0 516.4,235.1 517.9,226.5 519.4,226.9 520.8,240.0 522.3,216.3 523.8,228.9 525.3,257.6 526.7,238.1 528.2,235.5 529.7,242.4 531.2,230.1 532.6,239.3 534.1,233.9 535.6,237.5 537.1,235.3 538.5,228.7 540.0,228.0 541.5,223.9 543.0,239.5 544.4,244.1 545.9,234.1 547.4,223.8 548.9,223.5 550.3,235.3 551.8,273.6 553.3,256.8 554.8,249.1 556.3,247.9 557.7,253.5 559.2,250.1 560.7,245.7 562.2,234.0 563.6,251.9 565.1,241.6 566.6,253.6 568.1,257.6 569.5,247.8 571.0,246.8 572.5,256.6 574.0,239.4 575.4,250.5 576.9,251.3 578.4,252.5 579.9,269.8 581.3,255.8 582.8,244.3 584.3,239.4 585.8,259.4 587.2,224.9 588.7,244.9 590.2,234.2" stroke="#ff0000"/>
<polyline points="368.8,207.9 370.3,212.3 371.8,222.3 373.2,208.6 374.7,235.8 376.2,211.0 377.7,223.4 379.1,216.7 380.6,214.5 382.1,204.9 383.6,208.0 385.0,231.8 386.5,224.8 388.0,193.7 389.5,204.7 390.9,200.5 392.4,211.9 393.9,211.2 395.4,208.0 396.8,207.1 398.3,215.5 399.8,223.4 401.3,201.6 402.7,202.0 404.2,209.4 405.7,219.8 407.2,222.9 408.7,220.8 410.1,193.1 411.6,215.9 413.1,218.1 414.6,216.3 416.0,215.5 417.5,232.6 419.0,209.4 420.5,201.3 421.9,219.7 423.4,209.9 424.9,219.8 426.4,223.9 427.8,216.0 429.3,210.2 430.8,231.0 432.3,208.3 433.7,215.0 435.2,220.2 436.7,218.0 438.2,211.2 439.6,212.5 441.1,212.4 442.6,239.3 444.1,217.5 445.6,237.0 447.0,213.2 448.5,212.6 450.0,221.8 451.5,223.5 452.9,239.7 454.4,228.8 455.9,229.1 457.4,216.7 458.8,222.7 460.3,216.4 461.8,221.8 463.3,223.0 464.7,208.4 466.2,221.4 467.7,227.4 469.2,227.4 470.6,219.4 472.1,229.2 473.6,216.7 475.1,229.7 476.5,221.2 478.0,218.6 479.5,222.8 481.0,222.6 482.5,219.3 483.9,235.8 485.4,233.8 486.9,218.2 488.4,231.3 489.8,220.9 491.3,238.3 492.8,238.3 494.3,232.2 495.7,224.5 497.2,228.4 498.7,237.6 500.2,211.0 501.6,239.5 503.1,243.0 504.6,222.6 506.1,227.1 507.5,225.6 509.0,211.7 510.5,233.8 512.0,226.1 513.4,240.1 514.9,213.6 516.4,233.2 517.9,226.7 519.4,238.9 520.8,232.9 522.3,235.0 523.8,237.4 525.3,232.7 526.7,231.7 528.2,229.8 529.7,233.7 531.2,232.2 532.6,233.8 534.1,248.2 535.6,231.8 537.1,239.5 538.5,237.1 540.0,219.6 541.5,257.3 543.0,257.0 544.4,226.0 545.9,241.2 547.4,239.8 548.9,248.3 550.3,217.5 551.8,244.6 553.3,229.0 554.8,211.4 556.3,256.2 557.7,229.7 559.2,244.1 560.7,226.0 562.2,250.0 563.6,254.6 565.1,240.4 566.6,239.6 568.1,242.1 569.5,241.4 571.0,225.4 572.5,224.2 574.0,250.1 575.4,244.9 576.9,232.9 578.4,252.2 579.9,256.4 581.3,256.7 582.8,228.8 584.3,244.9 585.8,261.3 587.2,256.6 588.7,256.7 590.2,245.7" stroke="#ff4000"/>
<polyline points="368.8,226.7 370.3,224.5 371.8,217.8 373.2,210.9 374.7,208.3 376.2,211.1 377.7,218.1 379.1,202.3 380.6,226.0 382.1,213.8 383.6,202.3 385.0,213.2 386.5,205.3 388.0,204.0 389.5,206.9 390.9,215.9 392.4,205.1 393.9,220.3 395.4,197.6 396.8,212.5 398.3,208.7 399.8,212.8 401.3,205.4 402.7,214.3 404.2,211.0 405.7,216.8 407.2,221.6 408.7,227.0 410.1,222.0 411.6,213.6 413.1,225.3 414.6,232.4 416.0,215.6 417.5,225.8 419.0,206.8 420.5,209.7 421.9,227.8 423.4,228.3 424.9,212.0 426.4,210.9 427.8,216.6 429.3,227.0 430.8,210.6 432.3,217.2 433.7,220.6 435.2,231.3 436.7,223.4 438.2,224.4 439.6,208.4 441.1,213.9 442.6,209.7 444.1,227.5 445.6,222.3 447.0,225.5 448.5,217.8 450.0,233.6 451.5,212.5 452.9,208.5 454.4,231.7 455.9,232.6 457.4,231.9 458.8,226.7 460.3,224.2 461.8,224.8 463.3,210.1 464.7,233.7 466.2,238.0 467.7,219.1 469.2,235.1 470.6,215.9 472.1,238.1 473.6,222.5 475.1,221.9 476.5,224.4 478.0,243.0 479.5,219.2 481.0,214.7 482.5,217.0 483.9,223.9 485.4,209.8 486.9,240.0 488.4,224.2 489.8,219.6 491.3,235.8 492.8,224.9 494.3,218.6 495.7,230.6 497.2,244.4 498.7,239.1 500.2,240.1 501.6,207.3 503.1,231.5 504.6,238.2 506.1,247.6 507.5,214.6 509.0,227.9 510.5,227.1 512.0,223.2 513.4,213.9 514.9,237.0 516.4,229.4 517.9,236.8 519.4,239.0 520.8,222.8 522.3,246.8 523.8,240.0 525.3,227.2 526.7,247.8 528.2,238.0 529.7,248.9 531.2,218.8 532.6,221.5 534.1,217.4 535.6,229.9 537.1,241.3 538.5,243.6 540.0,229.5 541.5,226.3 543.0,236.8 544.4,232.2 545.9,240.8 547.4,228.1 548.9,227.5 550.3,233.7 551.8,243.4 553.3,243.1 554.8,249.5 556.3,254.7 557.7,241.3 559.2,249.3 560.7,240.3 562.2,239.9 563.6,241.9 565.1,240.2 566.6,248.9 568.1,254.5 569.5,259.2 571.0,252.1 572.5,234.4 574.0,242.7 575.4,242.3 576.9,234.8 578.4,252.8 579.9,238.9 581.3,230.4 582.8,234.0 584.3,242.1 585.8,252.6 587.2,235.9 588.7,246.2 590.2,245.2" stroke="#ffff00"/>
<polyline points="368.8,216.3 370.3,218.1 371.8,216.8 373.2,207.6 374.7,235.7 376.2,211.1 377.7,205.9 379.1,231.9 380.6,192.7 382.1,234.3 383.6,215.8 385.0,212.2 386.5,206.4 388.0,214.3 389.5,210.8 390.9,218.6 392.4,226.7 393.9,217.2 395.4,239.2 396.8,206.1 398.3,212.8 399.8,222.7 401.3,207.9 402.7,215.8 404.2,206.3 405.7,216.4 407.2,214.6 408.7,208.5 410.1,221.5 411.6,225.1 413.1,206.0 414.6,202.5 416.0,212.2 417.5,222.8 419.0,215.4 420.5,213.0 421.9,219.9 423.4,208.3 424.9,206.0 426.4,198.0 427.8,205.7 429.3,208.7 430.8,214.4 432.3,220.1 433.7,222.1 435.2,223.8 436.7,227.3 438.2,213.2 439.6,222.2 441.1,219.3 442.6,218.3 444.1,226.8 445.6,223.2 447.0,218.8 448.5,222.1 450.0,221.9 451.5,215.2 452.9,204.7 454.4,207.2 455.9,194.5 457.4,225.0 458.8,213.4 460.3,211.8 461.8,237.3 463.3,233.3 464.7,224.7 466.2,229.1 467.7,228.5 469.2,225.1 470.6,231.4 472.1,236.4 473.6,223.7 475.1,223.4 476.5,231.5 478.0,223.4 479.5,213.3 481.0,237.3 482.5,224.7 483.9,232.6 485.4,218.9 486.9,216.8 488.4,223.0 489.8,225.1 491.3,229.3 492.8,208.9 494.3,252.1 495.7,227.0 497.2,245.1 498.7,222.6 500.2,228.6 501.6,228.6 503.1,230.2 504.6,219.5 506.1,214.0 507.5,231.5 509.0,243.7 510.5,243.6 512.0,228.6 513.4,238.9 514.9,225.1 516.4,201.6 517.9,220.6 519.4,218.9 520.8,226.2 522.3,238.3 523.8,230.9 525.3,234.1 526.7,235.6 528.2,232.2 529.7,236.4 531.2,223.5 532.6,233.0 534.1,226.4 535.6,247.7 537.1,253.1 538.5,244.6 540.0,226.6 541.5,245.4 543.0,243.7 544.4,238.2 545.9,233.1 547.4,246.5 548.9,229.8 550.3,227.6 551.8,233.6 553.3,228.2 554.8,243.0 556.3,235.1 557.7,247.9 559.2,226.1 560.7,256.7 562.2,224.3 563.6,255.4 565.1,251.5 566.6,251.3 568.1,240.5 569.5,239.5 571.0,252.2 572.5,245.0 574.0,246.0 575.4,244.4 576.9,252.3 578.4,223.2 579.9,243.7 581.3,245.7 582.8,254.3 584.3,245.1 585.8,250.7 587.2,259.9 588.7,241.8 590.2,258.4" stroke="#ff8000"/>
<polyline points="368.8,215.9 370.3,214.8 371.8,212.7 373.2,207.2 374.7,225.0 376.2,193.7 377.7,213.6 379.1,205.3 380.6,227.9 382.1,218.0 383.6,211.6 385.0,222.7 386.5,219.6 388.0,211.6 389.5,212.3 390.9,217.2 392.4,210.2 393.9,211.9 395.4,213.1 396.8,220.7 398.3,217.0 399.8,208.0 401.3,220.9 402.7,195.0 404.2,211.9 405.7,206.5 407.2,232.9 408.7,217.3 410.1,211.4 411.6,219.4 413.1,223.5 414.6,234.8 416.0,217.4 417.5,203.1 419.0,210.2 420.5,208.3 421.9,218.3 423.4,210.0 424.9,228.3 426.4,216.9 427.8,226.9 429.3,215.3 430.8,217.9 432.3,210.7 433.7,216.3 435.2,240.1 436.7,225.8 438.2,218.1 439.6,212.9 441.1,221.9 442.6,207.6 444.1,224.9 445.6,214.3 447.0,210.9 448.5,231.1 450.0,217.5 451.5,222.9 452.9,229.7 454.4,237.1 455.9,229.6 457.4,219.2 458.8,213.0 460.3,218.4 461.8,207.1 463.3,231.6 464.7,241.7 466.2,221.1 467.7,229.1 469.2,199.3 470.6,217.6 472.1,224.8 473.6,217.7 475.1,216.1 476.5,224.5 478.0,219.1 479.5,217.3 481.0,227.5 482.5,214.6 483.9,220.6 485.4,214.5 486.9,221.4 488.4,237.5 489.8,223.5 491.3,227.1 492.8,224.9 494.3,226.1 495.7,228.9 497.2,226.9 498.7,226.8 500.2,225.1 501.6,219.3 503.1,217.4 504.6,220.4 506.1,229.9 507.5,228.1 509.0,225.7 510.5,241.4 512.0,228.8 513.4,232.8 514.9,251.6 516.4,239.2 517.9,240.3 519.4,230.3 520.8,233.2 522.3,230.2 523.8,238.7 525.3,241.3 526.7,239.7 528.2,245.0 529.7,224.8 531.2,252.3 532.6,213.9 534.1,244.4 535.6,250.4 537.1,225.4 538.5,230.6 540.0,226.6 541.5,223.5 543.0,246.1 544.4,247.8 545.9,222.0 547.4,244.6 548.9,242.9 550.3,242.2 551.8,243.3 553.3,243.2 554.8,221.0 556.3,230.6 557.7,226.6 559.2,227.8 560.7,242.3 562.2,247.9 563.6,238.2 565.1,248.3 566.6,240.0 568.1,256.3 569.5,226.5 571.0,248.8 572.5,254.4 574.0,243.3 575.4,250.4 576.9,248.4 578.4,256.5 579.9,250.6 581.3,255.1 582.8,226.5 584.3,248.4 585.8,258.6 587.2,252.8 588.7,242.6 590.2,249.8" stroke="#ffbf00"/>
<polyline points="368.8,240.5 370.3,207.3 371.8,233.8 373.2,216.2 374.7,209.6 376.2,220.7 377.7,217.1 379.1,220.2 380.6,214.5 382.1,208.8 383.6,217.6 385.0,217.6 386.5,225.5 388.0,219.6 389.5,226.0 390.9,208.6 392.4,205.5 393.9,219.8 395.4,223.8 396.8,198.6 398.3,204.1 399.8,222.2 401.3,205.6 402.7,224.5 404.2,227.7 405.7,212.4 407.2,220.8 408.7,194.7 410.1,222.3 411.6,207.7 413.1,205.2 414.6,210.3 416.0,205.0 417.5,214.9 419.0,208.9 420.5,217.6 421.9,213.5 423.4,205.1 424.9,228.5 426.4,203.8 427.8,219.4 429.3,232.2 430.8,209.0 432.3,213.1 433.7,203.9 435.2,206.1 436.7,213.8 438.2,218.4 439.6,208.3 441.1,215.7 442.6,233.4 444.1,216.1 445.6,235.7 447.0,213.4 448.5,216.5 450.0,230.4 451.5,215.7 452.9,218.7 454.4,214.3 455.9,223.7 457.4,203.5 458.8,215.1 460.3,237.1 461.8,225.8 463.3,217.2 464.7,231.7 466.2,213.8 467.7,218.7 469.2,226.1 470.6,220.4 472.1,219.4 473.6,221.2 475.1,227.5 476.5,221.0 478.0,219.3 479.5,222.4 481.0,216.1 482.5,233.6 483.9,227.4 485.4,234.1 486.9,227.6 488.4,223.0 489.8,217.5 491.3,238.2 492.8,241.4 494.3,217.6 495.7,226.3 497.2,229.3 498.7,222.8 500.2,233.7 501.6,234.1 503.1,235.3 504.6,211.8 506.1,224.9 507.5,231.4 509.0,224.3 510.5,228.2 512.0,236.8 513.4,234.0 514.9,239.9 516.4,241.5 517.9,220.9 519.4,248.8 520.8,226.0 522.3,239.8 523.8,239.6 525.3,229.3 526.7,219.7 528.2,224.5 529.7,230.1 531.2,248.5 532.6,261.7 534.1,234.3 535.6,238.6 537.1,249.9 538.5,224.5 540.0,245.6 541.5,235.4 543.0,251.9 544.4,231.1 545.9,233.4 547.4,258.1 548.9,232.3 550.3,233.2 551.8,227.7 553.3,224.6 554.8,252.5 556.3,234.1 557.7,247.4 559.2,239.8 560.7,240.2 562.2,244.1 563.6,265.6 565.1,242.0 566.6,244.6 568.1,249.9 569.5,243.9 571.0,263.4 572.5,242.3 574.0,269.3 575.4,262.5 576.9,251.1 578.4,248.5 579.9,254.7 581.3,241.4 582.8,250.0 584.3,237.2 585.8,247.6 587.2,265.2 588.7,238.9 590.2,236.7" stroke="#bfff00"/>
<polyline points="368.8,223.2 370.3,210.6 371.8,198.8 373.2,216.7 374.7,237.6 376.2,211.4 377.7,226.8 379.1,214.6 380.6,207.0 382.1,224.1 383.6,230.2 385.0,227.2 386.5,207.5 388.0,219.8 389.5,228.3 390.9,213.3 392.4,225.4 393.9,207.5 395.4,220.7 396.8,214.7 398.3,193.3 399.8,213.8 401.3,217.6 402.7,216.0 404.2,221.1 405.7,211.4 407.2,206.9 408.7,219.1 410.1,214.2 411.6,220.9 413.1,203.1 414.6,192.4 416.0,207.6 417.5,215.8 419.0,216.8 420.5,210.1 421.9,220.2 423.4,195.0 424.9,206.1 426.4,237.3 427.8,208.8 429.3,228.7 430.8,205.5 432.3,217.2 433.7,211.8 435.2,212.2 436.7,218.7 438.2,214.1 439.6,217.8 441.1,222.8 442.6,231.6 444.1,220.9 445.6,210.0 447.0,200.5 448.5,211.5 450.0,213.5 451.5,217.2 452.9,229.8 454.4,223.5 455.9,227.6 457.4,227.6 458.8,222.7 460.3,227.9 461.8,220.1 463.3,229.2 464.7,216.2 466.2,217.3 467.7,224.3 469.2,225.7 470.6,226.0 472.1,224.6 473.6,222.4 475.1,232.9 476.5,222.2 478.0,233.8 479.5,221.6 481.0,214.6 482.5,244.9 483.9,228.2 485.4,216.8 486.9,227.2 488.4,239.0 489.8,248.3 491.3,229.0 492.8,225.3 494.3,230.8 495.7,239.2 497.2,222.9 498.7,246.5 500.2,227.4 501.6,227.6 503.1,237.1 504.6,236.8 506.1,248.8 507.5,240.7 509.0,234.8 510.5,233.2 512.0,230.1 513.4,240.6 514.9,235.8 516.4,241.9 517.9,236.2 519.4,221.1 520.8,232.1 522.3,232.9 523.8,223.3 525.3,232.4 526.7,226.4 528.2,224.7 529.7,253.1 531.2,219.1 532.6,251.9 534.1,226.1 535.6,234.2 537.1,249.5 538.5,245.2 540.0,241.7 541.5,260.6 543.0,241.3 544.4,240.9 545.9,240.6 547.4,231.1 548.9,237.2 550.3,229.4 551.8,239.5 553.3,235.5 554.8,253.4 556.3,250.3 557.7,232.7 559.2,246.1 560.7,230.0 562.2,244.8 563.6,243.2 565.1,242.9 566.6,249.6 568.1,243.1 569.5,244.6 571.0,260.3 572.5,234.5 574.0,249.6 575.4,259.4 576.9,234.4 578.4,262.0 579.9,250.8 581.3,248.8 582.8,250.2 584.3,249.9 585.8,244.4 587.2,238.9 588.7,270.6 590.2,273.3" stroke="#00ff00"/>
<polyline points="368.8,224.8 370.3,216.9 371.8,201.6 373.2,204.7 374.7,225.7 376.2,210.8 377.7,217.8 379.1,225.9 380.6,218.9 382.1,224.8 383.6,205.4 385.0,230.8 386.5,208.5 388.0,218.0 389.5,205.6 390.9,208.5 392.4,216.4 393.9,209.4 395.4,214.1 396.8,209.3 398.3,200.8 399.8,216.7 401.3,204.3 402.7,217.3 404.2,215.1 405.7,215.3 407.2,209.8 408.7,220.6 410.1,219.8 411.6,199.4 413.1,214.4 414.6,219.5 416.0,213.0 417.5,224.3 419.0,205.4 420.5,211.3 421.9,210.5 423.4,223.2 424.9,221.9 426.4,215.3 427.8,213.7 429.3,232.0 430.8,220.7 432.3,228.3 433.7,219.1 435.2,206.2 436.7,200.1 438.2,217.6 439.6,224.9 441.1,211.0 442.6,221.2 444.1,214.8 445.6,230.8 447.0,234.9 448.5,205.8 450.0,222.1 451.5,222.5 452.9,208.5 454.4,241.3 455.9,210.3 457.4,209.2 458.8,220.5 460.3,229.3 461.8,212.8 463.3,213.5 464.7,211.3 466.2,223.5 467.7,230.4 469.2,233.1 470.6,228.3 472.1,222.5 473.6,214.8 475.1,228.6 476.5,200.7 478.0,233.5 479.5,236.8 481.0,240.1 482.5,224.6 483.9,219.0 485.4,232.0 486.9,219.1 488.4,224.6 489.8,211.8 491.3,227.3 492.8,241.7 494.3,236.3 495.7,219.5 497.2,241.6 498.7,219.8 500.2,221.0 501.6,219.3 503.1,232.9 504.6,240.6 506.1,217.3 507.5,232.8 509.0,244.7 510.5,246.9 512.0,242.1 513.4,246.0 514.9,235.4 516.4,257.7 517.9,229.6 519.4,253.5 520.8,226.4 522.3,235.7 523.8,243.4 525.3,237.4 526.7,242.6 528.2,233.1 529.7,225.7 531.2,218.1 532.6,226.8 534.1,230.3 535.6,218.4 537.1,229.9 538.5,249.0 540.0,232.8 541.5,243.8 543.0,232.0 544.4,231.4 545.9,233.1 547.4,232.5 548.9,239.7 550.3,232.7 551.8,246.3 553.3,248.2 554.8,233.7 556.3,222.6 557.7,233.2 559.2,233.8 560.7,224.8 562.2,245.3 563.6,256.7 565.1,263.7 566.6,262.8 568.1,257.3 569.5,268.2 571.0,263.8 572.5,223.0 574.0,240.4 575.4,230.0 576.9,246.5 578.4,229.6 579.9,262.1 581.3,259.9 582.8,252.1 584.3,240.2 585.8,252.0 587.2,251.6 588.7,236.8 590.2,251.3" stroke="#00ff40"/>
<polyline points="368.8,217.7 370.3,213.7 371.8,212.9 373.2,221.2 374.7,202.4 376.2,216.2 377.7,215.1 379.1,219.9 380.6,208.0 382.1,202.9 383.6,218.3 385.0,222.2 386.5,226.6 388.0,224.2 389.5,217.0 390.9,200.5 392.4,211.2 393.9,210.3 395.4,214.6 396.8,215.0 398.3,206.3 399.8,220.0 401.3,208.2 402.7,228.4 404.2,226.1 405.7,207.8 407.2,215.0 408.7,207.7 410.1,201.8 411.6,214.9 413.1,218.2 414.6,225.4 416.0,204.7 417.5,213.9 419.0,223.4 420.5,222.8 421.9,218.2 423.4,229.0 424.9,221.6 426.4,200.6 427.8,212.2 429.3,207.5 430.8,229.0 432.3,215.1 433.7,234.3 435.2,207.1 436.7,219.7 438.2,213.6 439.6,230.4 441.1,223.2 442.6,230.9 444.1,221.2 445.6,220.5 447.0,209.5 448.5,205.2 450.0,223.6 451.5,219.3 452.9,213.8 454.4,222.7 455.9,231.7 457.4,210.5 458.8,226.9 460.3,234.9 461.8,241.8 463.3,221.1 464.7,227.3 466.2,205.8 467.7,229.9 469.2,245.0 470.6,240.8 472.1,203.0 473.6,236.8 475.1,216.8 476.5,227.3 478.0,220.8 479.5,232.2 481.0,217.7 482.5,230.0 483.9,226.3 485.4,229.0 486.9,222.0 488.4,217.0 489.8,239.1 491.3,216.1 492.8,219.0 494.3,234.6 495.7,218.4 497.2,231.6 498.7,221.3 500.2,244.1 501.6,245.4 503.1,210.6 504.6,232.0 506.1,234.8 507.5,243.5 509.0,216.4 510.5,230.6 512.0,226.9 513.4,242.6 514.9,233.9 516.4,243.0 517.9,249.8 519.4,241.9 520.8,223.6 522.3,239.6 523.8,237.3 525.3,214.4 526.7,220.8 528.2,222.1 529.7,228.5 531.2,218.2 532.6,229.4 534.1,229.4 535.6,242.4 537.1,223.9 538.5,235.6 540.0,230.0 541.5,231.2 543.0,235.9 544.4,255.1 545.9,238.6 547.4,221.1 548.9,249.7 550.3,252.6 551.8,249.9 553.3,258.0 554.8,281.4 556.3,243.0 557.7,237.2 559.2,223.8 560.7,220.0 562.2,236.3 563.6,256.1 565.1,237.9 566.6,235.4 568.1,244.5 569.5,239.1 571.0,247.6 572.5,215.5 574.0,243.3 575.4,256.4 576.9,246.5 578.4,228.2 579.9,258.3 581.3,254.7 582.8,253.3 584.3,251.2 585.8,219.9 587.2,238.2 588.7,256.7 590.2,262.2" stroke="#80ff00"/>
<polyline points="368.8,224.4 370.3,226.9 371.8,228.0 373.2,227.5 374.7,204.4 376.2,220.1 377.7,213.0 379.1,206.5 380.6,212.6 382.1,214.2 383.6,219.3 385.0,212.5 386.5,219.3 388.0,208.3 389.5,222.4 390.9,195.1 392.4,221.9 393.9,201.8 395.4,219.6 396.8,218.8 398.3,217.5 399.8,219.0 401.3,220.3 402.7,220.9 404.2,216.6 405.7,207.2 407.2,206.1 408.7,227.3 410.1,218.9 411.6,218.7 413.1,227.2 414.6,220.6 416.0,199.9 417.5,223.5 419.0,211.7 420.5,208.1 421.9,215.9 423.4,231.1 424.9,218.2 426.4,221.2 427.8,224.0 429.3,211.4 430.8,213.2 432.3,238.7 433.7,221.2 435.2,219.1 436.7,222.0 438.2,222.6 439.6,230.7 441.1,208.6 442.6,227.1 444.1,226.9 445.6,224.3 447.0,244.9 448.5,205.5 450.0,225.6 451.5,206.9 452.9,215.3 454.4,216.0 455.9,204.9 457.4,230.2 458.8,231.5 460.3,221.2 461.8,230.8 463.3,210.4 464.7,212.9 466.2,221.3 467.7,222.0 469.2,217.3 470.6,217.1 472.1,218.5 473.6,219.0 475.1,211.0 476.5,217.1 478.0,225.1 479.5,232.1 481.0,222.1 482.5,230.0 483.9,227.9 485.4,232.1 486.9,225.4 488.4,226.1 489.8,224.5 491.3,243.6 492.8,223.6 494.3,241.1 495.7,245.3 497.2,244.7 498.7,222.4 500.2,248.8 501.6,243.9 503.1,229.9 504.6,229.3 506.1,217.0 507.5,238.3 509.0,239.0 510.5,226.1 512.0,230.3 513.4,218.2 514.9,228.2 516.4,241.7 517.9,262.2 519.4,225.7 520.8,217.4 522.3,232.4 523.8,221.8 525.3,226.6 526.7,254.9 528.2,232.7 529.7,238.3 531.2,241.8 532.6,248.3 534.1,222.5 535.6,215.9 537.1,232.5 538.5,243.0 540.0,222.8 541.5,237.8 543.0,248.4 544.4,236.9 545.9,242.7 547.4,247.9 548.9,228.4 550.3,236.7 551.8,252.2 553.3,223.3 554.8,224.3 556.3,241.1 557.7,251.0 559.2,253.8 560.7,239.2 562.2,244.6 563.6,254.8 565.1,228.8 566.6,232.0 568.1,252.2 569.5,233.1 571.0,240.7 572.5,263.3 574.0,233.1 575.4,254.8 576.9,247.6 578.4,255.2 579.9,253.3 581.3,231.6 582.8,234.0 584.3,270.8 585.8,244.6 587.2,244.8 588.7,255.2 590.2,247.6" stroke="#40ff00"/>
<polyline points="368.8,228.6 370.3,228.7 371.8,220.4 373.2,232.4 374.7,232.8 376.2,217.3 377.7,216.9 379.1,216.4 380.6,199.9 382.1,225.8 383.6,224.0 385.0,209.8 386.5,226.1 388.0,205.8 389.5,211.1 390.9,222.4 392.4,200.4 393.9,226.9 395.4,210.7 396.8,193.3 398.3,212.8 399.8,211.1 401.3,206.2 402.7,215.4 404.2,217.9 405.7,215.3 407.2,214.6 408.7,206.8 410.1,214.6 411.6,213.5 413.1,209.0 414.6,205.0 416.0,215.1 417.5,216.5 419.0,202.0 420.5,213.2 421.9,233.7 423.4,219.9 424.9,207.9 426.4,227.2 427.8,206.6 429.3,206.8 430.8,215.4 432.3,227.6 433.7,204.3 435.2,222.0 436.7,206.4 438.2,210.4 439.6,227.8 441.1,210.2 442.6,233.0 444.1,206.6 445.6,207.2 447.0,227.0 448.5,224.2 450.0,218.0 451.5,217.7 452.9,223.2 454.4,226.7 455.9,228.6 457.4,230.3 458.8,227.3 460.3,223.9 461.8,218.9 463.3,221.0 464.7,225.3 466.2,237.5 467.7,227.5 469.2,213.8 470.6,227.1 472.1,222.5 473.6,223.2 475.1,222.6 476.5,211.5 478.0,223.6 479.5,232.9 481.0,215.3 482.5,244.0 483.9,234.4 485.4,238.3 486.9,239.6 488.4,225.3 489.8,215.8 491.3,224.6 492.8,219.9 494.3,222.7 495.7,227.9 497.2,234.4 498.7,248.5 500.2,233.4 501.6,234.5 503.1,235.9 504.6,208.7 506.1,237.8 507.5,227.6 509.0,219.0 510.5,224.3 512.0,243.2 513.4,218.2 514.9,233.6 516.4,224.6 517.9,230.8 519.4,231.2 520.8,248.9 522.3,257.3 523.8,239.2 525.3,233.4 526.7,239.7 528.2,253.2 529.7,242.5 531.2,251.4 532.6,225.6 534.1,237.2 535.6,229.2 537.1,226.9 538.5,249.5 540.0,228.4 541.5,246.3 543.0,240.4 544.4,240.8 545.9,245.0 547.4,228.3 548.9,243.2 550.3,228.2 551.8,228.0 553.3,263.8 554.8,241.8 556.3,236.5 557.7,240.3 559.2,240.3 560.7,249.2 562.2,256.0 563.6,235.1 565.1,219.2 566.6,228.5 568.1,252.7 569.5,242.5 571.0,257.5 572.5,221.5 574.0,233.8 575.4,252.8 576.9,243.1 578.4,256.1 579.9,254.5 581.3,246.1 582.8,242.8 584.3,242.5 585.8,259.9 587.2,233.1 588.7,212.6 590.2,267.0" stroke="#00ff80"/>
<polyline points="368.8,223.3 370.3,214.7 371.8,218.9 373.2,216.5 374.7,231.7 376.2,211.6 377.7,215.3 379.1,208.6 380.6,216.3 382.1,202.4 383.6,222.4 385.0,214.4 386.5,207.0 388.0,212.4 389.5,206.0 390.9,221.8 392.4,218.7 393.9,212.0 395.4,208.6 396.8,213.0 398.3,220.8 399.8,211.4 401.3,210.8 402.7,208.9 404.2,238.9 405.7,209.0 407.2,206.6 408.7,210.2 410.1,213.9 411.6,224.2 413.1,222.6 414.6,212.6 416.0,216.8 417.5,212.9 419.0,227.2 420.5,204.7 421.9,205.7 423.4,206.9 424.9,210.7 426.4,220.2 427.8,208.6 429.3,208.9 430.8,211.1 432.3,214.6 433.7,219.9 435.2,214.9 436.7,230.9 438.2,218.8 439.6,206.5 441.1,246.5 442.6,239.8 444.1,233.0 445.6,206.6 447.0,218.0 448.5,234.2 450.0,211.8 451.5,196.9 452.9,210.4 454.4,218.6 455.9,194.9 457.4,212.0 458.8,211.4 460.3,209.8 461.8,225.7 463.3,231.5 464.7,226.4 466.2,240.0 467.7,234.1 469.2,220.2 470.6,227.6 472.1,248.2 473.6,224.6 475.1,239.4 476.5,219.3 478.0,236.0 479.5,246.7 481.0,246.0 482.5,221.0 483.9,231.3 485.4,227.7 486.9,226.7 488.4,224.2 489.8,212.6 491.3,229.0 492.8,211.2 494.3,246.9 495.7,226.3 497.2,233.9 498.7,224.8 500.2,218.8 501.6,230.3 503.1,238.1 504.6,224.7 506.1,238.3 507.5,237.8 509.0,227.2 510.5,217.5 512.0,222.5 513.4,244.7 514.9,241.8 516.4,239.0 517.9,225.0 519.4,231.4 520.8,225.4 522.3,222.9 523.8,246.1 525.3,233.0 526.7,236.9 528.2,240.9 529.7,227.2 531.2,230.3 532.6,235.0 534.1,237.7 535.6,250.9 537.1,235.5 538.5,233.4 540.0,240.8 541.5,235.0 543.0,240.9 544.4,226.0 545.9,241.1 547.4,251.1 548.9,241.2 550.3,233.8 551.8,222.2 553.3,253.8 554.8,236.5 556.3,227.2 557.7,242.2 559.2,236.5 560.7,256.9 562.2,248.9 563.6,241.0 565.1,236.2 566.6,238.3 568.1,240.3 569.5,257.7 571.0,226.5 572.5,250.7 574.0,237.7 575.4,248.4 576.9,246.2 578.4,216.9 579.9,230.2 581.3,235.6 582.8,243.1 584.3,259.3 585.8,255.6 587.2,253.2 588.7,260.9 590.2,245.0" stroke="#00ffbf"/>
<polyline points="368.8,221.5 370.3,198.5 371.8,222.1 373.2,218.8 374.7,204.8 376.2,207.4 377.7,221.7 379.1,227.8 380.6,223.7 382.1,212.2 383.6,216.0 385.0,206.3 386.5,217.2 388.0,214.8 389.5,204.4 390.9,213.8 392.4,221.1 393.9,213.2 395.4,226.2 396.8,219.1 398.3,217.1 399.8,216.0 401.3,221.3 402.7,211.0 404.2,224.5 405.7,224.2 407.2,204.5 408.7,230.6 410.1,227.9 411.6,215.8 413.1,217.5 414.6,210.6 416.0,218.8 417.5,220.8 419.0,208.3 420.5,219.4 421.9,232.1 423.4,212.9 424.9,206.7 426.4,210.6 427.8,207.7 429.3,230.7 430.8,210.3 432.3,205.2 433.7,234.6 435.2,203.9 436.7,221.4 438.2,236.5 439.6,202.2 441.1,223.1 442.6,218.3 444.1,218.3 445.6,199.0 447.0,228.0 448.5,231.7 450.0,227.7 451.5,221.6 452.9,241.0 454.4,210.8 455.9,246.0 457.4,233.6 458.8,215.7 460.3,236.2 461.8,241.1 463.3,234.9 464.7,211.7 466.2,228.6 467.7,226.5 469.2,209.2 470.6,238.0 472.1,223.3 473.6,226.4 475.1,214.7 476.5,215.5 478.0,209.0 479.5,246.2 481.0,212.3 482.5,213.4 483.9,227.1 485.4,222.2 486.9,214.3 488.4,216.9 489.8,234.2 491.3,212.1 492.8,214.8 494.3,213.2 495.7,223.3 497.2,229.1 498.7,236.6 500.2,246.6 501.6,223.5 503.1,225.8 504.6,229.1 506.1,249.1 507.5,236.8 509.0,215.5 510.5,234.4 512.0,225.7 513.4,229.6 514.9,234.4 516.4,216.6 517.9,246.1 519.4,227.8 520.8,242.3 522.3,223.2 523.8,238.4 525.3,235.7 526.7,251.2 528.2,224.9 529.7,220.9 531.2,246.8 532.6,243.2 534.1,233.9 535.6,235.4 537.1,240.6 538.5,239.0 540.0,220.8 541.5,246.0 543.0,242.8 544.4,229.1 545.9,241.0 547.4,267.4 548.9,233.0 550.3,248.4 551.8,256.2 553.3,224.3 554.8,240.1 556.3,222.1 557.7,242.3 559.2,250.7 560.7,228.4 562.2,255.5 563.6,241.7 565.1,236.9 566.6,251.0 568.1,246.3 569.5,250.3 571.0,260.4 572.5,246.6 574.0,246.4 575.4,229.4 576.9,248.6 578.4,253.3 579.9,272.7 581.3,229.4 582.8,255.8 584.3,239.0 585.8,256.2 587.2,262.4 588.7,254.6 590.2,252.0" stroke="#00ffff"/>
<polyline points="368.8,210.9 370.3,224.7 371.8,229.5 373.2,214.1 374.7,221.6 376.2,231.2 377.7,216.4 379.1,214.7 380.6,221.2 382.1,206.3 383.6,229.9 385.0,214.6 386.5,213.7 388.0,217.6 389.5,222.6 390.9,209.2 392.4,208.9 393.9,223.3 395.4,224.2 396.8,229.2 398.3,222.1 399.8,213.3 401.3,207.6 402.7,218.2 404.2,215.5 405.7,216.6 407.2,217.8 408.7,221.0 410.1,205.1 411.6,206.3 413.1,220.1 414.6,222.4 416.0,199.2 417.5,215.9 419.0,223.7 420.5,209.4 421.9,210.3 423.4,220.6 424.9,215.4 426.4,202.9 427.8,220.2 429.3,238.0 430.8,216.6 432.3,225.0 433.7,210.8 435.2,226.9 436.7,225.7 438.2,212.5 439.6,223.2 441.1,193.9 442.6,224.8 444.1,212.0 445.6,209.8 447.0,217.0 448.5,215.0 450.0,233.0 451.5,230.6 452.9,203.5 454.4,208.2 455.9,237.9 457.4,230.7 458.8,234.7 460.3,219.0 461.8,222.7 463.3,236.0 464.7,221.5 466.2,239.8 467.7,216.1 469.2,200.2 470.6,211.1 472.1,236.1 473.6,225.7 475.1,231.5 476.5,224.9 478.0,219.4 479.5,222.0 481.0,237.9 482.5,209.3 483.9,221.1 485.4,220.9 486.9,241.7 488.4,222.4 489.8,205.0 491.3,242.6 492.8,231.6 494.3,236.5 495.7,228.1 497.2,233.7 498.7,221.7 500.2,246.9 501.6,214.3 503.1,233.0 504.6,218.1 506.1,224.5 507.5,242.0 509.0,221.9 510.5,236.8 512.0,209.2 513.4,226.5 514.9,232.3 516.4,231.2 517.9,241.7 519.4,234.1 520.8,230.2 522.3,229.5 523.8,229.7 525.3,222.7 526.7,226.2 528.2,245.9 529.7,237.9 531.2,234.6 532.6,228.2 534.1,239.9 535.6,251.5 537.1,234.5 538.5,231.0 540.0,262.8 541.5,234.3 543.0,237.3 544.4,243.9 545.9,235.3 547.4,237.5 548.9,246.7 550.3,239.4 551.8,228.7 553.3,245.3 554.8,219.0 556.3,240.8 557.7,257.1 559.2,245.1 560.7,253.6 562.2,248.2 563.6,256.0 565.1,240.2 566.6,262.1 568.1,253.6 569.5,223.4 571.0,264.9 572.5,249.1 574.0,249.8 575.4,253.5 576.9,255.1 578.4,247.4 579.9,246.1 581.3,250.6 582.8,236.1 584.3,234.6 585.8,234.6 587.2,259.1 588.7,232.9 590.2,226.7" stroke="#0080ff"/>
<polyline points="368.8,222.6 370.3,207.2 371.8,212.1 373.2,204.9 374.7,222.3 376.2,207.5 377.7,208.7 379.1,209.1 380.6,213.3 382.1,212.9 383.6,225.2 385.0,202.7 386.5,195.1 388.0,206.5 389.5,209.9 390.9,197.9 392.4,215.8 393.9,220.1 395.4,214.1 396.8,212.3 398.3,211.7 399.8,217.7 401.3,208.6 402.7,209.9 404.2,200.9 405.7,205.5 407.2,226.8 408.7,209.6 410.1,208.3 411.6,230.9 413.1,212.7 414.6,212.6 416.0,200.5 417.5,205.0 419.0,220.3 420.5,218.0 421.9,229.8 423.4,208.1 424.9,201.8 426.4,222.3 427.8,228.5 429.3,215.1 430.8,205.7 432.3,222.5 433.7,201.9 435.2,211.4 436.7,213.0 438.2,214.8 439.6,228.1 441.1,229.9 442.6,214.3 444.1,219.2 445.6,224.8 447.0,219.6 448.5,221.2 450.0,207.2 451.5,209.3 452.9,225.5 454.4,214.7 455.9,213.7 457.4,223.8 458.8,220.2 460.3,231.6 461.8,221.7 463.3,218.9 464.7,207.1 466.2,220.1 467.7,220.0 469.2,222.0 470.6,212.2 472.1,227.3 473.6,225.6 475.1,231.0 476.5,219.8 478.0,250.2 479.5,216.3 481.0,227.1 482.5,223.9 483.9,220.5 485.4,234.9 486.9,215.3 488.4,225.1 489.8,238.9 491.3,218.2 492.8,236.7 494.3,231.6 495.7,232.3 497.2,223.9 498.7,225.3 500.2,232.1 501.6,232.4 503.1,223.5 504.6,250.3 506.1,218.7 507.5,231.1 509.0,237.7 510.5,248.9 512.0,221.6 513.4,229.2 514.9,233.2 516.4,228.4 517.9,239.5 519.4,240.8 520.8,220.9 522.3,236.1 523.8,249.1 525.3,252.2 526.7,233.3 528.2,243.5 529.7,235.5 531.2,239.7 532.6,246.2 534.1,254.4 535.6,219.2 537.1,225.1 538.5,238.3 540.0,232.6 541.5,249.0 543.0,243.9 544.4,231.6 545.9,229.3 547.4,249.8 548.9,222.4 550.3,250.9 551.8,238.3 553.3,253.8 554.8,239.0 556.3,233.5 557.7,228.7 559.2,253.1 560.7,228.7 562.2,242.7 563.6,244.0 565.1,246.9 566.6,233.5 568.1,260.1 569.5,232.6 571.0,242.7 572.5,238.0 574.0,243.9 575.4,238.1 576.9,255.4 578.4,265.7 579.9,232.8 581.3,257.3 582.8,236.3 584.3,240.3 585.8,229.0 587.2,256.2 588.7,248.5 590.2,239.4" stroke="#0040ff"/>
<polyline points="368.8,234.1 370.3,211.7 371.8,215.3 373.2,222.8 374.7,224.1 376.2,214.5 377.7,202.8 379.1,215.1 380.6,212.1 382.1,214.6 383.6,209.4 385.0,219.2 386.5,218.1 388.0,224.9 389.5,200.1 390.9,209.3 392.4,210.1 393.9,211.2 395.4,211.7 396.8,217.1 398.3,207.7 399.8,213.5 401.3,208.7 402.7,210.0 404.2,214.1 405.7,217.9 407.2,224.2 408.7,204.5 410.1,213.0 411.6,223.5 413.1,217.9 414.6,207.7 416.0,221.1 417.5,209.2 419.0,204.7 420.5,220.0 421.9,230.3 423.4,206.1 424.9,226.5 426.4,212.0 427.8,217.0 429.3,233.4 430.8,218.4 432.3,210.7 433.7,228.4 435.2,212.3 436.7,209.8 438.2,227.1 439.6,215.0 441.1,210.9 442.6,223.4 444.1,213.5 445.6,235.2 447.0,213.2 448.5,211.3 450.0,220.6 451.5,237.6 452.9,225.5 454.4,229.6 455.9,225.8 457.4,221.6 458.8,217.1 460.3,226.4 461.8,232.0 463.3,219.8 464.7,231.9 466.2,218.1 467.7,219.6 469.2,242.8 470.6,231.7 472.1,205.5 473.6,233.2 475.1,219.6 476.5,213.2 478.0,216.6 479.5,236.3 481.0,221.8 482.5,223.8 483.9,234.7 485.4,244.3 486.9,225.1 488.4,231.4 489.8,212.5 491.3,226.4 492.8,258.0 494.3,236.5 495.7,236.1 497.2,218.4 498.7,220.4 500.2,232.4 501.6,221.7 503.1,228.1 504.6,246.9 506.1,214.5 507.5,229.5 509.0,240.1 510.5,218.2 512.0,246.9 513.4,234.2 514.9,236.3 516.4,236.1 517.9,233.9 519.4,221.9 520.8,232.5 522.3,232.4 523.8,243.5 525.3,248.7 526.7,235.2 528.2,244.0 529.7,213.7 531.2,224.4 532.6,233.7 534.1,253.2 535.6,224.7 537.1,239.0 538.5,232.7 540.0,255.4 541.5,234.3 543.0,227.6 544.4,228.9 545.9,242.4 547.4,233.0 548.9,230.8 550.3,235.9 551.8,243.7 553.3,250.6 554.8,233.0 556.3,224.7 557.7,226.6 559.2,243.5 560.7,239.5 562.2,255.4 563.6,248.4 565.1,244.1 566.6,251.1 568.1,252.0 569.5,254.1 571.0,257.1 572.5,252.2 574.0,237.8 575.4,231.8 576.9,251.8 578.4,257.8 579.9,259.2 581.3,258.7 582.8,263.2 584.3,255.1 585.8,221.7 587.2,230.7 588.7,254.4 590.2,264.9" stroke="#0000ff"/>
<polyline points="368.8,219.7 370.3,213.0 371.8,212.9 373.2,193.4 374.7,201.6 376.2,206.0 377.7,212.1 379.1,216.8 380.6,210.5 382.1,217.4 383.6,211.7 385.0,196.4 386.5,206.7 388.0,224.0 389.5,226.5 390.9,216.8 392.4,218.4 393.9,207.9 395.4,214.2 396.8,214.4 398.3,203.6 399.8,209.0 401.3,210.3 402.7,226.8 404.2,204.6 405.7,234.6 407.2,203.9 408.7,221.8 410.1,215.9 411.6,214.4 413.1,221.6 414.6,216.6 416.0,222.6 417.5,218.3 419.0,205.7 420.5,225.2 421.9,216.5 423.4,230.4 424.9,213.8 426.4,232.1 427.8,217.9 429.3,219.5 430.8,225.9 432.3,226.1 433.7,201.8 435.2,235.9 436.7,208.6 438.2,215.6 439.6,226.7 441.1,207.3 442.6,211.1 444.1,220.3 445.6,227.9 447.0,210.0 448.5,224.8 450.0,211.5 451.5,229.4 452.9,235.0 454.4,229.7 455.9,209.1 457.4,224.8 458.8,214.9 460.3,231.8 461.8,238.2 463.3,239.0 464.7,205.3 466.2,234.9 467.7,229.8 469.2,202.6 470.6,239.2 472.1,229.5 473.6,216.3 475.1,245.8 476.5,220.6 478.0,244.2 479.5,215.5 481.0,227.2 482.5,219.2 483.9,228.4 485.4,221.8 486.9,234.8 488.4,227.6 489.8,225.5 491.3,232.2 492.8,232.8 494.3,233.2 495.7,223.3 497.2,232.3 498.7,219.3 500.2,221.8 501.6,228.7 503.1,232.9 504.6,221.6 506.1,235.2 507.5,239.2 509.0,239.3 510.5,238.3 512.0,225.8 513.4,215.9 514.9,215.9 516.4,232.0 517.9,223.1 519.4,250.3 520.8,243.9 522.3,247.0 523.8,222.4 525.3,229.3 526.7,247.2 528.2,216.0 529.7,235.7 531.2,257.5 532.6,215.3 534.1,245.6 535.6,231.2 537.1,229.9 538.5,228.5 540.0,253.4 541.5,235.5 543.0,257.3 544.4,239.7 545.9,232.9 547.4,260.4 548.9,238.8 550.3,241.6 551.8,230.9 553.3,256.2 554.8,233.5 556.3,217.4 557.7,243.9 559.2,241.1 560.7,227.8 562.2,239.6 563.6,249.2 565.1,250.9 566.6,239.5 568.1,253.1 569.5,250.1 571.0,253.7 572.5,234.1 574.0,245.7 575.4,246.9 576.9,232.3 578.4,262.5 579.9,245.9 581.3,234.7 582.8,255.1 584.3,253.1 585.8,229.8 587.2,214.2 588.7,238.8 590.2,246.2" stroke="#00bfff"/>
<polyline points="368.8,201.9 370.3,221.2 371.8,205.2 373.2,218.4 374.7,216.5 376.2,208.3 377.7,226.0 379.1,206.8 380.6,219.2 382.1,207.2 383.6,196.5 385.0,202.9 386.5,218.1 388.0,224.0 389.5,214.5 390.9,217.0 392.4,224.2 393.9,206.8 395.4,219.4 396.8,209.5 398.3,217.3 399.8,196.0 401.3,212.6 402.7,211.9 404.2,227.3 405.7,216.9 407.2,192.4 408.7,216.1 410.1,211.8 411.6,226.7 413.1,216.2 414.6,228.3 416.0,221.2 417.5,211.9 419.0,211.7 420.5,194.8 421.9,220.3 423.4,217.4 424.9,220.3 426.4,221.2 427.8,225.9 429.3,217.2 430.8,215.3 432.3,209.3 433.7,216.4 435.2,215.4 436.7,239.9 438.2,204.9 439.6,225.3 441.1,222.7 442.6,218.5 444.1,211.0 445.6,222.3 447.0,217.5 448.5,206.3 450.0,208.7 451.5,233.9 452.9,222.6 454.4,215.9 455.9,209.2 457.4,232.3 458.8,216.1 460.3,227.5 461.8,212.6 463.3,230.1 464.7,222.6 466.2,226.0 467.7,229.6 469.2,223.2 470.6,234.9 472.1,222.7 473.6,224.6 475.1,220.8 476.5,197.7 478.0,221.7 479.5,214.2 481.0,225.8 482.5,215.4 483.9,230.3 485.4,232.7 486.9,218.7 488.4,246.5 489.8,243.3 491.3,222.5 492.8,229.0 494.3,232.2 495.7,230.9 497.2,232.8 498.7,217.7 500.2,242.5 501.6,241.6 503.1,222.6 504.6,205.4 506.1,236.8 507.5,224.6 509.0,232.6 510.5,228.0 512.0,217.7 513.4,231.8 514.9,232.7 516.4,242.0 517.9,230.5 519.4,224.7 520.8,240.6 522.3,213.1 523.8,222.9 525.3,238.7 526.7,232.2 528.2,223.3 529.7,233.2 531.2,236.1 532.6,221.3 534.1,214.6 535.6,246.0 537.1,226.1 538.5,235.2 540.0,218.0 541.5,241.4 543.0,244.6 544.4,232.8 545.9,230.3 547.4,218.8 548.9,242.1 550.3,236.6 551.8,239.8 553.3,235.5 554.8,241.6 556.3,230.8 557.7,233.7 559.2,242.9 560.7,251.4 562.2,255.0 563.6,236.5 565.1,237.5 566.6,249.6 568.1,247.0 569.5,259.8 571.0,237.3 572.5,247.7 574.0,225.5 575.4,233.5 576.9,248.6 578.4,260.5 579.9,259.4 581.3,264.2 582.8,237.6 584.3,268.5 585.8,272.1 587.2,246.8 588.7,247.9 590.2,240.4" stroke="#bf00ff"/>
<polyline points="368.8,223.3 370.3,229.1 371.8,212.8 373.2,214.5 374.7,221.8 376.2,228.9 377.7,218.8 379.1,215.7 380.6,225.9 382.1,201.1 383.6,203.6 385.0,204.9 386.5,216.7 388.0,227.0 389.5,201.3 390.9,215.1 392.4,204.3 393.9,222.7 395.4,203.2 396.8,230.6 398.3,202.1 399.8,199.4 401.3,209.5 402.7,220.3 404.2,215.6 405.7,205.4 407.2,203.9 408.7,207.6 410.1,214.4 411.6,203.1 413.1,215.4 414.6,231.5 416.0,224.7 417.5,223.0 419.0,207.7 420.5,216.5 421.9,211.0 423.4,206.8 424.9,217.4 426.4,220.9 427.8,208.1 429.3,219.9 430.8,201.3 432.3,216.3 433.7,200.8 435.2,208.1 436.7,213.0 438.2,210.5 439.6,229.0 441.1,205.9 442.6,210.2 444.1,242.4 445.6,207.5 447.0,204.6 448.5,215.1 450.0,208.8 451.5,202.4 452.9,203.4 454.4,204.4 455.9,202.6 457.4,215.2 458.8,215.5 460.3,236.7 461.8,231.2 463.3,222.6 464.7,219.6 466.2,211.2 467.7,217.4 469.2,235.6 470.6,230.3 472.1,211.5 473.6,209.5 475.1,232.8 476.5,230.9 478.0,215.9 479.5,215.6 481.0,221.6 482.5,213.4 483.9,246.9 485.4,232.4 486.9,224.0 488.4,233.4 489.8,235.1 491.3,234.6 492.8,237.4 494.3,239.8 495.7,219.8 497.2,226.9 498.7,237.1 500.2,239.4 501.6,228.5 503.1,216.4 504.6,242.6 506.1,232.7 507.5,224.4 509.0,221.7 510.5,247.6 512.0,252.3 513.4,227.6 514.9,237.5 516.4,231.0 517.9,233.9 519.4,224.7 520.8,246.4 522.3,231.0 523.8,220.6 525.3,206.1 526.7,226.3 528.2,215.4 529.7,220.5 531.2,220.5 532.6,239.0 534.1,241.1 535.6,225.7 537.1,238.0 538.5,238.8 540.0,234.5 541.5,228.8 543.0,242.8 544.4,249.1 545.9,230.5 547.4,250.5 548.9,259.6 550.3,224.4 551.8,251.7 553.3,263.0 554.8,247.9 556.3,245.3 557.7,247.6 559.2,238.0 560.7,226.7 562.2,251.6 563.6,224.8 565.1,258.4 566.6,239.9 568.1,248.9 569.5,250.5 571.0,240.1 572.5,264.1 574.0,220.1 575.4,232.1 576.9,233.7 578.4,251.4 579.9,241.5 581.3,243.5 582.8,237.9 584.3,265.7 585.8,242.4 587.2,249.7 588.7,255.0 590.2,224.8" stroke="#8000ff"/>
<polyline points="368.8,208.4 370.3,211.0 371.8,212.7 373.2,218.9 374.7,214.1 376.2,207.6 377.7,215.9 379.1,223.2 380.6,221.3 382.1,214.3 383.6,223.1 385.0,204.8 386.5,206.3 388.0,208.8 389.5,233.5 390.9,219.2 392.4,198.3 393.9,219.3 395.4,199.9 396.8,206.5 398.3,203.0 399.8,218.2 401.3,210.9 402.7,204.5 404.2,212.8 405.7,203.3 407.2,216.5 408.7,208.5 410.1,227.8 411.6,231.8 413.1,215.8 414.6,221.5 416.0,212.5 417.5,211.1 419.0,236.2 420.5,205.7 421.9,212.0 423.4,220.0 424.9,224.0 426.4,223.5 427.8,232.3 429.3,214.5 430.8,209.4 432.3,211.2 433.7,213.5 435.2,218.2 436.7,212.3 438.2,221.9 439.6,202.0 441.1,223.4 442.6,213.1 444.1,213.3 445.6,218.8 447.0,211.5 448.5,212.3 450.0,233.8 451.5,227.4 452.9,219.0 454.4,220.5 455.9,219.2 457.4,208.6 458.8,243.3 460.3,220.3 461.8,214.7 463.3,221.1 464.7,224.5 466.2,224.2 467.7,204.9 469.2,227.6 470.6,219.2 472.1,215.0 473.6,232.6 475.1,207.2 476.5,232.5 478.0,218.6 479.5,234.5 481.0,212.0 482.5,214.1 483.9,240.3 485.4,225.1 486.9,220.8 488.4,233.3 489.8,216.3 491.3,220.1 492.8,237.6 494.3,225.5 495.7,231.6 497.2,211.0 498.7,236.7 500.2,229.8 501.6,202.7 503.1,226.5 504.6,235.7 506.1,232.2 507.5,242.7 509.0,236.1 510.5,227.4 512.0,236.5 513.4,245.7 514.9,229.3 516.4,233.3 517.9,230.9 519.4,234.5 520.8,237.0 522.3,252.2 523.8,235.1 525.3,242.7 526.7,218.8 528.2,229.9 529.7,228.3 531.2,228.9 532.6,239.6 534.1,240.3 535.6,233.1 537.1,232.1 538.5,239.4 540.0,247.9 541.5,240.1 543.0,246.3 544.4,252.4 545.9,231.6 547.4,253.7 548.9,243.3 550.3,239.8 551.8,244.9 553.3,247.6 554.8,251.7 556.3,239.7 557.7,243.0 559.2,250.9 560.7,237.6 562.2,246.5 563.6,241.1 565.1,216.8 566.6,242.8 568.1,255.3 569.5,248.7 571.0,237.0 572.5,212.0 574.0,243.7 575.4,252.2 576.9,243.5 578.4,242.9 579.9,239.1 581.3,267.3 582.8,249.8 584.3,242.2 585.8,266.9 587.2,251.7 588.7,250.0 590.2,228.1" stroke="#4000ff"/>
<polyline points="368.8,213.9 370.3,206.6 371.8,223.5 373.2,206.3 374.7,220.2 376.2,206.8 377.7,220.7 379.1,230.7 380.6,227.2 382.1,226.8 383.6,210.7 385.0,209.7 386.5,202.1 388.0,212.0 389.5,215.0 390.9,200.5 392.4,224.0 393.9,211.5 395.4,205.5 396.8,235.4 398.3,213.1 399.8,228.7 401.3,199.8 402.7,223.3 404.2,203.6 405.7,211.7 407.2,234.3 408.7,209.8 410.1,215.7 411.6,203.3 413.1,229.7 414.6,208.0 416.0,215.4 417.5,214.3 419.0,224.8 420.5,211.8 421.9,207.5 423.4,229.0 424.9,205.0 426.4,216.0 427.8,226.2 429.3,219.9 430.8,233.7 432.3,224.7 433.7,215.4 435.2,206.5 436.7,203.7 438.2,228.6 439.6,221.1 441.1,210.7 442.6,219.0 444.1,221.9 445.6,233.9 447.0,244.4 448.5,212.8 450.0,213.3 451.5,201.7 452.9,232.0 454.4,209.8 455.9,214.8 457.4,216.9 458.8,211.2 460.3,219.7 461.8,227.2 463.3,222.3 464.7,224.0 466.2,206.2 467.7,225.6 469.2,239.8 470.6,234.9 472.1,215.6 473.6,223.7 475.1,232.2 476.5,221.4 478.0,217.3 479.5,224.7 481.0,214.9 482.5,224.2 483.9,233.3 485.4,214.7 486.9,217.0 488.4,218.7 489.8,215.5 491.3,234.0 492.8,228.7 494.3,229.3 495.7,217.1 497.2,226.0 498.7,231.1 500.2,213.2 501.6,235.5 503.1,242.4 504.6,231.2 506.1,214.3 507.5,216.2 509.0,228.7 510.5,264.8 512.0,234.8 513.4,235.4 514.9,236.7 516.4,227.3 517.9,239.7 519.4,222.5 520.8,226.8 522.3,229.9 523.8,244.4 525.3,244.5 526.7,241.5 528.2,236.6 529.7,223.9 531.2,231.9 532.6,255.4 534.1,252.3 535.6,229.3 537.1,231.1 538.5,244.7 540.0,229.4 541.5,239.1 543.0,232.2 544.4,243.9 545.9,245.3 547.4,212.0 548.9,239.4 550.3,231.6 551.8,238.7 553.3,230.6 554.8,250.6 556.3,241.3 557.7,230.2 559.2,225.8 560.7,262.9 562.2,227.2 563.6,249.9 565.1,244.5 566.6,248.5 568.1,255.9 569.5,244.4 571.0,237.3 572.5,256.7 574.0,246.9 575.4,239.4 576.9,237.5 578.4,265.7 579.9,248.3 581.3,255.3 582.8,241.7 584.3,263.3 585.8,245.1 587.2,265.7 588.7,248.8 590.2,256.1" stroke="#ff00ff"/>
<polyline points="368.8,214.8 370.3,226.1 371.8,217.9 373.2,204.1 374.7,207.8 376.2,220.5 377.7,216.5 379.1,211.5 380.6,211.4 382.1,228.8 383.6,212.1 385.0,232.0 386.5,220.5 388.0,209.7 389.5,213.7 390.9,209.3 392.4,226.7 393.9,207.4 395.4,215.0 396.8,217.4 398.3,211.5 399.8,198.9 401.3,222.6 402.7,207.2 404.2,203.9 405.7,209.3 407.2,202.0 408.7,208.2 410.1,231.7 411.6,204.0 413.1,211.2 414.6,216.0 416.0,221.0 417.5,218.8 419.0,210.5 420.5,224.5 421.9,213.2 423.4,209.1 424.9,211.6 426.4,217.5 427.8,225.2 429.3,234.3 430.8,224.2 432.3,225.3 433.7,227.5 435.2,210.0 436.7,223.7 438.2,217.3 439.6,219.4 441.1,213.1 442.6,230.9 444.1,215.0 445.6,212.6 447.0,205.4 448.5,226.3 450.0,236.4 451.5,219.5 452.9,208.3 454.4,230.0 455.9,206.3 457.4,227.6 458.8,231.5 460.3,230.8 461.8,226.4 463.3,219.4 464.7,207.1 466.2,234.6 467.7,214.5 469.2,249.1 470.6,222.8 472.1,245.9 473.6,240.7 475.1,218.1 476.5,233.4 478.0,231.3 479.5,222.4 481.0,221.1 482.5,225.9 483.9,227.6 485.4,237.2 486.9,216.2 488.4,216.6 489.8,215.0 491.3,226.9 492.8,232.7 494.3,220.6 495.7,225.9 497.2,209.3 498.7,244.1 500.2,240.9 501.6,241.3 503.1,225.2 504.6,226.9 506.1,223.8 507.5,239.9 509.0,218.2 510.5,222.1 512.0,209.9 513.4,240.5 514.9,233.0 516.4,240.6 517.9,231.1 519.4,231.5 520.8,246.7 522.3,235.0 523.8,226.6 525.3,227.7 526.7,213.4 528.2,237.5 529.7,227.1 531.2,226.1 532.6,240.3 534.1,236.4 535.6,251.1 537.1,246.0 538.5,251.8 540.0,212.6 541.5,256.7 543.0,236.9 544.4,243.8 545.9,262.9 547.4,249.9 548.9,233.8 550.3,244.3 551.8,235.6 553.3,217.7 554.8,234.5 556.3,248.5 557.7,229.7 559.2,252.2 560.7,251.7 562.2,241.7 563.6,223.3 565.1,247.2 566.6,218.8 568.1,245.2 569.5,259.9 571.0,257.7 572.5,245.7 574.0,219.9 575.4,246.8 576.9,257.1 578.4,236.3 579.9,249.3 581.3,248.1 582.8,220.4 584.3,256.9 585.8,234.8 587.2,265.3 588.7,241.3 590.2,244.2" stroke="#ff0040"/>
<polyline points="368.8,228.8 370.3,202.4 371.8,220.3 373.2,226.2 374.7,224.6 376.2,211.3 377.7,201.1 379.1,215.3 380.6,204.4 382.1,204.2 383.6,203.6 385.0,216.3 386.5,209.6 388.0,213.5 389.5,203.5 390.9,217.3 392.4,221.0 393.9,224.7 395.4,215.9 396.8,210.4 398.3,213.7 399.8,212.5 401.3,213.5 402.7,215.8 404.2,212.6 405.7,208.2 407.2,209.8 408.7,216.2 410.1,202.3 411.6,224.5 413.1,216.6 414.6,206.2 416.0,208.8 417.5,222.8 419.0,213.7 420.5,212.3 421.9,228.1 423.4,217.8 424.9,202.5 426.4,229.1 427.8,216.3 429.3,226.1 430.8,205.2 432.3,230.8 433.7,228.9 435.2,216.8 436.7,211.5 438.2,213.5 439.6,223.4 441.1,208.3 442.6,221.3 444.1,225.5 445.6,211.4 447.0,202.1 448.5,226.7 450.0,223.3 451.5,212.1 452.9,213.3 454.4,225.3 455.9,224.1 457.4,240.1 458.8,211.1 460.3,209.2 461.8,231.1 463.3,227.6 464.7,230.5 466.2,227.6 467.7,222.0 469.2,219.1 470.6,237.6 472.1,230.9 473.6,247.7 475.1,220.7 476.5,222.3 478.0,209.8 479.5,214.6 481.0,226.6 482.5,219.6 483.9,224.9 485.4,236.1 486.9,219.7 488.4,231.7 489.8,225.1 491.3,234.7 492.8,221.3 494.3,223.3 495.7,234.8 497.2,215.5 498.7,230.5 500.2,232.7 501.6,235.9 503.1,219.9 504.6,230.7 506.1,204.5 507.5,229.8 509.0,232.1 510.5,208.9 512.0,243.8 513.4,227.9 514.9,222.3 516.4,221.1 517.9,229.2 519.4,227.9 520.8,219.6 522.3,218.4 523.8,252.3 525.3,242.5 526.7,222.8 528.2,225.2 529.7,238.8 531.2,231.1 532.6,239.0 534.1,219.8 535.6,236.4 537.1,227.5 538.5,233.8 540.0,249.9 541.5,241.8 543.0,249.7 544.4,220.7 545.9,227.9 547.4,239.5 548.9,231.0 550.3,240.6 551.8,258.5 553.3,226.4 554.8,252.6 556.3,226.6 557.7,238.3 559.2,245.6 560.7,239.6 562.2,223.9 563.6,248.1 565.1,258.9 566.6,234.7 568.1,239.9 569.5,241.9 571.0,248.8 572.5,256.0 574.0,243.2 575.4,241.8 576.9,244.5 578.4,245.4 579.9,229.6 581.3,255.4 582.8,251.4 584.3,251.6 585.8,254.3 587.2,238.1 588.7,246.8 590.2,243.3" stroke="#ff00bf"/>
<polyline points="368.8,202.2 370.3,219.2 371.8,206.3 373.2,209.2 374.7,220.7 376.2,210.0 377.7,207.1 379.1,215.2 380.6,224.6 382.1,213.4 383.6,214.8 385.0,203.0 386.5,224.9 388.0,219.4 389.5,234.8 390.9,231.0 392.4,214.3 393.9,206.2 395.4,231.2 396.8,221.9 398.3,210.5 399.8,208.5 401.3,213.9 402.7,206.6 404.2,209.3 405.7,218.2 407.2,215.6 408.7,221.1 410.1,234.3 411.6,224.4 413.1,217.4 414.6,206.9 416.0,217.1 417.5,213.6 419.0,202.4 420.5,219.9 421.9,222.3 423.4,201.5 424.9,228.6 426.4,226.8 427.8,217.1 429.3,218.1 430.8,211.1 432.3,207.8 433.7,212.5 435.2,219.6 436.7,220.3 438.2,221.3 439.6,249.2 441.1,192.8 442.6,227.9 444.1,223.3 445.6,220.0 447.0,215.2 448.5,220.2 450.0,222.1 451.5,225.0 452.9,223.3 454.4,240.3 455.9,228.9 457.4,235.7 458.8,217.5 460.3,233.3 461.8,227.4 463.3,208.5 464.7,238.1 466.2,221.8 467.7,248.7 469.2,210.2 470.6,229.5 472.1,228.2 473.6,228.2 475.1,237.0 476.5,211.7 478.0,204.9 479.5,244.8 481.0,227.7 482.5,231.9 483.9,212.3 485.4,234.6 486.9,217.0 488.4,217.2 489.8,230.3 491.3,231.4 492.8,210.0 494.3,231.8 495.7,230.9 497.2,231.9 498.7,226.7 500.2,222.6 501.6,227.9 503.1,222.9 504.6,240.6 506.1,217.3 507.5,231.3 509.0,232.0 510.5,230.3 512.0,233.4 513.4,222.5 514.9,232.3 516.4,233.2 517.9,250.7 519.4,243.7 520.8,222.7 522.3,235.7 523.8,238.7 525.3,230.7 526.7,249.5 528.2,215.2 529.7,237.9 531.2,222.4 532.6,237.5 534.1,236.8 535.6,233.4 537.1,234.2 538.5,250.6 540.0,244.7 541.5,232.0 543.0,252.8 544.4,231.6 545.9,243.2 547.4,240.1 548.9,239.8 550.3,233.1 551.8,237.1 553.3,221.5 554.8,246.4 556.3,243.5 557.7,237.5 559.2,233.1 560.7,257.4 562.2,237.7 563.6,233.7 565.1,238.3 566.6,224.6 568.1,237.6 569.5,239.5 571.0,250.5 572.5,245.5 574.0,262.3 575.4,265.2 576.9,234.6 578.4,227.6 579.9,240.6 581.3,244.8 582.8,257.6 584.3,243.5 585.8,254.1 587.2,255.7 588.7,251.8 590.2,249.0" stroke="#ff0080"/>
</g>
<polyline points="368.8,215.4 370.3,215.4 371.8,214.8 373.2,213.0 374.7,212.3 376.2,216.0 377.7,216.9 379.1,215.0 380.6,216.8 382.1,216.3 383.6,213.8 385.0,215.7 386.5,215.9 388.0,215.2 389.5,216.9 390.9,214.4 392.4,212.7 393.9,215.3 395.4,212.6 396.8,211.2 398.3,211.7 399.8,212.9 401.3,215.6 402.7,215.1 404.2,213.9 405.7,213.2 407.2,212.3 408.7,214.2 410.1,216.9 411.6,214.7 413.1,215.5 414.6,216.6 416.0,215.0 417.5,215.2 419.0,214.6 420.5,214.6 421.9,212.9 423.4,213.2 424.9,215.8 426.4,217.0 427.8,215.6 429.3,215.6 430.8,216.8 432.3,215.3 433.7,216.3 435.2,217.0 436.7,216.0 438.2,215.4 439.6,216.7 441.1,216.3 442.6,216.2 444.1,219.2 445.6,219.7 447.0,218.5 448.5,218.8 450.0,220.8 451.5,220.9 452.9,220.6 454.4,220.4 455.9,221.2 457.4,221.6 458.8,221.3 460.3,223.4 461.8,223.6 463.3,222.4 464.7,223.0 466.2,222.7 467.7,220.7 469.2,221.6 470.6,222.3 472.1,222.1 473.6,224.0 475.1,224.5 476.5,224.1 478.0,224.9 479.5,226.6 481.0,226.3 482.5,224.7 483.9,221.9 485.4,223.2 486.9,226.4 488.4,226.5 489.8,226.2 491.3,222.6 492.8,223.1 494.3,227.7 495.7,227.3 497.2,227.0 498.7,226.6 500.2,226.0 501.6,228.0 503.1,228.2 504.6,226.5 506.1,228.0 507.5,228.6 509.0,227.7 510.5,230.5 512.0,231.9 513.4,231.5 514.9,230.6 516.4,231.0 517.9,229.8 519.4,230.9 520.8,235.0 522.3,232.4 523.8,230.8 525.3,232.8 526.7,232.2 528.2,234.1 529.7,237.9 531.2,235.7 532.6,234.7 534.1,235.6 535.6,235.6 537.1,237.3 538.5,237.6 540.0,236.7 541.5,237.0 543.0,237.1 544.4,237.6 545.9,238.5 547.4,236.5 548.9,236.6 550.3,239.7 551.8,241.1 553.3,241.4 554.8,241.8 556.3,242.5 557.7,241.5 559.2,240.5 560.7,241.0 562.2,241.8 563.6,245.1 565.1,246.4 566.6,244.1 568.1,244.8 569.5,246.2 571.0,246.4 572.5,246.9 574.0,244.1 575.4,244.0 576.9,246.7 578.4,248.2 579.9,247.6 581.3,248.2 582.8,248.2 584.3,247.0 585.8,248.0 587.2,248.4 588.7,248.4 590.2,248.7" class="mn"/>
<polyline points="368.8,227.1 370.3,228.1 371.8,224.0 373.2,229.9 374.7,221.8 376.2,226.4 377.7,229.5 379.1,225.6 380.6,225.1 382.1,225.6 383.6,227.7 385.0,225.0 386.5,226.1 388.0,224.9 389.5,224.4 390.9,222.7 392.4,223.3 393.9,223.9 395.4,224.6 396.8,224.6 398.3,221.6 399.8,223.7 401.3,223.6 402.7,226.5 404.2,222.7 405.7,223.6 407.2,225.2 408.7,223.8 410.1,222.7 411.6,224.8 413.1,224.0 414.6,224.2 416.0,222.9 417.5,226.6 419.0,224.8 420.5,224.9 421.9,224.0 423.4,225.2 424.9,226.1 426.4,226.4 427.8,223.9 429.3,225.4 430.8,225.5 432.3,225.0 433.7,228.7 435.2,226.2 436.7,228.1 438.2,223.7 439.6,221.9 441.1,227.1 442.6,226.0 444.1,226.3 445.6,227.9 447.0,225.7 448.5,229.7 450.0,225.1 451.5,228.1 452.9,227.0 454.4,228.8 455.9,226.5 457.4,231.0 458.8,231.0 460.3,230.8 461.8,229.6 463.3,227.4 464.7,229.9 466.2,229.3 467.7,227.1 469.2,233.1 470.6,230.9 472.1,232.1 473.6,232.5 475.1,231.1 476.5,228.3 478.0,232.4 479.5,231.9 481.0,232.2 482.5,232.0 483.9,231.4 485.4,234.9 486.9,233.3 488.4,234.0 489.8,231.3 491.3,233.8 492.8,233.8 494.3,235.2 495.7,235.6 497.2,232.2 498.7,233.9 500.2,235.3 501.6,235.3 503.1,233.5 504.6,235.3 506.1,235.6 507.5,235.2 509.0,235.7 510.5,237.1 512.0,237.5 513.4,237.1 514.9,237.1 516.4,238.0 517.9,237.0 519.4,236.0 520.8,236.5 522.3,236.1 523.8,235.1 525.3,237.0 526.7,237.2 528.2,240.6 529.7,238.6 531.2,239.2 532.6,241.2 534.1,237.4 535.6,240.8 537.1,238.3 538.5,238.2 540.0,235.7 541.5,237.8 543.0,239.5 544.4,237.6 545.9,238.8 547.4,238.9 548.9,241.8 550.3,238.6 551.8,241.8 553.3,241.5 554.8,243.5 556.3,243.6 557.7,243.7 559.2,241.8 560.7,241.2 562.2,244.4 563.6,242.9 565.1,243.7 566.6,244.0 568.1,245.2 569.5,243.6 571.0,245.5 572.5,247.3 574.0,244.8 575.4,243.3 576.9,244.1 578.4,245.5 579.9,248.4 581.3,246.7 582.8,246.9 584.3,250.5 585.8,250.5 587.2,247.9 588.7,250.8 590.2,249.8" class="dt"/>
<g class="ax bt">
<path class="bx" d="M359.9 185.7 V328.3 H599.1"/>
<path d="M353.5 323.0 H359.9"/>
<path d="M353.5 279.0 H359.9"/>
<path d="M353.5 235.0 H359.9"/>
<path d="M353.5 191.0 H359.9"/>
<path d="M368.8 328.3 V334.7"/>
<path d="M442.6 328.3 V334.7"/>
<path d="M516.4 328.3 V334.7"/>
<path d="M590.2 328.3 V334.7"/>
</g>
<text class="tk" transform="translate(344.7 323.4) rotate(-90)" text-anchor="middle">0</text>
<text class="tk" transform="translate(344.7 279.4) rotate(-90)" text-anchor="middle">50</text>
<text class="tk" transform="translate(344.7 235.4) rotate(-90)" text-anchor="middle">100</text>
<text class="tk" transform="translate(344.7 191.4) rotate(-90)" text-anchor="middle">150</text>
<text class="lab" x="364.2" y="196.1">(d)</text>
<text class="tk" x="78.5" y="351.7" text-anchor="middle">1950</text>
<text class="tk" x="152.2" y="351.7" text-anchor="middle">2000</text>
<text class="tk" x="225.8" y="351.7" text-anchor="middle">2050</text>
<text class="tk" x="299.5" y="351.7" text-anchor="middle">2100</text>
<text class="tk" x="369.1" y="351.7" text-anchor="middle">1950</text>
<text class="tk" x="442.9" y="351.7" text-anchor="middle">2000</text>
<text class="tk" x="516.7" y="351.7" text-anchor="middle">2050</text>
<text class="tk" x="590.5" y="351.7" text-anchor="middle">2100</text>
<text class="ttl" x="189.5" y="14.8" text-anchor="middle">Portland, OR</text>
<text class="ttl" x="479.4" y="14.8" text-anchor="middle">Denver, CO</text>
<text class="big" x="335.3" y="371" text-anchor="middle">Year</text>
<text class="big" transform="translate(38.5 85.6) rotate(-90)" text-anchor="middle">Leaf Out</text>
<text class="big" transform="translate(38.5 251.6) rotate(-90)" text-anchor="middle">First Bloom</text>
<text class="big" transform="translate(16.8 172.6) rotate(-90)" text-anchor="middle">Day of Year</text>
</svg>
</body></html>
